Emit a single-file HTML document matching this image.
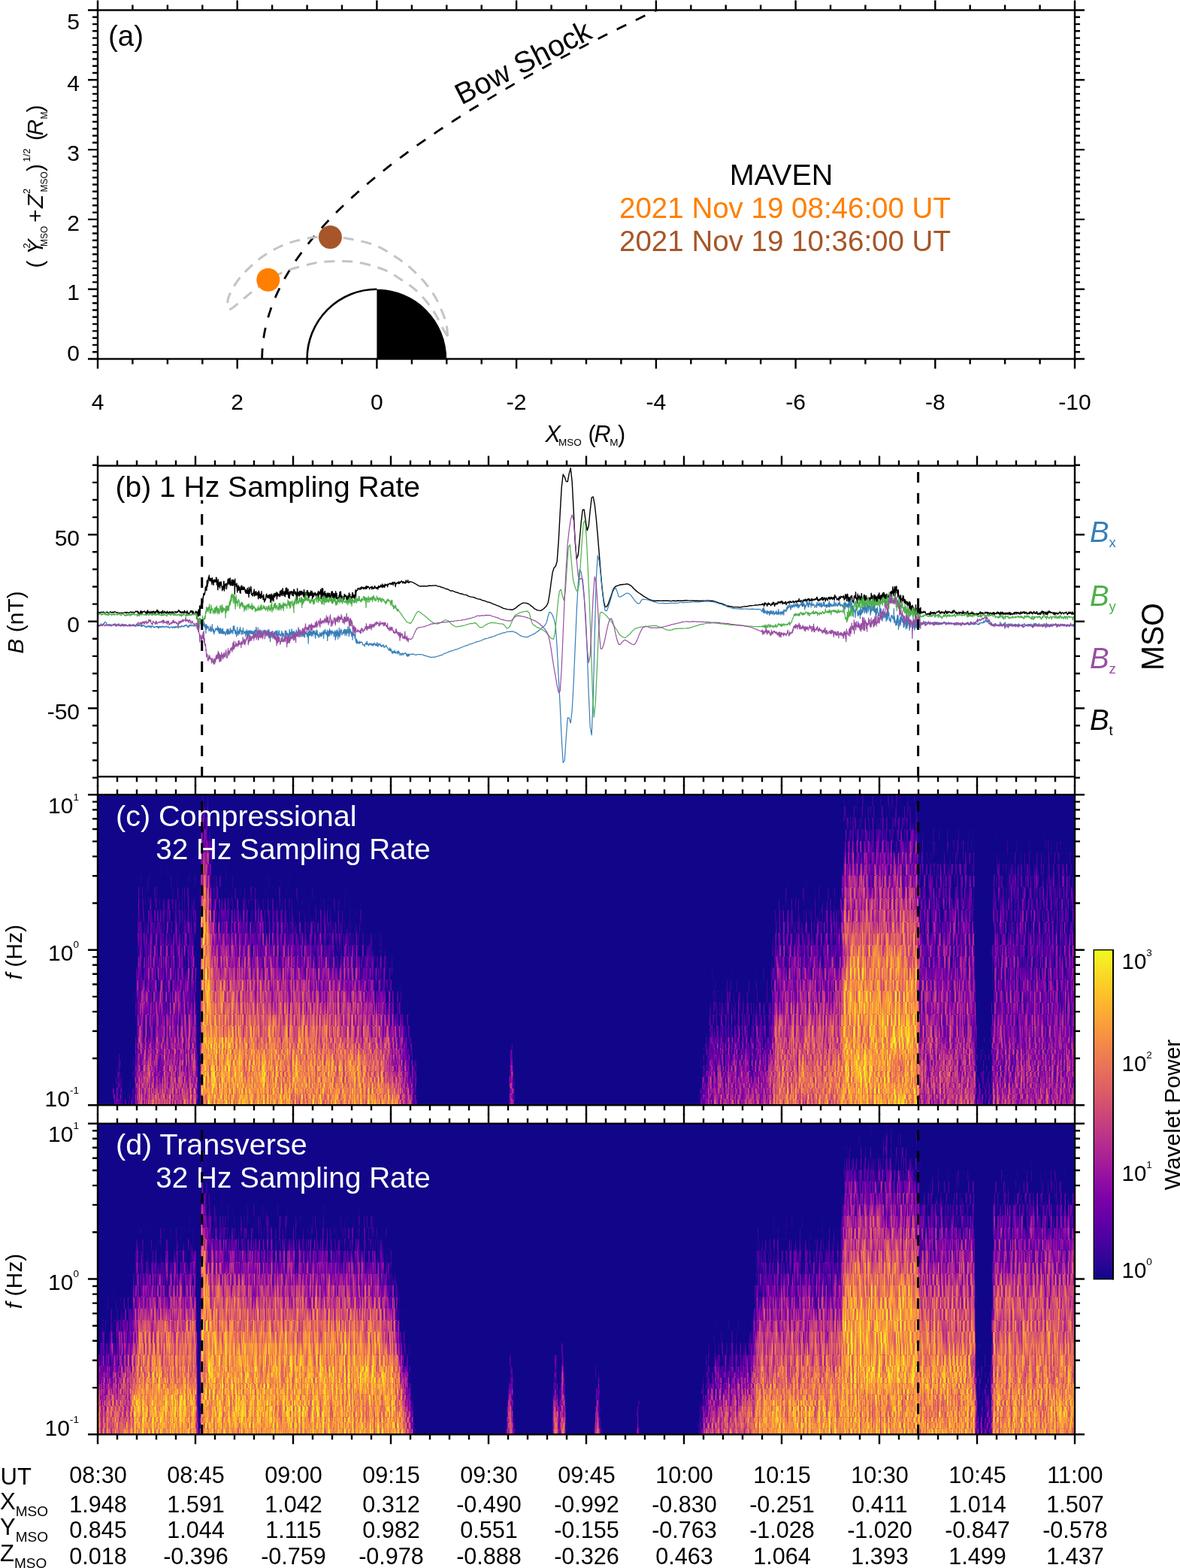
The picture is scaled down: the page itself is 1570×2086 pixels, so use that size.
<!DOCTYPE html><html><head><meta charset="utf-8"><title>MAVEN</title><style>html,body{margin:0;padding:0;background:#fff;}svg{display:block;}text{font-family:"Liberation Sans", Arial, Helvetica, sans-serif;}</style></head><body><svg width="1570" height="2086" viewBox="0 0 1570 2086"><defs><clipPath id="ca"><rect x="130" y="13.5" width="1300" height="464"/></clipPath><clipPath id="kc"><rect x="130" y="1057.2" width="1300" height="413"/></clipPath><filter id="fc" filterUnits="userSpaceOnUse" x="-40" y="1057.2" width="1640" height="413" color-interpolation-filters="sRGB"><feTurbulence type="fractalNoise" baseFrequency="0.38 0" numOctaves="2" seed="7" result="t1"/><feDisplacementMap in="t1" in2="SourceGraphic" scale="300" xChannelSelector="G" yChannelSelector="B" result="d1"/><feTurbulence type="fractalNoise" baseFrequency="0.38 0.02" numOctaves="2" seed="57" result="t2"/><feComposite in="d1" in2="t2" operator="arithmetic" k1="0" k2="0.55" k3="0.45" k4="0"/><feColorMatrix type="matrix" values="3.20 0 0 0 -1.100 3.20 0 0 0 -1.100 3.20 0 0 0 -1.100 0 0 0 0 1" result="n"/><feComposite in="SourceGraphic" in2="n" operator="arithmetic" k1="0" k2="1" k3="0.400" k4="-0.560"/><feColorMatrix type="matrix" values="1 0 0 0 0 1 0 0 0 0 1 0 0 0 0 0 0 0 0 1"/><feComponentTransfer><feFuncR type="table" tableValues="0.067 0.193 0.300 0.399 0.495 0.584 0.665 0.736 0.798 0.853 0.902 0.943 0.973 0.991 0.993 0.974 0.940"/><feFuncG type="table" tableValues="0.024 0.018 0.010 0.001 0.012 0.069 0.139 0.209 0.280 0.352 0.425 0.503 0.586 0.675 0.772 0.875 0.975"/><feFuncB type="table" tableValues="0.541 0.590 0.632 0.656 0.658 0.633 0.586 0.528 0.470 0.414 0.360 0.306 0.252 0.198 0.155 0.144 0.131"/><feFuncA type="linear" slope="0" intercept="1"/></feComponentTransfer></filter><linearGradient id="c0"><stop offset="0.0000" stop-color="#00be80"/><stop offset="0.1046" stop-color="#00be80"/><stop offset="0.1062" stop-color="#66be80"/><stop offset="0.1123" stop-color="#54be80"/><stop offset="0.1169" stop-color="#00be80"/><stop offset="0.7615" stop-color="#00be80"/><stop offset="0.7646" stop-color="#3abe80"/><stop offset="0.8385" stop-color="#42be80"/><stop offset="0.8415" stop-color="#0abe80"/><stop offset="1.0000" stop-color="#01be80"/></linearGradient><linearGradient id="c1"><stop offset="0.0000" stop-color="#00d380"/><stop offset="0.1046" stop-color="#00d380"/><stop offset="0.1062" stop-color="#76d380"/><stop offset="0.1123" stop-color="#63d380"/><stop offset="0.1138" stop-color="#4fd380"/><stop offset="0.1169" stop-color="#07d380"/><stop offset="0.1185" stop-color="#00d380"/><stop offset="0.7600" stop-color="#00d380"/><stop offset="0.7615" stop-color="#05d380"/><stop offset="0.7631" stop-color="#32d380"/><stop offset="0.7646" stop-color="#49d380"/><stop offset="0.8385" stop-color="#51d380"/><stop offset="0.8415" stop-color="#19d380"/><stop offset="0.8969" stop-color="#19d380"/><stop offset="0.8985" stop-color="#00d380"/><stop offset="0.9154" stop-color="#00d380"/><stop offset="0.9169" stop-color="#10d380"/><stop offset="1.0000" stop-color="#10d380"/></linearGradient><linearGradient id="c2"><stop offset="0.0000" stop-color="#002880"/><stop offset="0.1046" stop-color="#002880"/><stop offset="0.1062" stop-color="#852880"/><stop offset="0.1123" stop-color="#722880"/><stop offset="0.1138" stop-color="#5e2880"/><stop offset="0.1169" stop-color="#162880"/><stop offset="0.1185" stop-color="#032880"/><stop offset="0.1246" stop-color="#002880"/><stop offset="0.7600" stop-color="#002880"/><stop offset="0.7615" stop-color="#142880"/><stop offset="0.7631" stop-color="#422880"/><stop offset="0.7646" stop-color="#592880"/><stop offset="0.8385" stop-color="#612880"/><stop offset="0.8415" stop-color="#292880"/><stop offset="0.8969" stop-color="#292880"/><stop offset="0.8985" stop-color="#002880"/><stop offset="0.9154" stop-color="#002880"/><stop offset="0.9169" stop-color="#1f2880"/><stop offset="1.0000" stop-color="#1f2880"/></linearGradient><linearGradient id="c3"><stop offset="0.0000" stop-color="#005280"/><stop offset="0.1046" stop-color="#005280"/><stop offset="0.1062" stop-color="#945280"/><stop offset="0.1123" stop-color="#815280"/><stop offset="0.1138" stop-color="#6d5280"/><stop offset="0.1169" stop-color="#255280"/><stop offset="0.1185" stop-color="#135280"/><stop offset="0.1508" stop-color="#005280"/><stop offset="0.7600" stop-color="#005280"/><stop offset="0.7631" stop-color="#515280"/><stop offset="0.7646" stop-color="#685280"/><stop offset="0.8385" stop-color="#705280"/><stop offset="0.8415" stop-color="#385280"/><stop offset="0.8969" stop-color="#385280"/><stop offset="0.8985" stop-color="#005280"/><stop offset="0.9154" stop-color="#005280"/><stop offset="0.9169" stop-color="#2f5280"/><stop offset="1.0000" stop-color="#2f5280"/></linearGradient><linearGradient id="c4"><stop offset="0.0000" stop-color="#00e280"/><stop offset="0.0400" stop-color="#00e280"/><stop offset="0.0415" stop-color="#0fe280"/><stop offset="0.1000" stop-color="#0fe280"/><stop offset="0.1015" stop-color="#00e280"/><stop offset="0.1046" stop-color="#00e280"/><stop offset="0.1062" stop-color="#a3e280"/><stop offset="0.1123" stop-color="#91e280"/><stop offset="0.1138" stop-color="#7ce280"/><stop offset="0.1169" stop-color="#34e280"/><stop offset="0.1185" stop-color="#22e280"/><stop offset="0.1538" stop-color="#0de280"/><stop offset="0.2185" stop-color="#00e280"/><stop offset="0.7600" stop-color="#05e280"/><stop offset="0.7631" stop-color="#60e280"/><stop offset="0.7646" stop-color="#77e280"/><stop offset="0.8385" stop-color="#7ee280"/><stop offset="0.8415" stop-color="#47e280"/><stop offset="0.8969" stop-color="#47e280"/><stop offset="0.8985" stop-color="#00e280"/><stop offset="0.9154" stop-color="#00e280"/><stop offset="0.9169" stop-color="#3ee280"/><stop offset="1.0000" stop-color="#3ee280"/></linearGradient><linearGradient id="c5"><stop offset="0.0000" stop-color="#00a680"/><stop offset="0.0400" stop-color="#00a680"/><stop offset="0.0415" stop-color="#1ea680"/><stop offset="0.1000" stop-color="#1ea680"/><stop offset="0.1015" stop-color="#00a680"/><stop offset="0.1046" stop-color="#00a680"/><stop offset="0.1062" stop-color="#b2a680"/><stop offset="0.1123" stop-color="#a0a680"/><stop offset="0.1138" stop-color="#8ba680"/><stop offset="0.1169" stop-color="#43a680"/><stop offset="0.1185" stop-color="#31a680"/><stop offset="0.1538" stop-color="#1ca680"/><stop offset="0.2538" stop-color="#00a680"/><stop offset="0.6923" stop-color="#00a680"/><stop offset="0.6938" stop-color="#0ca680"/><stop offset="0.7600" stop-color="#14a680"/><stop offset="0.7631" stop-color="#6fa680"/><stop offset="0.7646" stop-color="#85a680"/><stop offset="0.8385" stop-color="#8ca680"/><stop offset="0.8415" stop-color="#56a680"/><stop offset="0.8969" stop-color="#56a680"/><stop offset="0.8985" stop-color="#00a680"/><stop offset="0.9154" stop-color="#00a680"/><stop offset="0.9169" stop-color="#4da680"/><stop offset="1.0000" stop-color="#4da680"/></linearGradient><linearGradient id="c6"><stop offset="0.0000" stop-color="#007680"/><stop offset="0.0400" stop-color="#007680"/><stop offset="0.0415" stop-color="#2d7680"/><stop offset="0.1000" stop-color="#2d7680"/><stop offset="0.1015" stop-color="#007680"/><stop offset="0.1046" stop-color="#007680"/><stop offset="0.1062" stop-color="#c07680"/><stop offset="0.1123" stop-color="#af7680"/><stop offset="0.1138" stop-color="#9b7680"/><stop offset="0.1169" stop-color="#537680"/><stop offset="0.1185" stop-color="#407680"/><stop offset="0.1538" stop-color="#2b7680"/><stop offset="0.2077" stop-color="#237680"/><stop offset="0.2708" stop-color="#007680"/><stop offset="0.6923" stop-color="#007680"/><stop offset="0.6938" stop-color="#1b7680"/><stop offset="0.7600" stop-color="#237680"/><stop offset="0.7631" stop-color="#7c7680"/><stop offset="0.7646" stop-color="#927680"/><stop offset="0.8385" stop-color="#997680"/><stop offset="0.8400" stop-color="#777680"/><stop offset="0.8415" stop-color="#657680"/><stop offset="0.8969" stop-color="#657680"/><stop offset="0.8985" stop-color="#007680"/><stop offset="0.9154" stop-color="#007680"/><stop offset="0.9169" stop-color="#5c7680"/><stop offset="1.0000" stop-color="#5c7680"/></linearGradient><linearGradient id="c7"><stop offset="0.0000" stop-color="#006b80"/><stop offset="0.0385" stop-color="#006b80"/><stop offset="0.0400" stop-color="#0c6b80"/><stop offset="0.0415" stop-color="#3c6b80"/><stop offset="0.1000" stop-color="#3c6b80"/><stop offset="0.1015" stop-color="#006b80"/><stop offset="0.1046" stop-color="#006b80"/><stop offset="0.1062" stop-color="#ce6b80"/><stop offset="0.1123" stop-color="#be6b80"/><stop offset="0.1138" stop-color="#aa6b80"/><stop offset="0.1169" stop-color="#626b80"/><stop offset="0.1185" stop-color="#4f6b80"/><stop offset="0.1538" stop-color="#3a6b80"/><stop offset="0.2615" stop-color="#1b6b80"/><stop offset="0.2800" stop-color="#006b80"/><stop offset="0.6908" stop-color="#006b80"/><stop offset="0.6923" stop-color="#096b80"/><stop offset="0.6938" stop-color="#2a6b80"/><stop offset="0.7600" stop-color="#326b80"/><stop offset="0.7631" stop-color="#896b80"/><stop offset="0.7646" stop-color="#9e6b80"/><stop offset="0.8385" stop-color="#a56b80"/><stop offset="0.8400" stop-color="#806b80"/><stop offset="0.8415" stop-color="#6c6b80"/><stop offset="0.8969" stop-color="#6c6b80"/><stop offset="0.8985" stop-color="#006b80"/><stop offset="0.9154" stop-color="#006b80"/><stop offset="0.9169" stop-color="#656b80"/><stop offset="1.0000" stop-color="#656b80"/></linearGradient><linearGradient id="c8"><stop offset="0.0000" stop-color="#00c880"/><stop offset="0.0385" stop-color="#00c880"/><stop offset="0.0400" stop-color="#1cc880"/><stop offset="0.0415" stop-color="#4cc880"/><stop offset="0.1000" stop-color="#4cc880"/><stop offset="0.1015" stop-color="#00c880"/><stop offset="0.1046" stop-color="#00c880"/><stop offset="0.1062" stop-color="#dbc880"/><stop offset="0.1123" stop-color="#ccc880"/><stop offset="0.1138" stop-color="#b8c880"/><stop offset="0.1169" stop-color="#71c880"/><stop offset="0.1185" stop-color="#5ec880"/><stop offset="0.1538" stop-color="#49c880"/><stop offset="0.2615" stop-color="#2ac880"/><stop offset="0.2908" stop-color="#00c880"/><stop offset="0.6908" stop-color="#00c880"/><stop offset="0.6938" stop-color="#39c880"/><stop offset="0.7600" stop-color="#41c880"/><stop offset="0.7631" stop-color="#96c880"/><stop offset="0.7646" stop-color="#aac880"/><stop offset="0.8385" stop-color="#b1c880"/><stop offset="0.8400" stop-color="#89c880"/><stop offset="0.8415" stop-color="#71c880"/><stop offset="0.8969" stop-color="#71c880"/><stop offset="0.8985" stop-color="#00c880"/><stop offset="0.9154" stop-color="#00c880"/><stop offset="0.9169" stop-color="#69c880"/><stop offset="1.0000" stop-color="#69c880"/></linearGradient><linearGradient id="c9"><stop offset="0.0000" stop-color="#009d80"/><stop offset="0.0385" stop-color="#009d80"/><stop offset="0.0415" stop-color="#5b9d80"/><stop offset="0.1000" stop-color="#5b9d80"/><stop offset="0.1015" stop-color="#009d80"/><stop offset="0.1046" stop-color="#009d80"/><stop offset="0.1062" stop-color="#e79d80"/><stop offset="0.1123" stop-color="#d99d80"/><stop offset="0.1138" stop-color="#c69d80"/><stop offset="0.1169" stop-color="#809d80"/><stop offset="0.1185" stop-color="#6e9d80"/><stop offset="0.1538" stop-color="#599d80"/><stop offset="0.2615" stop-color="#3a9d80"/><stop offset="0.2969" stop-color="#009d80"/><stop offset="0.6892" stop-color="#009d80"/><stop offset="0.6908" stop-color="#079d80"/><stop offset="0.6938" stop-color="#489d80"/><stop offset="0.7600" stop-color="#519d80"/><stop offset="0.7631" stop-color="#a29d80"/><stop offset="0.7646" stop-color="#b59d80"/><stop offset="0.8385" stop-color="#bc9d80"/><stop offset="0.8400" stop-color="#919d80"/><stop offset="0.8415" stop-color="#769d80"/><stop offset="0.8969" stop-color="#769d80"/><stop offset="0.8985" stop-color="#0f9d80"/><stop offset="0.9000" stop-color="#009d80"/><stop offset="0.9138" stop-color="#009d80"/><stop offset="0.9154" stop-color="#0b9d80"/><stop offset="0.9169" stop-color="#6d9d80"/><stop offset="1.0000" stop-color="#6d9d80"/></linearGradient><linearGradient id="c10"><stop offset="0.0000" stop-color="#002680"/><stop offset="0.0385" stop-color="#002680"/><stop offset="0.0415" stop-color="#6a2680"/><stop offset="0.1000" stop-color="#6a2680"/><stop offset="0.1015" stop-color="#002680"/><stop offset="0.1046" stop-color="#002680"/><stop offset="0.1062" stop-color="#f32680"/><stop offset="0.1123" stop-color="#e52680"/><stop offset="0.1138" stop-color="#d32680"/><stop offset="0.1169" stop-color="#8f2680"/><stop offset="0.1185" stop-color="#7d2680"/><stop offset="0.1538" stop-color="#682680"/><stop offset="0.2615" stop-color="#492680"/><stop offset="0.2923" stop-color="#1b2680"/><stop offset="0.3015" stop-color="#002680"/><stop offset="0.6892" stop-color="#002680"/><stop offset="0.6938" stop-color="#582680"/><stop offset="0.7600" stop-color="#602680"/><stop offset="0.7631" stop-color="#ad2680"/><stop offset="0.7646" stop-color="#c02680"/><stop offset="0.8385" stop-color="#c62680"/><stop offset="0.8415" stop-color="#7b2680"/><stop offset="0.8969" stop-color="#7b2680"/><stop offset="0.8985" stop-color="#1f2680"/><stop offset="0.9000" stop-color="#002680"/><stop offset="0.9138" stop-color="#002680"/><stop offset="0.9154" stop-color="#1a2680"/><stop offset="0.9169" stop-color="#712680"/><stop offset="1.0000" stop-color="#712680"/></linearGradient><linearGradient id="c11"><stop offset="0.0000" stop-color="#005780"/><stop offset="0.0385" stop-color="#005780"/><stop offset="0.0400" stop-color="#495780"/><stop offset="0.0415" stop-color="#715780"/><stop offset="0.1000" stop-color="#715780"/><stop offset="0.1015" stop-color="#035780"/><stop offset="0.1046" stop-color="#005780"/><stop offset="0.1062" stop-color="#fd5780"/><stop offset="0.1123" stop-color="#f15780"/><stop offset="0.1138" stop-color="#df5780"/><stop offset="0.1169" stop-color="#9d5780"/><stop offset="0.1185" stop-color="#8b5780"/><stop offset="0.1538" stop-color="#775780"/><stop offset="0.2615" stop-color="#585780"/><stop offset="0.2923" stop-color="#2a5780"/><stop offset="0.3077" stop-color="#005780"/><stop offset="0.6877" stop-color="#005780"/><stop offset="0.6892" stop-color="#055780"/><stop offset="0.6938" stop-color="#665780"/><stop offset="0.7600" stop-color="#6c5780"/><stop offset="0.7631" stop-color="#b75780"/><stop offset="0.7646" stop-color="#c95780"/><stop offset="0.7723" stop-color="#ca5780"/><stop offset="0.8385" stop-color="#cf5780"/><stop offset="0.8415" stop-color="#805780"/><stop offset="0.8969" stop-color="#805780"/><stop offset="0.8985" stop-color="#2e5780"/><stop offset="0.9000" stop-color="#005780"/><stop offset="0.9138" stop-color="#005780"/><stop offset="0.9154" stop-color="#295780"/><stop offset="0.9169" stop-color="#745780"/><stop offset="1.0000" stop-color="#745780"/></linearGradient><linearGradient id="c12"><stop offset="0.0000" stop-color="#006880"/><stop offset="0.0385" stop-color="#006880"/><stop offset="0.0400" stop-color="#586880"/><stop offset="0.0415" stop-color="#756880"/><stop offset="0.1000" stop-color="#756880"/><stop offset="0.1015" stop-color="#126880"/><stop offset="0.1031" stop-color="#006880"/><stop offset="0.1046" stop-color="#006880"/><stop offset="0.1062" stop-color="#ff6880"/><stop offset="0.1123" stop-color="#fc6880"/><stop offset="0.1138" stop-color="#eb6880"/><stop offset="0.1169" stop-color="#aa6880"/><stop offset="0.1185" stop-color="#996880"/><stop offset="0.1538" stop-color="#856880"/><stop offset="0.2615" stop-color="#676880"/><stop offset="0.2923" stop-color="#396880"/><stop offset="0.3123" stop-color="#006880"/><stop offset="0.6877" stop-color="#046880"/><stop offset="0.6892" stop-color="#146880"/><stop offset="0.6938" stop-color="#716880"/><stop offset="0.7600" stop-color="#776880"/><stop offset="0.7631" stop-color="#c16880"/><stop offset="0.7646" stop-color="#d26880"/><stop offset="0.7754" stop-color="#d66880"/><stop offset="0.8385" stop-color="#d86880"/><stop offset="0.8415" stop-color="#856880"/><stop offset="0.8969" stop-color="#856880"/><stop offset="0.9000" stop-color="#006880"/><stop offset="0.9138" stop-color="#006880"/><stop offset="0.9169" stop-color="#786880"/><stop offset="1.0000" stop-color="#786880"/></linearGradient><linearGradient id="c13"><stop offset="0.0000" stop-color="#007d80"/><stop offset="0.0369" stop-color="#007d80"/><stop offset="0.0385" stop-color="#087d80"/><stop offset="0.0400" stop-color="#647d80"/><stop offset="0.0415" stop-color="#797d80"/><stop offset="0.1000" stop-color="#797d80"/><stop offset="0.1015" stop-color="#217d80"/><stop offset="0.1031" stop-color="#007d80"/><stop offset="0.1046" stop-color="#007d80"/><stop offset="0.1062" stop-color="#ff7d80"/><stop offset="0.1138" stop-color="#f67d80"/><stop offset="0.1169" stop-color="#b77d80"/><stop offset="0.1185" stop-color="#a67d80"/><stop offset="0.1538" stop-color="#927d80"/><stop offset="0.2615" stop-color="#767d80"/><stop offset="0.2923" stop-color="#487d80"/><stop offset="0.3169" stop-color="#007d80"/><stop offset="0.6246" stop-color="#007d80"/><stop offset="0.6277" stop-color="#137d80"/><stop offset="0.6877" stop-color="#137d80"/><stop offset="0.6892" stop-color="#237d80"/><stop offset="0.6938" stop-color="#7c7d80"/><stop offset="0.7600" stop-color="#827d80"/><stop offset="0.7631" stop-color="#cb7d80"/><stop offset="0.7646" stop-color="#db7d80"/><stop offset="0.7769" stop-color="#e37d80"/><stop offset="0.8385" stop-color="#e07d80"/><stop offset="0.8415" stop-color="#897d80"/><stop offset="0.8969" stop-color="#897d80"/><stop offset="0.9000" stop-color="#007d80"/><stop offset="0.9138" stop-color="#007d80"/><stop offset="0.9154" stop-color="#487d80"/><stop offset="0.9169" stop-color="#7c7d80"/><stop offset="1.0000" stop-color="#7c7d80"/></linearGradient><linearGradient id="c14"><stop offset="0.0000" stop-color="#003980"/><stop offset="0.0369" stop-color="#003980"/><stop offset="0.0385" stop-color="#173980"/><stop offset="0.0400" stop-color="#683980"/><stop offset="0.0415" stop-color="#7d3980"/><stop offset="0.1000" stop-color="#7e3980"/><stop offset="0.1015" stop-color="#313980"/><stop offset="0.1031" stop-color="#003980"/><stop offset="0.1046" stop-color="#003980"/><stop offset="0.1062" stop-color="#ff3980"/><stop offset="0.1138" stop-color="#ff3980"/><stop offset="0.1169" stop-color="#c33980"/><stop offset="0.1185" stop-color="#b33980"/><stop offset="0.1538" stop-color="#9f3980"/><stop offset="0.2615" stop-color="#843980"/><stop offset="0.2923" stop-color="#583980"/><stop offset="0.3200" stop-color="#003980"/><stop offset="0.6231" stop-color="#003980"/><stop offset="0.6277" stop-color="#223980"/><stop offset="0.6877" stop-color="#223980"/><stop offset="0.6892" stop-color="#323980"/><stop offset="0.6938" stop-color="#863980"/><stop offset="0.7600" stop-color="#8d3980"/><stop offset="0.7631" stop-color="#d43980"/><stop offset="0.7646" stop-color="#e43980"/><stop offset="0.7769" stop-color="#f13980"/><stop offset="0.7938" stop-color="#e43980"/><stop offset="0.8385" stop-color="#e73980"/><stop offset="0.8415" stop-color="#8e3980"/><stop offset="0.8969" stop-color="#8e3980"/><stop offset="0.8985" stop-color="#583980"/><stop offset="0.9000" stop-color="#003980"/><stop offset="0.9138" stop-color="#003980"/><stop offset="0.9154" stop-color="#543980"/><stop offset="0.9169" stop-color="#7f3980"/><stop offset="1.0000" stop-color="#7f3980"/></linearGradient><linearGradient id="c15"><stop offset="0.0000" stop-color="#00e980"/><stop offset="0.0369" stop-color="#00e980"/><stop offset="0.0385" stop-color="#26e980"/><stop offset="0.0400" stop-color="#6de980"/><stop offset="0.0415" stop-color="#81e980"/><stop offset="0.1000" stop-color="#82e980"/><stop offset="0.1031" stop-color="#00e980"/><stop offset="0.1046" stop-color="#00e980"/><stop offset="0.1062" stop-color="#ffe980"/><stop offset="0.1138" stop-color="#ffe980"/><stop offset="0.1185" stop-color="#bfe980"/><stop offset="0.1538" stop-color="#ace980"/><stop offset="0.2615" stop-color="#92e980"/><stop offset="0.2923" stop-color="#68e980"/><stop offset="0.3185" stop-color="#18e980"/><stop offset="0.3215" stop-color="#00e980"/><stop offset="0.6200" stop-color="#00e980"/><stop offset="0.6215" stop-color="#01e980"/><stop offset="0.6277" stop-color="#31e980"/><stop offset="0.6877" stop-color="#31e980"/><stop offset="0.6938" stop-color="#90e980"/><stop offset="0.7600" stop-color="#97e980"/><stop offset="0.7631" stop-color="#dce980"/><stop offset="0.7646" stop-color="#ebe980"/><stop offset="0.7769" stop-color="#fce980"/><stop offset="0.7938" stop-color="#ebe980"/><stop offset="0.8385" stop-color="#eee980"/><stop offset="0.8415" stop-color="#92e980"/><stop offset="0.8969" stop-color="#92e980"/><stop offset="0.8985" stop-color="#5de980"/><stop offset="0.9000" stop-color="#00e980"/><stop offset="0.9138" stop-color="#00e980"/><stop offset="0.9154" stop-color="#59e980"/><stop offset="0.9169" stop-color="#83e980"/><stop offset="1.0000" stop-color="#83e980"/></linearGradient><linearGradient id="c16"><stop offset="0.0000" stop-color="#009780"/><stop offset="0.0369" stop-color="#009780"/><stop offset="0.0400" stop-color="#729780"/><stop offset="0.0415" stop-color="#859780"/><stop offset="0.1000" stop-color="#879780"/><stop offset="0.1015" stop-color="#4f9780"/><stop offset="0.1031" stop-color="#009780"/><stop offset="0.1046" stop-color="#009780"/><stop offset="0.1062" stop-color="#ff9780"/><stop offset="0.1138" stop-color="#ff9780"/><stop offset="0.1154" stop-color="#f79780"/><stop offset="0.1185" stop-color="#cb9780"/><stop offset="0.2677" stop-color="#989780"/><stop offset="0.2923" stop-color="#789780"/><stop offset="0.3185" stop-color="#279780"/><stop offset="0.3231" stop-color="#009780"/><stop offset="0.4215" stop-color="#009780"/><stop offset="0.4231" stop-color="#109780"/><stop offset="0.4246" stop-color="#109780"/><stop offset="0.4262" stop-color="#009780"/><stop offset="0.6185" stop-color="#009780"/><stop offset="0.6200" stop-color="#029780"/><stop offset="0.6277" stop-color="#409780"/><stop offset="0.6877" stop-color="#409780"/><stop offset="0.6938" stop-color="#9a9780"/><stop offset="0.7600" stop-color="#a19780"/><stop offset="0.7631" stop-color="#e39780"/><stop offset="0.7646" stop-color="#f29780"/><stop offset="0.7738" stop-color="#ff9780"/><stop offset="0.7938" stop-color="#f19780"/><stop offset="0.8385" stop-color="#f49780"/><stop offset="0.8415" stop-color="#979780"/><stop offset="0.8969" stop-color="#979780"/><stop offset="0.8985" stop-color="#639780"/><stop offset="0.9000" stop-color="#009780"/><stop offset="0.9138" stop-color="#009780"/><stop offset="0.9154" stop-color="#5e9780"/><stop offset="0.9169" stop-color="#879780"/><stop offset="1.0000" stop-color="#879780"/></linearGradient><linearGradient id="c17"><stop offset="0.0000" stop-color="#00b680"/><stop offset="0.0369" stop-color="#00b680"/><stop offset="0.0385" stop-color="#44b680"/><stop offset="0.0400" stop-color="#76b680"/><stop offset="0.0415" stop-color="#8ab680"/><stop offset="0.1000" stop-color="#8cb680"/><stop offset="0.1015" stop-color="#58b680"/><stop offset="0.1031" stop-color="#06b680"/><stop offset="0.1046" stop-color="#06b680"/><stop offset="0.1062" stop-color="#ffb680"/><stop offset="0.1154" stop-color="#ffb680"/><stop offset="0.1185" stop-color="#d6b680"/><stop offset="0.1538" stop-color="#c3b680"/><stop offset="0.2615" stop-color="#abb680"/><stop offset="0.2754" stop-color="#9cb680"/><stop offset="0.2923" stop-color="#87b680"/><stop offset="0.3185" stop-color="#36b680"/><stop offset="0.3246" stop-color="#00b680"/><stop offset="0.4215" stop-color="#00b680"/><stop offset="0.4231" stop-color="#1fb680"/><stop offset="0.4246" stop-color="#1fb680"/><stop offset="0.4262" stop-color="#00b680"/><stop offset="0.6185" stop-color="#00b680"/><stop offset="0.6277" stop-color="#50b680"/><stop offset="0.6877" stop-color="#50b680"/><stop offset="0.6938" stop-color="#a3b680"/><stop offset="0.7600" stop-color="#abb680"/><stop offset="0.7631" stop-color="#e9b680"/><stop offset="0.7646" stop-color="#f6b680"/><stop offset="0.7723" stop-color="#ffb680"/><stop offset="0.8385" stop-color="#f9b680"/><stop offset="0.8415" stop-color="#9bb680"/><stop offset="0.8969" stop-color="#9bb680"/><stop offset="0.8985" stop-color="#69b680"/><stop offset="0.9000" stop-color="#06b680"/><stop offset="0.9138" stop-color="#06b680"/><stop offset="0.9154" stop-color="#63b680"/><stop offset="0.9169" stop-color="#8bb680"/><stop offset="1.0000" stop-color="#8bb680"/></linearGradient><linearGradient id="c18"><stop offset="0.0000" stop-color="#005380"/><stop offset="0.0185" stop-color="#005380"/><stop offset="0.0215" stop-color="#0d5380"/><stop offset="0.0231" stop-color="#005380"/><stop offset="0.0369" stop-color="#005380"/><stop offset="0.0385" stop-color="#4f5380"/><stop offset="0.0400" stop-color="#7b5380"/><stop offset="0.0415" stop-color="#8f5380"/><stop offset="0.1000" stop-color="#905380"/><stop offset="0.1015" stop-color="#5d5380"/><stop offset="0.1031" stop-color="#155380"/><stop offset="0.1046" stop-color="#155380"/><stop offset="0.1062" stop-color="#ff5380"/><stop offset="0.1154" stop-color="#ff5380"/><stop offset="0.1185" stop-color="#e15380"/><stop offset="0.1508" stop-color="#cf5380"/><stop offset="0.2615" stop-color="#b75380"/><stop offset="0.2846" stop-color="#9f5380"/><stop offset="0.2923" stop-color="#965380"/><stop offset="0.3185" stop-color="#455380"/><stop offset="0.3262" stop-color="#005380"/><stop offset="0.4215" stop-color="#005380"/><stop offset="0.4231" stop-color="#2e5380"/><stop offset="0.4246" stop-color="#2e5380"/><stop offset="0.4262" stop-color="#005380"/><stop offset="0.6169" stop-color="#005380"/><stop offset="0.6277" stop-color="#5f5380"/><stop offset="0.6877" stop-color="#5f5380"/><stop offset="0.6938" stop-color="#ac5380"/><stop offset="0.7600" stop-color="#b35380"/><stop offset="0.7631" stop-color="#ee5380"/><stop offset="0.7646" stop-color="#fa5380"/><stop offset="0.7708" stop-color="#ff5380"/><stop offset="0.8385" stop-color="#fe5380"/><stop offset="0.8415" stop-color="#9f5380"/><stop offset="0.8969" stop-color="#9f5380"/><stop offset="0.8985" stop-color="#6f5380"/><stop offset="0.9000" stop-color="#155380"/><stop offset="0.9138" stop-color="#155380"/><stop offset="0.9154" stop-color="#685380"/><stop offset="0.9169" stop-color="#8e5380"/><stop offset="1.0000" stop-color="#8e5380"/></linearGradient><linearGradient id="c19"><stop offset="0.0000" stop-color="#00bf80"/><stop offset="0.0154" stop-color="#00bf80"/><stop offset="0.0215" stop-color="#1cbf80"/><stop offset="0.0246" stop-color="#00bf80"/><stop offset="0.0369" stop-color="#03bf80"/><stop offset="0.0385" stop-color="#55bf80"/><stop offset="0.0400" stop-color="#80bf80"/><stop offset="0.0415" stop-color="#93bf80"/><stop offset="0.1000" stop-color="#96bf80"/><stop offset="0.1031" stop-color="#25bf80"/><stop offset="0.1046" stop-color="#25bf80"/><stop offset="0.1062" stop-color="#ffbf80"/><stop offset="0.1154" stop-color="#ffbf80"/><stop offset="0.1185" stop-color="#eebf80"/><stop offset="0.1538" stop-color="#d7bf80"/><stop offset="0.2615" stop-color="#c2bf80"/><stop offset="0.2923" stop-color="#a4bf80"/><stop offset="0.3185" stop-color="#54bf80"/><stop offset="0.3277" stop-color="#00bf80"/><stop offset="0.4200" stop-color="#00bf80"/><stop offset="0.4215" stop-color="#10bf80"/><stop offset="0.4231" stop-color="#3ebf80"/><stop offset="0.4246" stop-color="#3ebf80"/><stop offset="0.4262" stop-color="#00bf80"/><stop offset="0.6154" stop-color="#00bf80"/><stop offset="0.6169" stop-color="#02bf80"/><stop offset="0.6200" stop-color="#30bf80"/><stop offset="0.6277" stop-color="#6abf80"/><stop offset="0.6877" stop-color="#6abf80"/><stop offset="0.6892" stop-color="#75bf80"/><stop offset="0.6938" stop-color="#b5bf80"/><stop offset="0.7600" stop-color="#bcbf80"/><stop offset="0.7631" stop-color="#f2bf80"/><stop offset="0.7646" stop-color="#fdbf80"/><stop offset="0.7692" stop-color="#ffbf80"/><stop offset="0.8385" stop-color="#ffbf80"/><stop offset="0.8415" stop-color="#a4bf80"/><stop offset="0.8969" stop-color="#a4bf80"/><stop offset="0.8985" stop-color="#74bf80"/><stop offset="0.9000" stop-color="#24bf80"/><stop offset="0.9138" stop-color="#24bf80"/><stop offset="0.9154" stop-color="#6dbf80"/><stop offset="0.9169" stop-color="#92bf80"/><stop offset="1.0000" stop-color="#92bf80"/></linearGradient><linearGradient id="c20"><stop offset="0.0000" stop-color="#008e80"/><stop offset="0.0154" stop-color="#028e80"/><stop offset="0.0215" stop-color="#2c8e80"/><stop offset="0.0262" stop-color="#008e80"/><stop offset="0.0323" stop-color="#018e80"/><stop offset="0.0369" stop-color="#128e80"/><stop offset="0.0385" stop-color="#5b8e80"/><stop offset="0.0400" stop-color="#858e80"/><stop offset="0.0415" stop-color="#988e80"/><stop offset="0.1000" stop-color="#9b8e80"/><stop offset="0.1031" stop-color="#358e80"/><stop offset="0.1046" stop-color="#358e80"/><stop offset="0.1062" stop-color="#ff8e80"/><stop offset="0.1538" stop-color="#e08e80"/><stop offset="0.2615" stop-color="#cd8e80"/><stop offset="0.2923" stop-color="#b28e80"/><stop offset="0.3185" stop-color="#638e80"/><stop offset="0.3262" stop-color="#1a8e80"/><stop offset="0.3277" stop-color="#038e80"/><stop offset="0.3292" stop-color="#008e80"/><stop offset="0.4200" stop-color="#008e80"/><stop offset="0.4231" stop-color="#4d8e80"/><stop offset="0.4246" stop-color="#4d8e80"/><stop offset="0.4262" stop-color="#088e80"/><stop offset="0.4277" stop-color="#008e80"/><stop offset="0.6154" stop-color="#008e80"/><stop offset="0.6200" stop-color="#3f8e80"/><stop offset="0.6277" stop-color="#738e80"/><stop offset="0.6877" stop-color="#748e80"/><stop offset="0.6938" stop-color="#bd8e80"/><stop offset="0.7600" stop-color="#c48e80"/><stop offset="0.7631" stop-color="#f68e80"/><stop offset="0.7646" stop-color="#ff8e80"/><stop offset="0.8385" stop-color="#ff8e80"/><stop offset="0.8415" stop-color="#a88e80"/><stop offset="0.8969" stop-color="#a88e80"/><stop offset="0.8985" stop-color="#7a8e80"/><stop offset="0.9000" stop-color="#338e80"/><stop offset="0.9138" stop-color="#338e80"/><stop offset="0.9154" stop-color="#728e80"/><stop offset="0.9169" stop-color="#968e80"/><stop offset="1.0000" stop-color="#968e80"/></linearGradient><linearGradient id="c21"><stop offset="0.0000" stop-color="#009680"/><stop offset="0.0138" stop-color="#009680"/><stop offset="0.0169" stop-color="#1e9680"/><stop offset="0.0215" stop-color="#379680"/><stop offset="0.0277" stop-color="#009680"/><stop offset="0.0369" stop-color="#1d9680"/><stop offset="0.0385" stop-color="#5f9680"/><stop offset="0.0400" stop-color="#899680"/><stop offset="0.0415" stop-color="#9c9680"/><stop offset="0.1000" stop-color="#a09680"/><stop offset="0.1031" stop-color="#419680"/><stop offset="0.1046" stop-color="#429680"/><stop offset="0.1062" stop-color="#ff9680"/><stop offset="0.1308" stop-color="#ff9680"/><stop offset="0.1538" stop-color="#e69680"/><stop offset="0.2615" stop-color="#d49680"/><stop offset="0.2923" stop-color="#bc9680"/><stop offset="0.3185" stop-color="#6d9680"/><stop offset="0.3292" stop-color="#009680"/><stop offset="0.4200" stop-color="#009680"/><stop offset="0.4231" stop-color="#589680"/><stop offset="0.4246" stop-color="#589680"/><stop offset="0.4262" stop-color="#139680"/><stop offset="0.4277" stop-color="#009680"/><stop offset="0.6138" stop-color="#009680"/><stop offset="0.6154" stop-color="#029680"/><stop offset="0.6185" stop-color="#379680"/><stop offset="0.6215" stop-color="#589680"/><stop offset="0.6277" stop-color="#7a9680"/><stop offset="0.6877" stop-color="#7b9680"/><stop offset="0.6938" stop-color="#c29680"/><stop offset="0.7600" stop-color="#ca9680"/><stop offset="0.7631" stop-color="#f99680"/><stop offset="0.7646" stop-color="#ff9680"/><stop offset="0.8385" stop-color="#ff9680"/><stop offset="0.8415" stop-color="#ab9680"/><stop offset="0.8969" stop-color="#ab9680"/><stop offset="0.8985" stop-color="#7e9680"/><stop offset="0.9000" stop-color="#3f9680"/><stop offset="0.9138" stop-color="#3f9680"/><stop offset="0.9154" stop-color="#769680"/><stop offset="0.9169" stop-color="#989680"/><stop offset="1.0000" stop-color="#989680"/></linearGradient><linearGradient id="c22"><stop offset="0.0000" stop-color="#04bb80"/><stop offset="0.0138" stop-color="#04bb80"/><stop offset="0.0169" stop-color="#25bb80"/><stop offset="0.0215" stop-color="#3ebb80"/><stop offset="0.0277" stop-color="#04bb80"/><stop offset="0.0369" stop-color="#25bb80"/><stop offset="0.0385" stop-color="#62bb80"/><stop offset="0.0400" stop-color="#8cbb80"/><stop offset="0.0415" stop-color="#9fbb80"/><stop offset="0.1000" stop-color="#a3bb80"/><stop offset="0.1031" stop-color="#46bb80"/><stop offset="0.1046" stop-color="#47bb80"/><stop offset="0.1062" stop-color="#ffbb80"/><stop offset="0.1338" stop-color="#ffbb80"/><stop offset="0.1538" stop-color="#eabb80"/><stop offset="0.2615" stop-color="#d9bb80"/><stop offset="0.2923" stop-color="#c3bb80"/><stop offset="0.3185" stop-color="#73bb80"/><stop offset="0.3262" stop-color="#2dbb80"/><stop offset="0.3292" stop-color="#00bb80"/><stop offset="0.4200" stop-color="#00bb80"/><stop offset="0.4231" stop-color="#61bb80"/><stop offset="0.4246" stop-color="#61bb80"/><stop offset="0.4262" stop-color="#1bbb80"/><stop offset="0.4277" stop-color="#00bb80"/><stop offset="0.6138" stop-color="#00bb80"/><stop offset="0.6154" stop-color="#0abb80"/><stop offset="0.6200" stop-color="#52bb80"/><stop offset="0.6277" stop-color="#7ebb80"/><stop offset="0.6877" stop-color="#80bb80"/><stop offset="0.6938" stop-color="#c6bb80"/><stop offset="0.7600" stop-color="#cdbb80"/><stop offset="0.7631" stop-color="#fbbb80"/><stop offset="0.7646" stop-color="#ffbb80"/><stop offset="0.8385" stop-color="#ffbb80"/><stop offset="0.8415" stop-color="#acbb80"/><stop offset="0.8969" stop-color="#acbb80"/><stop offset="0.8985" stop-color="#80bb80"/><stop offset="0.9000" stop-color="#45bb80"/><stop offset="0.9138" stop-color="#45bb80"/><stop offset="0.9154" stop-color="#78bb80"/><stop offset="0.9169" stop-color="#9abb80"/><stop offset="1.0000" stop-color="#9abb80"/></linearGradient><linearGradient id="c23"><stop offset="0.0000" stop-color="#0b0f80"/><stop offset="0.0138" stop-color="#0b0f80"/><stop offset="0.0169" stop-color="#2d0f80"/><stop offset="0.0215" stop-color="#460f80"/><stop offset="0.0277" stop-color="#0b0f80"/><stop offset="0.0369" stop-color="#2c0f80"/><stop offset="0.0385" stop-color="#650f80"/><stop offset="0.0400" stop-color="#8f0f80"/><stop offset="0.0415" stop-color="#a20f80"/><stop offset="0.1000" stop-color="#a60f80"/><stop offset="0.1031" stop-color="#490f80"/><stop offset="0.1046" stop-color="#4a0f80"/><stop offset="0.1062" stop-color="#ff0f80"/><stop offset="0.2615" stop-color="#dd0f80"/><stop offset="0.2923" stop-color="#c90f80"/><stop offset="0.3077" stop-color="#a20f80"/><stop offset="0.3185" stop-color="#7a0f80"/><stop offset="0.3262" stop-color="#350f80"/><stop offset="0.3292" stop-color="#000f80"/><stop offset="0.4200" stop-color="#000f80"/><stop offset="0.4231" stop-color="#6b0f80"/><stop offset="0.4246" stop-color="#6b0f80"/><stop offset="0.4262" stop-color="#220f80"/><stop offset="0.4277" stop-color="#000f80"/><stop offset="0.6138" stop-color="#000f80"/><stop offset="0.6200" stop-color="#590f80"/><stop offset="0.6277" stop-color="#830f80"/><stop offset="0.6877" stop-color="#850f80"/><stop offset="0.6938" stop-color="#c90f80"/><stop offset="0.7600" stop-color="#d10f80"/><stop offset="0.7631" stop-color="#fc0f80"/><stop offset="0.7646" stop-color="#ff0f80"/><stop offset="0.8385" stop-color="#ff0f80"/><stop offset="0.8415" stop-color="#ae0f80"/><stop offset="0.8969" stop-color="#ae0f80"/><stop offset="0.9000" stop-color="#490f80"/><stop offset="0.9138" stop-color="#490f80"/><stop offset="0.9154" stop-color="#7a0f80"/><stop offset="0.9169" stop-color="#9c0f80"/><stop offset="1.0000" stop-color="#9c0f80"/></linearGradient><linearGradient id="c24"><stop offset="0.0000" stop-color="#125a80"/><stop offset="0.0138" stop-color="#125a80"/><stop offset="0.0169" stop-color="#345a80"/><stop offset="0.0215" stop-color="#4d5a80"/><stop offset="0.0277" stop-color="#125a80"/><stop offset="0.0369" stop-color="#345a80"/><stop offset="0.0400" stop-color="#925a80"/><stop offset="0.0415" stop-color="#a45a80"/><stop offset="0.1000" stop-color="#a95a80"/><stop offset="0.1031" stop-color="#4b5a80"/><stop offset="0.1046" stop-color="#4c5a80"/><stop offset="0.1062" stop-color="#ff5a80"/><stop offset="0.2615" stop-color="#e15a80"/><stop offset="0.2923" stop-color="#cf5a80"/><stop offset="0.3077" stop-color="#aa5a80"/><stop offset="0.3185" stop-color="#805a80"/><stop offset="0.3262" stop-color="#3c5a80"/><stop offset="0.3292" stop-color="#045a80"/><stop offset="0.3308" stop-color="#005a80"/><stop offset="0.4200" stop-color="#005a80"/><stop offset="0.4231" stop-color="#765a80"/><stop offset="0.4246" stop-color="#765a80"/><stop offset="0.4262" stop-color="#295a80"/><stop offset="0.4277" stop-color="#005a80"/><stop offset="0.6138" stop-color="#005a80"/><stop offset="0.6200" stop-color="#605a80"/><stop offset="0.6277" stop-color="#875a80"/><stop offset="0.6877" stop-color="#8a5a80"/><stop offset="0.6938" stop-color="#cd5a80"/><stop offset="0.7600" stop-color="#d45a80"/><stop offset="0.7631" stop-color="#fd5a80"/><stop offset="0.7646" stop-color="#ff5a80"/><stop offset="0.8385" stop-color="#ff5a80"/><stop offset="0.8415" stop-color="#b05a80"/><stop offset="0.8969" stop-color="#b05a80"/><stop offset="0.9000" stop-color="#4e5a80"/><stop offset="0.9138" stop-color="#4e5a80"/><stop offset="0.9169" stop-color="#9e5a80"/><stop offset="1.0000" stop-color="#9e5a80"/></linearGradient><linearGradient id="c25"><stop offset="0.0000" stop-color="#1a4680"/><stop offset="0.0138" stop-color="#1a4680"/><stop offset="0.0169" stop-color="#3c4680"/><stop offset="0.0215" stop-color="#544680"/><stop offset="0.0277" stop-color="#1a4680"/><stop offset="0.0369" stop-color="#394680"/><stop offset="0.0400" stop-color="#944680"/><stop offset="0.0415" stop-color="#a74680"/><stop offset="0.1000" stop-color="#ac4680"/><stop offset="0.1031" stop-color="#4e4680"/><stop offset="0.1046" stop-color="#4f4680"/><stop offset="0.1062" stop-color="#ff4680"/><stop offset="0.2615" stop-color="#e54680"/><stop offset="0.2923" stop-color="#d44680"/><stop offset="0.3077" stop-color="#b04680"/><stop offset="0.3185" stop-color="#874680"/><stop offset="0.3262" stop-color="#434680"/><stop offset="0.3292" stop-color="#0c4680"/><stop offset="0.3308" stop-color="#004680"/><stop offset="0.4200" stop-color="#004680"/><stop offset="0.4215" stop-color="#4a4680"/><stop offset="0.4231" stop-color="#804680"/><stop offset="0.4246" stop-color="#804680"/><stop offset="0.4262" stop-color="#314680"/><stop offset="0.4277" stop-color="#004680"/><stop offset="0.6123" stop-color="#004680"/><stop offset="0.6138" stop-color="#064680"/><stop offset="0.6200" stop-color="#664680"/><stop offset="0.6277" stop-color="#8c4680"/><stop offset="0.6877" stop-color="#8e4680"/><stop offset="0.6938" stop-color="#d04680"/><stop offset="0.7600" stop-color="#d74680"/><stop offset="0.7631" stop-color="#ff4680"/><stop offset="0.7646" stop-color="#ff4680"/><stop offset="0.8385" stop-color="#ff4680"/><stop offset="0.8415" stop-color="#b24680"/><stop offset="0.8969" stop-color="#b24680"/><stop offset="0.9000" stop-color="#524680"/><stop offset="0.9138" stop-color="#524680"/><stop offset="0.9169" stop-color="#a04680"/><stop offset="1.0000" stop-color="#a04680"/></linearGradient><linearGradient id="c26"><stop offset="0.0000" stop-color="#211580"/><stop offset="0.0138" stop-color="#211580"/><stop offset="0.0169" stop-color="#431580"/><stop offset="0.0215" stop-color="#5b1580"/><stop offset="0.0277" stop-color="#211580"/><stop offset="0.0369" stop-color="#3e1580"/><stop offset="0.0400" stop-color="#971580"/><stop offset="0.0415" stop-color="#aa1580"/><stop offset="0.1000" stop-color="#af1580"/><stop offset="0.1031" stop-color="#501580"/><stop offset="0.1046" stop-color="#511580"/><stop offset="0.1062" stop-color="#ff1580"/><stop offset="0.2615" stop-color="#e81580"/><stop offset="0.2923" stop-color="#da1580"/><stop offset="0.3077" stop-color="#b71580"/><stop offset="0.3185" stop-color="#8e1580"/><stop offset="0.3262" stop-color="#4b1580"/><stop offset="0.3308" stop-color="#001580"/><stop offset="0.4200" stop-color="#001580"/><stop offset="0.4215" stop-color="#541580"/><stop offset="0.4231" stop-color="#8b1580"/><stop offset="0.4246" stop-color="#8b1580"/><stop offset="0.4262" stop-color="#391580"/><stop offset="0.4277" stop-color="#001580"/><stop offset="0.6123" stop-color="#001580"/><stop offset="0.6138" stop-color="#0d1580"/><stop offset="0.6200" stop-color="#6c1580"/><stop offset="0.6277" stop-color="#901580"/><stop offset="0.6877" stop-color="#931580"/><stop offset="0.6938" stop-color="#d31580"/><stop offset="0.7600" stop-color="#da1580"/><stop offset="0.7631" stop-color="#ff1580"/><stop offset="0.8385" stop-color="#ff1580"/><stop offset="0.8415" stop-color="#b41580"/><stop offset="0.8969" stop-color="#b41580"/><stop offset="0.9000" stop-color="#571580"/><stop offset="0.9138" stop-color="#571580"/><stop offset="0.9169" stop-color="#a21580"/><stop offset="1.0000" stop-color="#a21580"/></linearGradient><linearGradient id="c27"><stop offset="0.0000" stop-color="#292280"/><stop offset="0.0138" stop-color="#292280"/><stop offset="0.0169" stop-color="#4b2280"/><stop offset="0.0215" stop-color="#632280"/><stop offset="0.0277" stop-color="#292280"/><stop offset="0.0369" stop-color="#422280"/><stop offset="0.0400" stop-color="#9b2280"/><stop offset="0.0415" stop-color="#ad2280"/><stop offset="0.1000" stop-color="#b22280"/><stop offset="0.1031" stop-color="#522280"/><stop offset="0.1046" stop-color="#522280"/><stop offset="0.1062" stop-color="#ff2280"/><stop offset="0.2923" stop-color="#df2280"/><stop offset="0.3077" stop-color="#be2280"/><stop offset="0.3185" stop-color="#942280"/><stop offset="0.3262" stop-color="#522280"/><stop offset="0.3308" stop-color="#002280"/><stop offset="0.4200" stop-color="#002280"/><stop offset="0.4215" stop-color="#5f2280"/><stop offset="0.4231" stop-color="#952280"/><stop offset="0.4246" stop-color="#952280"/><stop offset="0.4277" stop-color="#002280"/><stop offset="0.6123" stop-color="#002280"/><stop offset="0.6200" stop-color="#722280"/><stop offset="0.6277" stop-color="#952280"/><stop offset="0.6877" stop-color="#982280"/><stop offset="0.6938" stop-color="#d62280"/><stop offset="0.7600" stop-color="#dd2280"/><stop offset="0.7631" stop-color="#ff2280"/><stop offset="0.8385" stop-color="#ff2280"/><stop offset="0.8400" stop-color="#e22280"/><stop offset="0.8415" stop-color="#b52280"/><stop offset="0.8969" stop-color="#b52280"/><stop offset="0.9000" stop-color="#5c2280"/><stop offset="0.9138" stop-color="#5c2280"/><stop offset="0.9169" stop-color="#a32280"/><stop offset="1.0000" stop-color="#a32280"/></linearGradient><linearGradient id="c28"><stop offset="0.0000" stop-color="#2dcb80"/><stop offset="0.0138" stop-color="#2dcb80"/><stop offset="0.0169" stop-color="#52cb80"/><stop offset="0.0215" stop-color="#6acb80"/><stop offset="0.0277" stop-color="#30cb80"/><stop offset="0.0369" stop-color="#47cb80"/><stop offset="0.0400" stop-color="#9ecb80"/><stop offset="0.0415" stop-color="#b1cb80"/><stop offset="0.1000" stop-color="#b6cb80"/><stop offset="0.1031" stop-color="#53cb80"/><stop offset="0.1046" stop-color="#54cb80"/><stop offset="0.1062" stop-color="#ffcb80"/><stop offset="0.2923" stop-color="#e4cb80"/><stop offset="0.3077" stop-color="#c4cb80"/><stop offset="0.3185" stop-color="#9bcb80"/><stop offset="0.3262" stop-color="#5acb80"/><stop offset="0.3308" stop-color="#02cb80"/><stop offset="0.4200" stop-color="#02cb80"/><stop offset="0.4215" stop-color="#69cb80"/><stop offset="0.4231" stop-color="#a0cb80"/><stop offset="0.4246" stop-color="#a0cb80"/><stop offset="0.4277" stop-color="#02cb80"/><stop offset="0.6123" stop-color="#02cb80"/><stop offset="0.6200" stop-color="#77cb80"/><stop offset="0.6277" stop-color="#99cb80"/><stop offset="0.6877" stop-color="#9dcb80"/><stop offset="0.6938" stop-color="#d8cb80"/><stop offset="0.7600" stop-color="#e1cb80"/><stop offset="0.7631" stop-color="#ffcb80"/><stop offset="0.8385" stop-color="#ffcb80"/><stop offset="0.8400" stop-color="#e3cb80"/><stop offset="0.8415" stop-color="#b7cb80"/><stop offset="0.8969" stop-color="#b7cb80"/><stop offset="0.9000" stop-color="#60cb80"/><stop offset="0.9138" stop-color="#60cb80"/><stop offset="0.9169" stop-color="#a5cb80"/><stop offset="1.0000" stop-color="#a5cb80"/></linearGradient><linearGradient id="c29"><stop offset="0.0000" stop-color="#323b80"/><stop offset="0.0138" stop-color="#323b80"/><stop offset="0.0169" stop-color="#5a3b80"/><stop offset="0.0215" stop-color="#713b80"/><stop offset="0.0277" stop-color="#373b80"/><stop offset="0.0369" stop-color="#4c3b80"/><stop offset="0.0400" stop-color="#a13b80"/><stop offset="0.0415" stop-color="#b43b80"/><stop offset="0.1000" stop-color="#b93b80"/><stop offset="0.1031" stop-color="#553b80"/><stop offset="0.1046" stop-color="#563b80"/><stop offset="0.1062" stop-color="#ff3b80"/><stop offset="0.2923" stop-color="#e93b80"/><stop offset="0.3077" stop-color="#ca3b80"/><stop offset="0.3185" stop-color="#a13b80"/><stop offset="0.3262" stop-color="#613b80"/><stop offset="0.3308" stop-color="#0a3b80"/><stop offset="0.4200" stop-color="#0a3b80"/><stop offset="0.4215" stop-color="#733b80"/><stop offset="0.4231" stop-color="#aa3b80"/><stop offset="0.4246" stop-color="#aa3b80"/><stop offset="0.4277" stop-color="#0a3b80"/><stop offset="0.6123" stop-color="#0a3b80"/><stop offset="0.6200" stop-color="#7d3b80"/><stop offset="0.6277" stop-color="#9e3b80"/><stop offset="0.6877" stop-color="#a23b80"/><stop offset="0.6938" stop-color="#db3b80"/><stop offset="0.7585" stop-color="#e43b80"/><stop offset="0.7600" stop-color="#e53b80"/><stop offset="0.7631" stop-color="#ff3b80"/><stop offset="0.8385" stop-color="#ff3b80"/><stop offset="0.8400" stop-color="#e43b80"/><stop offset="0.8415" stop-color="#b83b80"/><stop offset="0.8969" stop-color="#b83b80"/><stop offset="0.9000" stop-color="#653b80"/><stop offset="0.9138" stop-color="#653b80"/><stop offset="0.9169" stop-color="#a73b80"/><stop offset="1.0000" stop-color="#a73b80"/></linearGradient><linearGradient id="c30"><stop offset="0.0000" stop-color="#37ce80"/><stop offset="0.0138" stop-color="#37ce80"/><stop offset="0.0169" stop-color="#62ce80"/><stop offset="0.0215" stop-color="#78ce80"/><stop offset="0.0277" stop-color="#3ece80"/><stop offset="0.0369" stop-color="#50ce80"/><stop offset="0.0400" stop-color="#a5ce80"/><stop offset="0.0415" stop-color="#b8ce80"/><stop offset="0.1000" stop-color="#bdce80"/><stop offset="0.1031" stop-color="#57ce80"/><stop offset="0.1046" stop-color="#57ce80"/><stop offset="0.1062" stop-color="#ffce80"/><stop offset="0.2923" stop-color="#edce80"/><stop offset="0.3077" stop-color="#d0ce80"/><stop offset="0.3185" stop-color="#a8ce80"/><stop offset="0.3262" stop-color="#69ce80"/><stop offset="0.3308" stop-color="#12ce80"/><stop offset="0.4200" stop-color="#12ce80"/><stop offset="0.4215" stop-color="#7ece80"/><stop offset="0.4231" stop-color="#b4ce80"/><stop offset="0.4246" stop-color="#b4ce80"/><stop offset="0.4277" stop-color="#12ce80"/><stop offset="0.6123" stop-color="#12ce80"/><stop offset="0.6200" stop-color="#83ce80"/><stop offset="0.6277" stop-color="#a2ce80"/><stop offset="0.6877" stop-color="#a6ce80"/><stop offset="0.6938" stop-color="#ddce80"/><stop offset="0.7554" stop-color="#e5ce80"/><stop offset="0.7600" stop-color="#e9ce80"/><stop offset="0.7631" stop-color="#ffce80"/><stop offset="0.8385" stop-color="#ffce80"/><stop offset="0.8400" stop-color="#e5ce80"/><stop offset="0.8415" stop-color="#bace80"/><stop offset="0.8969" stop-color="#bace80"/><stop offset="0.9000" stop-color="#6ace80"/><stop offset="0.9138" stop-color="#6ace80"/><stop offset="0.9169" stop-color="#a9ce80"/><stop offset="1.0000" stop-color="#a9ce80"/></linearGradient><linearGradient id="c31"><stop offset="0.0000" stop-color="#3b5480"/><stop offset="0.0138" stop-color="#3b5480"/><stop offset="0.0169" stop-color="#6a5480"/><stop offset="0.0215" stop-color="#7f5480"/><stop offset="0.0277" stop-color="#455480"/><stop offset="0.0369" stop-color="#555480"/><stop offset="0.0400" stop-color="#a95480"/><stop offset="0.0415" stop-color="#bd5480"/><stop offset="0.1000" stop-color="#c25480"/><stop offset="0.1031" stop-color="#595480"/><stop offset="0.1046" stop-color="#595480"/><stop offset="0.1062" stop-color="#ff5480"/><stop offset="0.2923" stop-color="#f15480"/><stop offset="0.3077" stop-color="#d55480"/><stop offset="0.3185" stop-color="#ae5480"/><stop offset="0.3262" stop-color="#705480"/><stop offset="0.3308" stop-color="#1b5480"/><stop offset="0.4200" stop-color="#1b5480"/><stop offset="0.4215" stop-color="#885480"/><stop offset="0.4231" stop-color="#bf5480"/><stop offset="0.4246" stop-color="#bf5480"/><stop offset="0.4277" stop-color="#1b5480"/><stop offset="0.6123" stop-color="#1b5480"/><stop offset="0.6200" stop-color="#895480"/><stop offset="0.6277" stop-color="#a75480"/><stop offset="0.6877" stop-color="#ab5480"/><stop offset="0.6938" stop-color="#df5480"/><stop offset="0.7554" stop-color="#e75480"/><stop offset="0.7600" stop-color="#eb5480"/><stop offset="0.7631" stop-color="#ff5480"/><stop offset="0.8385" stop-color="#ff5480"/><stop offset="0.8400" stop-color="#e55480"/><stop offset="0.8415" stop-color="#bb5480"/><stop offset="0.8969" stop-color="#bb5480"/><stop offset="0.9000" stop-color="#6e5480"/><stop offset="0.9138" stop-color="#6e5480"/><stop offset="0.9169" stop-color="#ab5480"/><stop offset="1.0000" stop-color="#ab5480"/></linearGradient><linearGradient id="c32"><stop offset="0.0000" stop-color="#404780"/><stop offset="0.0138" stop-color="#404780"/><stop offset="0.0169" stop-color="#714780"/><stop offset="0.0215" stop-color="#864780"/><stop offset="0.0277" stop-color="#4c4780"/><stop offset="0.0369" stop-color="#594780"/><stop offset="0.0400" stop-color="#ae4780"/><stop offset="0.0415" stop-color="#c24780"/><stop offset="0.1000" stop-color="#c74780"/><stop offset="0.1031" stop-color="#5b4780"/><stop offset="0.1046" stop-color="#5b4780"/><stop offset="0.1062" stop-color="#ff4780"/><stop offset="0.2923" stop-color="#f44780"/><stop offset="0.3077" stop-color="#da4780"/><stop offset="0.3185" stop-color="#b44780"/><stop offset="0.3262" stop-color="#784780"/><stop offset="0.3308" stop-color="#244780"/><stop offset="0.4200" stop-color="#244780"/><stop offset="0.4215" stop-color="#924780"/><stop offset="0.4231" stop-color="#c94780"/><stop offset="0.4246" stop-color="#c94780"/><stop offset="0.4277" stop-color="#244780"/><stop offset="0.6123" stop-color="#244780"/><stop offset="0.6200" stop-color="#8f4780"/><stop offset="0.6277" stop-color="#ab4780"/><stop offset="0.6877" stop-color="#b04780"/><stop offset="0.6938" stop-color="#e04780"/><stop offset="0.7554" stop-color="#e84780"/><stop offset="0.7600" stop-color="#eb4780"/><stop offset="0.7631" stop-color="#ff4780"/><stop offset="0.8385" stop-color="#ff4780"/><stop offset="0.8400" stop-color="#e54780"/><stop offset="0.8415" stop-color="#bc4780"/><stop offset="0.8969" stop-color="#bc4780"/><stop offset="0.9000" stop-color="#734780"/><stop offset="0.9138" stop-color="#734780"/><stop offset="0.9169" stop-color="#ac4780"/><stop offset="1.0000" stop-color="#ac4780"/></linearGradient><clipPath id="kd"><rect x="130" y="1494.8" width="1300" height="413"/></clipPath><filter id="fd" filterUnits="userSpaceOnUse" x="-40" y="1494.8" width="1640" height="413" color-interpolation-filters="sRGB"><feTurbulence type="fractalNoise" baseFrequency="0.38 0" numOctaves="2" seed="9" result="t1"/><feDisplacementMap in="t1" in2="SourceGraphic" scale="300" xChannelSelector="G" yChannelSelector="B" result="d1"/><feTurbulence type="fractalNoise" baseFrequency="0.38 0.02" numOctaves="2" seed="59" result="t2"/><feComposite in="d1" in2="t2" operator="arithmetic" k1="0" k2="0.55" k3="0.45" k4="0"/><feColorMatrix type="matrix" values="3.20 0 0 0 -1.100 3.20 0 0 0 -1.100 3.20 0 0 0 -1.100 0 0 0 0 1" result="n"/><feComposite in="SourceGraphic" in2="n" operator="arithmetic" k1="0" k2="1" k3="0.400" k4="-0.560"/><feColorMatrix type="matrix" values="1 0 0 0 0 1 0 0 0 0 1 0 0 0 0 0 0 0 0 1"/><feComponentTransfer><feFuncR type="table" tableValues="0.067 0.193 0.300 0.399 0.495 0.584 0.665 0.736 0.798 0.853 0.902 0.943 0.973 0.991 0.993 0.974 0.940"/><feFuncG type="table" tableValues="0.024 0.018 0.010 0.001 0.012 0.069 0.139 0.209 0.280 0.352 0.425 0.503 0.586 0.675 0.772 0.875 0.975"/><feFuncB type="table" tableValues="0.541 0.590 0.632 0.656 0.658 0.633 0.586 0.528 0.470 0.414 0.360 0.306 0.252 0.198 0.155 0.144 0.131"/><feFuncA type="linear" slope="0" intercept="1"/></feComponentTransfer></filter><linearGradient id="d0"><stop offset="0.0000" stop-color="#008d80"/><stop offset="0.1046" stop-color="#008d80"/><stop offset="0.1062" stop-color="#308d80"/><stop offset="0.1123" stop-color="#008d80"/><stop offset="0.7615" stop-color="#008d80"/><stop offset="0.7646" stop-color="#328d80"/><stop offset="0.8385" stop-color="#328d80"/><stop offset="0.8415" stop-color="#008d80"/><stop offset="1.0000" stop-color="#018d80"/></linearGradient><linearGradient id="d1"><stop offset="0.0000" stop-color="#006b80"/><stop offset="0.1046" stop-color="#006b80"/><stop offset="0.1062" stop-color="#3f6b80"/><stop offset="0.1138" stop-color="#016b80"/><stop offset="0.1154" stop-color="#006b80"/><stop offset="0.7615" stop-color="#006b80"/><stop offset="0.7631" stop-color="#2a6b80"/><stop offset="0.7646" stop-color="#426b80"/><stop offset="0.8385" stop-color="#426b80"/><stop offset="0.8415" stop-color="#0e6b80"/><stop offset="0.8969" stop-color="#0e6b80"/><stop offset="0.8985" stop-color="#006b80"/><stop offset="0.9154" stop-color="#006b80"/><stop offset="0.9169" stop-color="#106b80"/><stop offset="1.0000" stop-color="#106b80"/></linearGradient><linearGradient id="d2"><stop offset="0.0000" stop-color="#008d80"/><stop offset="0.1046" stop-color="#008d80"/><stop offset="0.1062" stop-color="#4e8d80"/><stop offset="0.1154" stop-color="#048d80"/><stop offset="0.1231" stop-color="#008d80"/><stop offset="0.7600" stop-color="#008d80"/><stop offset="0.7615" stop-color="#0a8d80"/><stop offset="0.7631" stop-color="#398d80"/><stop offset="0.7646" stop-color="#518d80"/><stop offset="0.8385" stop-color="#518d80"/><stop offset="0.8415" stop-color="#1d8d80"/><stop offset="0.8969" stop-color="#1d8d80"/><stop offset="0.8985" stop-color="#008d80"/><stop offset="0.9154" stop-color="#008d80"/><stop offset="0.9169" stop-color="#1f8d80"/><stop offset="1.0000" stop-color="#1f8d80"/></linearGradient><linearGradient id="d3"><stop offset="0.0000" stop-color="#00c580"/><stop offset="0.1046" stop-color="#00c580"/><stop offset="0.1062" stop-color="#5dc580"/><stop offset="0.1154" stop-color="#13c580"/><stop offset="0.1508" stop-color="#00c580"/><stop offset="0.7600" stop-color="#00c580"/><stop offset="0.7615" stop-color="#1ac580"/><stop offset="0.7631" stop-color="#49c580"/><stop offset="0.7646" stop-color="#60c580"/><stop offset="0.8385" stop-color="#60c580"/><stop offset="0.8415" stop-color="#2cc580"/><stop offset="0.8969" stop-color="#2cc580"/><stop offset="0.8985" stop-color="#00c580"/><stop offset="0.9154" stop-color="#00c580"/><stop offset="0.9169" stop-color="#2fc580"/><stop offset="1.0000" stop-color="#2fc580"/></linearGradient><linearGradient id="d4"><stop offset="0.0000" stop-color="#004780"/><stop offset="0.1046" stop-color="#004780"/><stop offset="0.1062" stop-color="#6d4780"/><stop offset="0.1154" stop-color="#224780"/><stop offset="0.1538" stop-color="#0d4780"/><stop offset="0.2877" stop-color="#004780"/><stop offset="0.7600" stop-color="#004780"/><stop offset="0.7631" stop-color="#584780"/><stop offset="0.7646" stop-color="#704780"/><stop offset="0.8385" stop-color="#714780"/><stop offset="0.8415" stop-color="#3b4780"/><stop offset="0.8969" stop-color="#3b4780"/><stop offset="0.8985" stop-color="#004780"/><stop offset="0.9154" stop-color="#004780"/><stop offset="0.9169" stop-color="#3e4780"/><stop offset="1.0000" stop-color="#3e4780"/></linearGradient><linearGradient id="d5"><stop offset="0.0000" stop-color="#00a580"/><stop offset="0.1046" stop-color="#00a580"/><stop offset="0.1062" stop-color="#7ca580"/><stop offset="0.1154" stop-color="#31a580"/><stop offset="0.1538" stop-color="#1ca580"/><stop offset="0.2846" stop-color="#14a580"/><stop offset="0.2938" stop-color="#00a580"/><stop offset="0.7600" stop-color="#09a580"/><stop offset="0.7631" stop-color="#67a580"/><stop offset="0.7646" stop-color="#7fa580"/><stop offset="0.8385" stop-color="#80a580"/><stop offset="0.8415" stop-color="#4aa580"/><stop offset="0.8969" stop-color="#4aa580"/><stop offset="0.8985" stop-color="#00a580"/><stop offset="0.9154" stop-color="#00a580"/><stop offset="0.9169" stop-color="#4da580"/><stop offset="1.0000" stop-color="#4da580"/></linearGradient><linearGradient id="d6"><stop offset="0.0000" stop-color="#008c80"/><stop offset="0.0385" stop-color="#008c80"/><stop offset="0.0400" stop-color="#0e8c80"/><stop offset="0.1000" stop-color="#168c80"/><stop offset="0.1015" stop-color="#008c80"/><stop offset="0.1046" stop-color="#008c80"/><stop offset="0.1062" stop-color="#8f8c80"/><stop offset="0.1154" stop-color="#418c80"/><stop offset="0.1538" stop-color="#2b8c80"/><stop offset="0.2846" stop-color="#238c80"/><stop offset="0.3000" stop-color="#008c80"/><stop offset="0.6738" stop-color="#008c80"/><stop offset="0.6754" stop-color="#108c80"/><stop offset="0.7600" stop-color="#188c80"/><stop offset="0.7631" stop-color="#778c80"/><stop offset="0.7646" stop-color="#8e8c80"/><stop offset="0.8385" stop-color="#8f8c80"/><stop offset="0.8415" stop-color="#5a8c80"/><stop offset="0.8969" stop-color="#5a8c80"/><stop offset="0.8985" stop-color="#008c80"/><stop offset="0.9154" stop-color="#008c80"/><stop offset="0.9169" stop-color="#5c8c80"/><stop offset="1.0000" stop-color="#5c8c80"/></linearGradient><linearGradient id="d7"><stop offset="0.0000" stop-color="#005080"/><stop offset="0.0369" stop-color="#005080"/><stop offset="0.0400" stop-color="#1d5080"/><stop offset="0.1000" stop-color="#255080"/><stop offset="0.1015" stop-color="#005080"/><stop offset="0.1046" stop-color="#005080"/><stop offset="0.1062" stop-color="#a35080"/><stop offset="0.1154" stop-color="#505080"/><stop offset="0.1538" stop-color="#3a5080"/><stop offset="0.2846" stop-color="#325080"/><stop offset="0.3046" stop-color="#005080"/><stop offset="0.6723" stop-color="#005080"/><stop offset="0.6738" stop-color="#035080"/><stop offset="0.6754" stop-color="#1f5080"/><stop offset="0.7600" stop-color="#275080"/><stop offset="0.7631" stop-color="#865080"/><stop offset="0.7646" stop-color="#9c5080"/><stop offset="0.8385" stop-color="#9e5080"/><stop offset="0.8415" stop-color="#695080"/><stop offset="0.8969" stop-color="#695080"/><stop offset="0.8985" stop-color="#005080"/><stop offset="0.9154" stop-color="#005080"/><stop offset="0.9169" stop-color="#6b5080"/><stop offset="1.0000" stop-color="#6b5080"/></linearGradient><linearGradient id="d8"><stop offset="0.0000" stop-color="#002580"/><stop offset="0.0354" stop-color="#002580"/><stop offset="0.0400" stop-color="#2c2580"/><stop offset="0.1000" stop-color="#342580"/><stop offset="0.1015" stop-color="#002580"/><stop offset="0.1046" stop-color="#002580"/><stop offset="0.1062" stop-color="#b62580"/><stop offset="0.1154" stop-color="#5f2580"/><stop offset="0.1538" stop-color="#492580"/><stop offset="0.2846" stop-color="#412580"/><stop offset="0.3031" stop-color="#152580"/><stop offset="0.3062" stop-color="#002580"/><stop offset="0.6723" stop-color="#002580"/><stop offset="0.6754" stop-color="#2e2580"/><stop offset="0.7600" stop-color="#372580"/><stop offset="0.7631" stop-color="#942580"/><stop offset="0.7646" stop-color="#aa2580"/><stop offset="0.8385" stop-color="#ab2580"/><stop offset="0.8415" stop-color="#772580"/><stop offset="0.8969" stop-color="#772580"/><stop offset="0.8985" stop-color="#052580"/><stop offset="0.9138" stop-color="#002580"/><stop offset="0.9154" stop-color="#062580"/><stop offset="0.9169" stop-color="#792580"/><stop offset="1.0000" stop-color="#792580"/></linearGradient><linearGradient id="d9"><stop offset="0.0000" stop-color="#00c380"/><stop offset="0.0338" stop-color="#00c380"/><stop offset="0.0400" stop-color="#3bc380"/><stop offset="0.1000" stop-color="#43c380"/><stop offset="0.1015" stop-color="#00c380"/><stop offset="0.1046" stop-color="#00c380"/><stop offset="0.1062" stop-color="#c8c380"/><stop offset="0.1154" stop-color="#70c380"/><stop offset="0.1538" stop-color="#59c380"/><stop offset="0.2846" stop-color="#51c380"/><stop offset="0.3031" stop-color="#24c380"/><stop offset="0.3077" stop-color="#00c380"/><stop offset="0.6708" stop-color="#00c380"/><stop offset="0.6723" stop-color="#06c380"/><stop offset="0.6754" stop-color="#3ec380"/><stop offset="0.7600" stop-color="#46c380"/><stop offset="0.7631" stop-color="#a2c380"/><stop offset="0.7646" stop-color="#b6c380"/><stop offset="0.8385" stop-color="#b9c380"/><stop offset="0.8415" stop-color="#85c380"/><stop offset="0.8969" stop-color="#85c380"/><stop offset="0.8985" stop-color="#14c380"/><stop offset="0.9000" stop-color="#00c380"/><stop offset="0.9138" stop-color="#00c380"/><stop offset="0.9154" stop-color="#15c380"/><stop offset="0.9169" stop-color="#86c380"/><stop offset="1.0000" stop-color="#86c380"/></linearGradient><linearGradient id="d10"><stop offset="0.0000" stop-color="#004a80"/><stop offset="0.0246" stop-color="#004a80"/><stop offset="0.0338" stop-color="#0d4a80"/><stop offset="0.0400" stop-color="#4a4a80"/><stop offset="0.1000" stop-color="#524a80"/><stop offset="0.1015" stop-color="#004a80"/><stop offset="0.1046" stop-color="#004a80"/><stop offset="0.1062" stop-color="#d84a80"/><stop offset="0.1154" stop-color="#854a80"/><stop offset="0.1538" stop-color="#6a4a80"/><stop offset="0.2846" stop-color="#604a80"/><stop offset="0.3031" stop-color="#344a80"/><stop offset="0.3092" stop-color="#004a80"/><stop offset="0.6708" stop-color="#004a80"/><stop offset="0.6754" stop-color="#4d4a80"/><stop offset="0.7600" stop-color="#554a80"/><stop offset="0.7631" stop-color="#af4a80"/><stop offset="0.7646" stop-color="#c24a80"/><stop offset="0.8385" stop-color="#c54a80"/><stop offset="0.8415" stop-color="#924a80"/><stop offset="0.8969" stop-color="#924a80"/><stop offset="0.8985" stop-color="#234a80"/><stop offset="0.9000" stop-color="#004a80"/><stop offset="0.9138" stop-color="#004a80"/><stop offset="0.9154" stop-color="#244a80"/><stop offset="0.9169" stop-color="#924a80"/><stop offset="1.0000" stop-color="#924a80"/></linearGradient><linearGradient id="d11"><stop offset="0.0000" stop-color="#003780"/><stop offset="0.0154" stop-color="#013780"/><stop offset="0.0338" stop-color="#1d3780"/><stop offset="0.0400" stop-color="#593780"/><stop offset="0.1000" stop-color="#633780"/><stop offset="0.1015" stop-color="#003780"/><stop offset="0.1046" stop-color="#003780"/><stop offset="0.1062" stop-color="#e63780"/><stop offset="0.1154" stop-color="#983780"/><stop offset="0.1538" stop-color="#803780"/><stop offset="0.2846" stop-color="#753780"/><stop offset="0.3031" stop-color="#433780"/><stop offset="0.3108" stop-color="#003780"/><stop offset="0.6692" stop-color="#003780"/><stop offset="0.6708" stop-color="#093780"/><stop offset="0.6754" stop-color="#5c3780"/><stop offset="0.7600" stop-color="#643780"/><stop offset="0.7631" stop-color="#bb3780"/><stop offset="0.7646" stop-color="#ce3780"/><stop offset="0.8385" stop-color="#d13780"/><stop offset="0.8415" stop-color="#9e3780"/><stop offset="0.8969" stop-color="#9e3780"/><stop offset="0.8985" stop-color="#323780"/><stop offset="0.9000" stop-color="#003780"/><stop offset="0.9138" stop-color="#003780"/><stop offset="0.9154" stop-color="#333780"/><stop offset="0.9169" stop-color="#9e3780"/><stop offset="1.0000" stop-color="#9e3780"/></linearGradient><linearGradient id="d12"><stop offset="0.0000" stop-color="#008480"/><stop offset="0.0338" stop-color="#2c8480"/><stop offset="0.0400" stop-color="#6d8480"/><stop offset="0.1000" stop-color="#788480"/><stop offset="0.1015" stop-color="#088480"/><stop offset="0.1046" stop-color="#008480"/><stop offset="0.1062" stop-color="#f48480"/><stop offset="0.1154" stop-color="#aa8480"/><stop offset="0.1538" stop-color="#948480"/><stop offset="0.2846" stop-color="#8a8480"/><stop offset="0.3031" stop-color="#528480"/><stop offset="0.3123" stop-color="#008480"/><stop offset="0.6692" stop-color="#008480"/><stop offset="0.6754" stop-color="#6b8480"/><stop offset="0.7600" stop-color="#748480"/><stop offset="0.7631" stop-color="#c78480"/><stop offset="0.7646" stop-color="#d98480"/><stop offset="0.8385" stop-color="#dc8480"/><stop offset="0.8415" stop-color="#aa8480"/><stop offset="0.8969" stop-color="#aa8480"/><stop offset="0.8985" stop-color="#418480"/><stop offset="0.9000" stop-color="#008480"/><stop offset="0.9138" stop-color="#008480"/><stop offset="0.9154" stop-color="#438480"/><stop offset="0.9169" stop-color="#a98480"/><stop offset="1.0000" stop-color="#a98480"/></linearGradient><linearGradient id="d13"><stop offset="0.0000" stop-color="#0b6a80"/><stop offset="0.0338" stop-color="#3b6a80"/><stop offset="0.0369" stop-color="#566a80"/><stop offset="0.0400" stop-color="#816a80"/><stop offset="0.1000" stop-color="#8b6a80"/><stop offset="0.1015" stop-color="#176a80"/><stop offset="0.1031" stop-color="#006a80"/><stop offset="0.1046" stop-color="#006a80"/><stop offset="0.1062" stop-color="#ff6a80"/><stop offset="0.1154" stop-color="#ba6a80"/><stop offset="0.1538" stop-color="#a66a80"/><stop offset="0.2846" stop-color="#9d6a80"/><stop offset="0.3031" stop-color="#636a80"/><stop offset="0.3123" stop-color="#0c6a80"/><stop offset="0.3154" stop-color="#006a80"/><stop offset="0.4738" stop-color="#006a80"/><stop offset="0.4754" stop-color="#0b6a80"/><stop offset="0.4769" stop-color="#006a80"/><stop offset="0.6508" stop-color="#016a80"/><stop offset="0.6692" stop-color="#0b6a80"/><stop offset="0.6754" stop-color="#7a6a80"/><stop offset="0.7600" stop-color="#836a80"/><stop offset="0.7631" stop-color="#d26a80"/><stop offset="0.7646" stop-color="#e36a80"/><stop offset="0.8385" stop-color="#e66a80"/><stop offset="0.8415" stop-color="#b56a80"/><stop offset="0.8969" stop-color="#b56a80"/><stop offset="0.8985" stop-color="#516a80"/><stop offset="0.9000" stop-color="#006a80"/><stop offset="0.9138" stop-color="#006a80"/><stop offset="0.9154" stop-color="#526a80"/><stop offset="0.9169" stop-color="#b36a80"/><stop offset="1.0000" stop-color="#b36a80"/></linearGradient><linearGradient id="d14"><stop offset="0.0000" stop-color="#1ab080"/><stop offset="0.0338" stop-color="#4ab080"/><stop offset="0.0354" stop-color="#54b080"/><stop offset="0.0400" stop-color="#93b080"/><stop offset="0.1000" stop-color="#9db080"/><stop offset="0.1015" stop-color="#27b080"/><stop offset="0.1031" stop-color="#00b080"/><stop offset="0.1046" stop-color="#00b080"/><stop offset="0.1062" stop-color="#ffb080"/><stop offset="0.1077" stop-color="#ffb080"/><stop offset="0.1154" stop-color="#c9b080"/><stop offset="0.1538" stop-color="#b7b080"/><stop offset="0.2846" stop-color="#afb080"/><stop offset="0.3031" stop-color="#7bb080"/><stop offset="0.3108" stop-color="#28b080"/><stop offset="0.3169" stop-color="#00b080"/><stop offset="0.4738" stop-color="#00b080"/><stop offset="0.4754" stop-color="#1ab080"/><stop offset="0.4769" stop-color="#05b080"/><stop offset="0.4785" stop-color="#00b080"/><stop offset="0.6262" stop-color="#00b080"/><stop offset="0.6692" stop-color="#1ab080"/><stop offset="0.6754" stop-color="#89b080"/><stop offset="0.7600" stop-color="#91b080"/><stop offset="0.7631" stop-color="#dcb080"/><stop offset="0.7646" stop-color="#edb080"/><stop offset="0.7754" stop-color="#f0b080"/><stop offset="0.8385" stop-color="#f0b080"/><stop offset="0.8415" stop-color="#bfb080"/><stop offset="0.8969" stop-color="#bfb080"/><stop offset="0.9000" stop-color="#00b080"/><stop offset="0.9138" stop-color="#00b080"/><stop offset="0.9169" stop-color="#bdb080"/><stop offset="1.0000" stop-color="#bdb080"/></linearGradient><linearGradient id="d15"><stop offset="0.0000" stop-color="#2aec80"/><stop offset="0.0338" stop-color="#59ec80"/><stop offset="0.0354" stop-color="#64ec80"/><stop offset="0.0400" stop-color="#a4ec80"/><stop offset="0.1000" stop-color="#adec80"/><stop offset="0.1015" stop-color="#36ec80"/><stop offset="0.1031" stop-color="#00ec80"/><stop offset="0.1046" stop-color="#00ec80"/><stop offset="0.1062" stop-color="#ffec80"/><stop offset="0.1092" stop-color="#ffec80"/><stop offset="0.1154" stop-color="#d6ec80"/><stop offset="0.1538" stop-color="#c6ec80"/><stop offset="0.2846" stop-color="#bfec80"/><stop offset="0.3031" stop-color="#91ec80"/><stop offset="0.3108" stop-color="#37ec80"/><stop offset="0.3185" stop-color="#01ec80"/><stop offset="0.3200" stop-color="#00ec80"/><stop offset="0.4200" stop-color="#00ec80"/><stop offset="0.4231" stop-color="#12ec80"/><stop offset="0.4246" stop-color="#00ec80"/><stop offset="0.4662" stop-color="#00ec80"/><stop offset="0.4692" stop-color="#12ec80"/><stop offset="0.4708" stop-color="#00ec80"/><stop offset="0.4738" stop-color="#00ec80"/><stop offset="0.4754" stop-color="#2aec80"/><stop offset="0.4785" stop-color="#00ec80"/><stop offset="0.6231" stop-color="#00ec80"/><stop offset="0.6277" stop-color="#12ec80"/><stop offset="0.6692" stop-color="#2aec80"/><stop offset="0.6754" stop-color="#96ec80"/><stop offset="0.7600" stop-color="#9fec80"/><stop offset="0.7631" stop-color="#e6ec80"/><stop offset="0.7646" stop-color="#f6ec80"/><stop offset="0.7754" stop-color="#fdec80"/><stop offset="0.8385" stop-color="#f9ec80"/><stop offset="0.8415" stop-color="#c8ec80"/><stop offset="0.8969" stop-color="#c8ec80"/><stop offset="0.9000" stop-color="#00ec80"/><stop offset="0.9138" stop-color="#00ec80"/><stop offset="0.9169" stop-color="#c5ec80"/><stop offset="1.0000" stop-color="#c5ec80"/></linearGradient><linearGradient id="d16"><stop offset="0.0000" stop-color="#39eb80"/><stop offset="0.0338" stop-color="#6aeb80"/><stop offset="0.0400" stop-color="#b4eb80"/><stop offset="0.1000" stop-color="#bceb80"/><stop offset="0.1015" stop-color="#45eb80"/><stop offset="0.1031" stop-color="#00eb80"/><stop offset="0.1046" stop-color="#00eb80"/><stop offset="0.1062" stop-color="#ffeb80"/><stop offset="0.1108" stop-color="#ffeb80"/><stop offset="0.1154" stop-color="#e2eb80"/><stop offset="0.1538" stop-color="#d4eb80"/><stop offset="0.2846" stop-color="#ceeb80"/><stop offset="0.3031" stop-color="#a5eb80"/><stop offset="0.3108" stop-color="#46eb80"/><stop offset="0.3215" stop-color="#00eb80"/><stop offset="0.4200" stop-color="#00eb80"/><stop offset="0.4215" stop-color="#1beb80"/><stop offset="0.4231" stop-color="#21eb80"/><stop offset="0.4246" stop-color="#05eb80"/><stop offset="0.4262" stop-color="#00eb80"/><stop offset="0.4662" stop-color="#00eb80"/><stop offset="0.4677" stop-color="#1beb80"/><stop offset="0.4692" stop-color="#21eb80"/><stop offset="0.4708" stop-color="#07eb80"/><stop offset="0.4723" stop-color="#00eb80"/><stop offset="0.4738" stop-color="#03eb80"/><stop offset="0.4754" stop-color="#39eb80"/><stop offset="0.4785" stop-color="#00eb80"/><stop offset="0.5092" stop-color="#00eb80"/><stop offset="0.5108" stop-color="#10eb80"/><stop offset="0.5123" stop-color="#10eb80"/><stop offset="0.5138" stop-color="#00eb80"/><stop offset="0.6200" stop-color="#00eb80"/><stop offset="0.6277" stop-color="#21eb80"/><stop offset="0.6692" stop-color="#39eb80"/><stop offset="0.6754" stop-color="#a3eb80"/><stop offset="0.7600" stop-color="#aceb80"/><stop offset="0.7631" stop-color="#f0eb80"/><stop offset="0.7646" stop-color="#ffeb80"/><stop offset="0.8385" stop-color="#ffeb80"/><stop offset="0.8415" stop-color="#d0eb80"/><stop offset="0.8969" stop-color="#d0eb80"/><stop offset="0.9000" stop-color="#0beb80"/><stop offset="0.9138" stop-color="#0beb80"/><stop offset="0.9169" stop-color="#cdeb80"/><stop offset="1.0000" stop-color="#cdeb80"/></linearGradient><linearGradient id="d17"><stop offset="0.0000" stop-color="#488f80"/><stop offset="0.0338" stop-color="#7b8f80"/><stop offset="0.0400" stop-color="#c28f80"/><stop offset="0.1000" stop-color="#ca8f80"/><stop offset="0.1015" stop-color="#548f80"/><stop offset="0.1031" stop-color="#068f80"/><stop offset="0.1046" stop-color="#068f80"/><stop offset="0.1062" stop-color="#ff8f80"/><stop offset="0.1123" stop-color="#ff8f80"/><stop offset="0.1154" stop-color="#ed8f80"/><stop offset="0.1538" stop-color="#e08f80"/><stop offset="0.2846" stop-color="#db8f80"/><stop offset="0.3031" stop-color="#b88f80"/><stop offset="0.3062" stop-color="#9a8f80"/><stop offset="0.3108" stop-color="#558f80"/><stop offset="0.3231" stop-color="#008f80"/><stop offset="0.4185" stop-color="#008f80"/><stop offset="0.4200" stop-color="#0a8f80"/><stop offset="0.4215" stop-color="#2a8f80"/><stop offset="0.4231" stop-color="#308f80"/><stop offset="0.4262" stop-color="#008f80"/><stop offset="0.4646" stop-color="#008f80"/><stop offset="0.4662" stop-color="#038f80"/><stop offset="0.4677" stop-color="#2a8f80"/><stop offset="0.4692" stop-color="#308f80"/><stop offset="0.4723" stop-color="#008f80"/><stop offset="0.4738" stop-color="#128f80"/><stop offset="0.4754" stop-color="#488f80"/><stop offset="0.4769" stop-color="#328f80"/><stop offset="0.4785" stop-color="#038f80"/><stop offset="0.4800" stop-color="#008f80"/><stop offset="0.5092" stop-color="#008f80"/><stop offset="0.5108" stop-color="#1f8f80"/><stop offset="0.5123" stop-color="#1f8f80"/><stop offset="0.5138" stop-color="#008f80"/><stop offset="0.6185" stop-color="#008f80"/><stop offset="0.6277" stop-color="#308f80"/><stop offset="0.6692" stop-color="#488f80"/><stop offset="0.6723" stop-color="#848f80"/><stop offset="0.6754" stop-color="#b08f80"/><stop offset="0.7600" stop-color="#b88f80"/><stop offset="0.7631" stop-color="#f98f80"/><stop offset="0.7646" stop-color="#ff8f80"/><stop offset="0.8385" stop-color="#ff8f80"/><stop offset="0.8415" stop-color="#d88f80"/><stop offset="0.8969" stop-color="#d88f80"/><stop offset="0.9000" stop-color="#1a8f80"/><stop offset="0.9138" stop-color="#1a8f80"/><stop offset="0.9169" stop-color="#d58f80"/><stop offset="1.0000" stop-color="#d58f80"/></linearGradient><linearGradient id="d18"><stop offset="0.0000" stop-color="#57cb80"/><stop offset="0.0338" stop-color="#8bcb80"/><stop offset="0.0400" stop-color="#cfcb80"/><stop offset="0.1000" stop-color="#d6cb80"/><stop offset="0.1015" stop-color="#61cb80"/><stop offset="0.1031" stop-color="#15cb80"/><stop offset="0.1046" stop-color="#15cb80"/><stop offset="0.1062" stop-color="#ffcb80"/><stop offset="0.1138" stop-color="#ffcb80"/><stop offset="0.1538" stop-color="#ebcb80"/><stop offset="0.2846" stop-color="#e6cb80"/><stop offset="0.3031" stop-color="#c8cb80"/><stop offset="0.3062" stop-color="#aecb80"/><stop offset="0.3123" stop-color="#58cb80"/><stop offset="0.3215" stop-color="#1acb80"/><stop offset="0.3231" stop-color="#00cb80"/><stop offset="0.4185" stop-color="#00cb80"/><stop offset="0.4215" stop-color="#3acb80"/><stop offset="0.4231" stop-color="#40cb80"/><stop offset="0.4262" stop-color="#00cb80"/><stop offset="0.4646" stop-color="#00cb80"/><stop offset="0.4662" stop-color="#12cb80"/><stop offset="0.4677" stop-color="#3acb80"/><stop offset="0.4692" stop-color="#40cb80"/><stop offset="0.4723" stop-color="#00cb80"/><stop offset="0.4738" stop-color="#22cb80"/><stop offset="0.4754" stop-color="#57cb80"/><stop offset="0.4769" stop-color="#41cb80"/><stop offset="0.4785" stop-color="#12cb80"/><stop offset="0.4800" stop-color="#00cb80"/><stop offset="0.5077" stop-color="#00cb80"/><stop offset="0.5092" stop-color="#0ccb80"/><stop offset="0.5108" stop-color="#2ecb80"/><stop offset="0.5123" stop-color="#2ecb80"/><stop offset="0.5138" stop-color="#0ccb80"/><stop offset="0.5154" stop-color="#00cb80"/><stop offset="0.6169" stop-color="#00cb80"/><stop offset="0.6200" stop-color="#1ecb80"/><stop offset="0.6277" stop-color="#3fcb80"/><stop offset="0.6692" stop-color="#57cb80"/><stop offset="0.6723" stop-color="#93cb80"/><stop offset="0.6754" stop-color="#bbcb80"/><stop offset="0.7600" stop-color="#c3cb80"/><stop offset="0.7631" stop-color="#ffcb80"/><stop offset="0.8385" stop-color="#ffcb80"/><stop offset="0.8400" stop-color="#f7cb80"/><stop offset="0.8415" stop-color="#dfcb80"/><stop offset="0.8969" stop-color="#dfcb80"/><stop offset="0.9000" stop-color="#29cb80"/><stop offset="0.9138" stop-color="#29cb80"/><stop offset="0.9169" stop-color="#dbcb80"/><stop offset="1.0000" stop-color="#dbcb80"/></linearGradient><linearGradient id="d19"><stop offset="0.0000" stop-color="#68ca80"/><stop offset="0.0338" stop-color="#9aca80"/><stop offset="0.0400" stop-color="#daca80"/><stop offset="0.1000" stop-color="#e1ca80"/><stop offset="0.1015" stop-color="#6dca80"/><stop offset="0.1031" stop-color="#24ca80"/><stop offset="0.1046" stop-color="#24ca80"/><stop offset="0.1062" stop-color="#ffca80"/><stop offset="0.2846" stop-color="#f0ca80"/><stop offset="0.3046" stop-color="#cfca80"/><stop offset="0.3138" stop-color="#5eca80"/><stop offset="0.3215" stop-color="#29ca80"/><stop offset="0.3231" stop-color="#0cca80"/><stop offset="0.3246" stop-color="#00ca80"/><stop offset="0.4185" stop-color="#00ca80"/><stop offset="0.4215" stop-color="#49ca80"/><stop offset="0.4231" stop-color="#4fca80"/><stop offset="0.4246" stop-color="#32ca80"/><stop offset="0.4262" stop-color="#00ca80"/><stop offset="0.4646" stop-color="#00ca80"/><stop offset="0.4677" stop-color="#49ca80"/><stop offset="0.4692" stop-color="#4fca80"/><stop offset="0.4708" stop-color="#35ca80"/><stop offset="0.4723" stop-color="#00ca80"/><stop offset="0.4754" stop-color="#69ca80"/><stop offset="0.4769" stop-color="#51ca80"/><stop offset="0.4800" stop-color="#00ca80"/><stop offset="0.5077" stop-color="#00ca80"/><stop offset="0.5108" stop-color="#3eca80"/><stop offset="0.5123" stop-color="#3eca80"/><stop offset="0.5154" stop-color="#00ca80"/><stop offset="0.6154" stop-color="#00ca80"/><stop offset="0.6169" stop-color="#06ca80"/><stop offset="0.6200" stop-color="#2dca80"/><stop offset="0.6277" stop-color="#4eca80"/><stop offset="0.6692" stop-color="#6bca80"/><stop offset="0.6723" stop-color="#a2ca80"/><stop offset="0.6754" stop-color="#c6ca80"/><stop offset="0.7600" stop-color="#ceca80"/><stop offset="0.7631" stop-color="#ffca80"/><stop offset="0.8385" stop-color="#ffca80"/><stop offset="0.8400" stop-color="#fdca80"/><stop offset="0.8415" stop-color="#e5ca80"/><stop offset="0.8969" stop-color="#e5ca80"/><stop offset="0.9000" stop-color="#38ca80"/><stop offset="0.9138" stop-color="#38ca80"/><stop offset="0.9169" stop-color="#e1ca80"/><stop offset="1.0000" stop-color="#e1ca80"/></linearGradient><linearGradient id="d20"><stop offset="0.0000" stop-color="#78e780"/><stop offset="0.0338" stop-color="#a8e780"/><stop offset="0.0400" stop-color="#e4e780"/><stop offset="0.1000" stop-color="#ebe780"/><stop offset="0.1015" stop-color="#79e780"/><stop offset="0.1031" stop-color="#33e780"/><stop offset="0.1046" stop-color="#33e780"/><stop offset="0.1062" stop-color="#ffe780"/><stop offset="0.2846" stop-color="#f8e780"/><stop offset="0.3046" stop-color="#dde780"/><stop offset="0.3154" stop-color="#66e780"/><stop offset="0.3215" stop-color="#38e780"/><stop offset="0.3246" stop-color="#00e780"/><stop offset="0.4185" stop-color="#00e780"/><stop offset="0.4200" stop-color="#38e780"/><stop offset="0.4215" stop-color="#58e780"/><stop offset="0.4231" stop-color="#5fe780"/><stop offset="0.4246" stop-color="#41e780"/><stop offset="0.4262" stop-color="#02e780"/><stop offset="0.4646" stop-color="#00e780"/><stop offset="0.4677" stop-color="#58e780"/><stop offset="0.4692" stop-color="#5fe780"/><stop offset="0.4708" stop-color="#44e780"/><stop offset="0.4723" stop-color="#0ae780"/><stop offset="0.4754" stop-color="#7ce780"/><stop offset="0.4769" stop-color="#61e780"/><stop offset="0.4800" stop-color="#00e780"/><stop offset="0.5077" stop-color="#00e780"/><stop offset="0.5108" stop-color="#4de780"/><stop offset="0.5123" stop-color="#4de780"/><stop offset="0.5154" stop-color="#00e780"/><stop offset="0.5523" stop-color="#08e780"/><stop offset="0.6154" stop-color="#00e780"/><stop offset="0.6200" stop-color="#3ce780"/><stop offset="0.6277" stop-color="#5ee780"/><stop offset="0.6692" stop-color="#80e780"/><stop offset="0.6723" stop-color="#b0e780"/><stop offset="0.6754" stop-color="#cfe780"/><stop offset="0.7600" stop-color="#d8e780"/><stop offset="0.7615" stop-color="#f3e780"/><stop offset="0.7631" stop-color="#ffe780"/><stop offset="0.8400" stop-color="#ffe780"/><stop offset="0.8415" stop-color="#eae780"/><stop offset="0.8969" stop-color="#eae780"/><stop offset="0.9000" stop-color="#45e780"/><stop offset="0.9138" stop-color="#45e780"/><stop offset="0.9169" stop-color="#e6e780"/><stop offset="1.0000" stop-color="#e6e780"/></linearGradient><linearGradient id="d21"><stop offset="0.0000" stop-color="#84d980"/><stop offset="0.0338" stop-color="#b2d980"/><stop offset="0.0400" stop-color="#ebd980"/><stop offset="0.1000" stop-color="#f1d980"/><stop offset="0.1015" stop-color="#81d980"/><stop offset="0.1031" stop-color="#3fd980"/><stop offset="0.1046" stop-color="#3fd980"/><stop offset="0.1062" stop-color="#ffd980"/><stop offset="0.2846" stop-color="#fdd980"/><stop offset="0.3046" stop-color="#e6d980"/><stop offset="0.3092" stop-color="#c0d980"/><stop offset="0.3169" stop-color="#66d980"/><stop offset="0.3215" stop-color="#44d980"/><stop offset="0.3246" stop-color="#09d980"/><stop offset="0.3262" stop-color="#00d980"/><stop offset="0.4169" stop-color="#00d980"/><stop offset="0.4185" stop-color="#09d980"/><stop offset="0.4200" stop-color="#43d980"/><stop offset="0.4215" stop-color="#65d980"/><stop offset="0.4231" stop-color="#6ed980"/><stop offset="0.4246" stop-color="#4dd980"/><stop offset="0.4262" stop-color="#0ed980"/><stop offset="0.4277" stop-color="#00d980"/><stop offset="0.4646" stop-color="#00d980"/><stop offset="0.4662" stop-color="#3cd980"/><stop offset="0.4677" stop-color="#65d980"/><stop offset="0.4692" stop-color="#6ed980"/><stop offset="0.4708" stop-color="#50d980"/><stop offset="0.4723" stop-color="#16d980"/><stop offset="0.4754" stop-color="#8ad980"/><stop offset="0.4769" stop-color="#6fd980"/><stop offset="0.4800" stop-color="#00d980"/><stop offset="0.5077" stop-color="#00d980"/><stop offset="0.5092" stop-color="#36d980"/><stop offset="0.5108" stop-color="#58d980"/><stop offset="0.5123" stop-color="#58d980"/><stop offset="0.5138" stop-color="#36d980"/><stop offset="0.5154" stop-color="#00d980"/><stop offset="0.5508" stop-color="#00d980"/><stop offset="0.5523" stop-color="#13d980"/><stop offset="0.5538" stop-color="#13d980"/><stop offset="0.5554" stop-color="#00d980"/><stop offset="0.6138" stop-color="#00d980"/><stop offset="0.6154" stop-color="#09d980"/><stop offset="0.6200" stop-color="#47d980"/><stop offset="0.6277" stop-color="#6dd980"/><stop offset="0.6692" stop-color="#8ed980"/><stop offset="0.6754" stop-color="#d6d980"/><stop offset="0.7600" stop-color="#ded980"/><stop offset="0.7615" stop-color="#f9d980"/><stop offset="0.7631" stop-color="#ffd980"/><stop offset="0.8400" stop-color="#ffd980"/><stop offset="0.8415" stop-color="#eed980"/><stop offset="0.8969" stop-color="#eed980"/><stop offset="0.9000" stop-color="#4bd980"/><stop offset="0.9138" stop-color="#4bd980"/><stop offset="0.9169" stop-color="#e9d980"/><stop offset="1.0000" stop-color="#e9d980"/></linearGradient><linearGradient id="d22"><stop offset="0.0000" stop-color="#8cc780"/><stop offset="0.0338" stop-color="#b8c780"/><stop offset="0.0400" stop-color="#efc780"/><stop offset="0.1000" stop-color="#f4c780"/><stop offset="0.1015" stop-color="#87c780"/><stop offset="0.1031" stop-color="#44c780"/><stop offset="0.1046" stop-color="#44c780"/><stop offset="0.1062" stop-color="#ffc780"/><stop offset="0.2862" stop-color="#ffc780"/><stop offset="0.3046" stop-color="#ecc780"/><stop offset="0.3092" stop-color="#c8c780"/><stop offset="0.3185" stop-color="#62c780"/><stop offset="0.3215" stop-color="#4bc780"/><stop offset="0.3246" stop-color="#10c780"/><stop offset="0.3262" stop-color="#00c780"/><stop offset="0.4169" stop-color="#00c780"/><stop offset="0.4185" stop-color="#10c780"/><stop offset="0.4200" stop-color="#4ac780"/><stop offset="0.4215" stop-color="#6fc780"/><stop offset="0.4231" stop-color="#78c780"/><stop offset="0.4246" stop-color="#57c780"/><stop offset="0.4262" stop-color="#15c780"/><stop offset="0.4277" stop-color="#00c780"/><stop offset="0.4646" stop-color="#00c780"/><stop offset="0.4662" stop-color="#43c780"/><stop offset="0.4677" stop-color="#6fc780"/><stop offset="0.4692" stop-color="#78c780"/><stop offset="0.4708" stop-color="#59c780"/><stop offset="0.4723" stop-color="#1dc780"/><stop offset="0.4754" stop-color="#93c780"/><stop offset="0.4769" stop-color="#79c780"/><stop offset="0.4800" stop-color="#00c780"/><stop offset="0.5077" stop-color="#00c780"/><stop offset="0.5092" stop-color="#3dc780"/><stop offset="0.5108" stop-color="#61c780"/><stop offset="0.5123" stop-color="#61c780"/><stop offset="0.5138" stop-color="#3dc780"/><stop offset="0.5154" stop-color="#00c780"/><stop offset="0.5508" stop-color="#00c780"/><stop offset="0.5523" stop-color="#1bc780"/><stop offset="0.5538" stop-color="#1bc780"/><stop offset="0.5554" stop-color="#00c780"/><stop offset="0.6138" stop-color="#00c780"/><stop offset="0.6200" stop-color="#4fc780"/><stop offset="0.6262" stop-color="#71c780"/><stop offset="0.6692" stop-color="#97c780"/><stop offset="0.6754" stop-color="#dac780"/><stop offset="0.7600" stop-color="#e2c780"/><stop offset="0.7615" stop-color="#fcc780"/><stop offset="0.7631" stop-color="#ffc780"/><stop offset="0.8400" stop-color="#ffc780"/><stop offset="0.8415" stop-color="#f0c780"/><stop offset="0.8969" stop-color="#f0c780"/><stop offset="0.9000" stop-color="#50c780"/><stop offset="0.9138" stop-color="#50c780"/><stop offset="0.9169" stop-color="#ebc780"/><stop offset="1.0000" stop-color="#ebc780"/></linearGradient><linearGradient id="d23"><stop offset="0.0000" stop-color="#93ec80"/><stop offset="0.0338" stop-color="#bfec80"/><stop offset="0.0400" stop-color="#f2ec80"/><stop offset="0.1000" stop-color="#f8ec80"/><stop offset="0.1015" stop-color="#8cec80"/><stop offset="0.1031" stop-color="#47ec80"/><stop offset="0.1046" stop-color="#47ec80"/><stop offset="0.1062" stop-color="#ffec80"/><stop offset="0.2908" stop-color="#ffec80"/><stop offset="0.3031" stop-color="#f5ec80"/><stop offset="0.3077" stop-color="#ddec80"/><stop offset="0.3215" stop-color="#52ec80"/><stop offset="0.3262" stop-color="#00ec80"/><stop offset="0.4169" stop-color="#00ec80"/><stop offset="0.4185" stop-color="#18ec80"/><stop offset="0.4200" stop-color="#53ec80"/><stop offset="0.4215" stop-color="#79ec80"/><stop offset="0.4231" stop-color="#82ec80"/><stop offset="0.4246" stop-color="#61ec80"/><stop offset="0.4262" stop-color="#1cec80"/><stop offset="0.4277" stop-color="#00ec80"/><stop offset="0.4631" stop-color="#00ec80"/><stop offset="0.4646" stop-color="#02ec80"/><stop offset="0.4662" stop-color="#4bec80"/><stop offset="0.4677" stop-color="#79ec80"/><stop offset="0.4692" stop-color="#82ec80"/><stop offset="0.4708" stop-color="#63ec80"/><stop offset="0.4723" stop-color="#25ec80"/><stop offset="0.4754" stop-color="#9dec80"/><stop offset="0.4769" stop-color="#82ec80"/><stop offset="0.4785" stop-color="#4bec80"/><stop offset="0.4800" stop-color="#02ec80"/><stop offset="0.5077" stop-color="#00ec80"/><stop offset="0.5092" stop-color="#44ec80"/><stop offset="0.5108" stop-color="#6cec80"/><stop offset="0.5123" stop-color="#6dec80"/><stop offset="0.5138" stop-color="#44ec80"/><stop offset="0.5154" stop-color="#00ec80"/><stop offset="0.5508" stop-color="#00ec80"/><stop offset="0.5523" stop-color="#22ec80"/><stop offset="0.5538" stop-color="#22ec80"/><stop offset="0.5554" stop-color="#00ec80"/><stop offset="0.6123" stop-color="#00ec80"/><stop offset="0.6138" stop-color="#00ec80"/><stop offset="0.6200" stop-color="#56ec80"/><stop offset="0.6262" stop-color="#7aec80"/><stop offset="0.6692" stop-color="#a0ec80"/><stop offset="0.6754" stop-color="#deec80"/><stop offset="0.7600" stop-color="#e6ec80"/><stop offset="0.7615" stop-color="#feec80"/><stop offset="0.7631" stop-color="#ffec80"/><stop offset="0.8400" stop-color="#ffec80"/><stop offset="0.8415" stop-color="#f2ec80"/><stop offset="0.8969" stop-color="#f2ec80"/><stop offset="0.9000" stop-color="#54ec80"/><stop offset="0.9138" stop-color="#54ec80"/><stop offset="0.9169" stop-color="#edec80"/><stop offset="1.0000" stop-color="#edec80"/></linearGradient><linearGradient id="d24"><stop offset="0.0000" stop-color="#9b4d80"/><stop offset="0.0338" stop-color="#c44d80"/><stop offset="0.0400" stop-color="#f54d80"/><stop offset="0.1000" stop-color="#fb4d80"/><stop offset="0.1015" stop-color="#914d80"/><stop offset="0.1031" stop-color="#4b4d80"/><stop offset="0.1046" stop-color="#4b4d80"/><stop offset="0.1062" stop-color="#ff4d80"/><stop offset="0.2954" stop-color="#ff4d80"/><stop offset="0.3031" stop-color="#f94d80"/><stop offset="0.3092" stop-color="#d84d80"/><stop offset="0.3215" stop-color="#5a4d80"/><stop offset="0.3262" stop-color="#024d80"/><stop offset="0.3277" stop-color="#004d80"/><stop offset="0.4169" stop-color="#004d80"/><stop offset="0.4185" stop-color="#1f4d80"/><stop offset="0.4200" stop-color="#5d4d80"/><stop offset="0.4215" stop-color="#834d80"/><stop offset="0.4231" stop-color="#8c4d80"/><stop offset="0.4246" stop-color="#6b4d80"/><stop offset="0.4262" stop-color="#244d80"/><stop offset="0.4277" stop-color="#004d80"/><stop offset="0.4631" stop-color="#004d80"/><stop offset="0.4646" stop-color="#094d80"/><stop offset="0.4662" stop-color="#554d80"/><stop offset="0.4677" stop-color="#834d80"/><stop offset="0.4692" stop-color="#8c4d80"/><stop offset="0.4708" stop-color="#6e4d80"/><stop offset="0.4723" stop-color="#2c4d80"/><stop offset="0.4754" stop-color="#a64d80"/><stop offset="0.4769" stop-color="#8b4d80"/><stop offset="0.4785" stop-color="#554d80"/><stop offset="0.4800" stop-color="#094d80"/><stop offset="0.4815" stop-color="#004d80"/><stop offset="0.5062" stop-color="#004d80"/><stop offset="0.5077" stop-color="#074d80"/><stop offset="0.5092" stop-color="#4d4d80"/><stop offset="0.5108" stop-color="#774d80"/><stop offset="0.5123" stop-color="#784d80"/><stop offset="0.5138" stop-color="#4e4d80"/><stop offset="0.5154" stop-color="#074d80"/><stop offset="0.5169" stop-color="#004d80"/><stop offset="0.5508" stop-color="#004d80"/><stop offset="0.5523" stop-color="#294d80"/><stop offset="0.5538" stop-color="#294d80"/><stop offset="0.5554" stop-color="#004d80"/><stop offset="0.6123" stop-color="#004d80"/><stop offset="0.6138" stop-color="#084d80"/><stop offset="0.6200" stop-color="#5e4d80"/><stop offset="0.6262" stop-color="#834d80"/><stop offset="0.6692" stop-color="#a94d80"/><stop offset="0.6754" stop-color="#e24d80"/><stop offset="0.7600" stop-color="#ea4d80"/><stop offset="0.7615" stop-color="#ff4d80"/><stop offset="0.8969" stop-color="#f34d80"/><stop offset="0.9000" stop-color="#584d80"/><stop offset="0.9138" stop-color="#584d80"/><stop offset="0.9169" stop-color="#ee4d80"/><stop offset="1.0000" stop-color="#ee4d80"/></linearGradient><linearGradient id="d25"><stop offset="0.0000" stop-color="#a28b80"/><stop offset="0.0338" stop-color="#ca8b80"/><stop offset="0.0400" stop-color="#f88b80"/><stop offset="0.1000" stop-color="#fd8b80"/><stop offset="0.1015" stop-color="#958b80"/><stop offset="0.1031" stop-color="#4e8b80"/><stop offset="0.1046" stop-color="#4e8b80"/><stop offset="0.1062" stop-color="#ff8b80"/><stop offset="0.3000" stop-color="#ff8b80"/><stop offset="0.3046" stop-color="#f98b80"/><stop offset="0.3108" stop-color="#d48b80"/><stop offset="0.3215" stop-color="#638b80"/><stop offset="0.3262" stop-color="#098b80"/><stop offset="0.3277" stop-color="#008b80"/><stop offset="0.4169" stop-color="#008b80"/><stop offset="0.4185" stop-color="#268b80"/><stop offset="0.4200" stop-color="#668b80"/><stop offset="0.4215" stop-color="#8c8b80"/><stop offset="0.4231" stop-color="#968b80"/><stop offset="0.4246" stop-color="#768b80"/><stop offset="0.4262" stop-color="#2b8b80"/><stop offset="0.4277" stop-color="#008b80"/><stop offset="0.4631" stop-color="#008b80"/><stop offset="0.4646" stop-color="#108b80"/><stop offset="0.4662" stop-color="#5e8b80"/><stop offset="0.4677" stop-color="#8c8b80"/><stop offset="0.4692" stop-color="#968b80"/><stop offset="0.4708" stop-color="#798b80"/><stop offset="0.4723" stop-color="#338b80"/><stop offset="0.4754" stop-color="#af8b80"/><stop offset="0.4769" stop-color="#958b80"/><stop offset="0.4785" stop-color="#5e8b80"/><stop offset="0.4800" stop-color="#108b80"/><stop offset="0.4815" stop-color="#008b80"/><stop offset="0.5062" stop-color="#008b80"/><stop offset="0.5077" stop-color="#0e8b80"/><stop offset="0.5092" stop-color="#578b80"/><stop offset="0.5108" stop-color="#818b80"/><stop offset="0.5123" stop-color="#838b80"/><stop offset="0.5138" stop-color="#598b80"/><stop offset="0.5154" stop-color="#0e8b80"/><stop offset="0.5169" stop-color="#008b80"/><stop offset="0.5492" stop-color="#008b80"/><stop offset="0.5508" stop-color="#038b80"/><stop offset="0.5523" stop-color="#318b80"/><stop offset="0.5538" stop-color="#318b80"/><stop offset="0.5554" stop-color="#038b80"/><stop offset="0.5569" stop-color="#008b80"/><stop offset="0.6123" stop-color="#008b80"/><stop offset="0.6200" stop-color="#678b80"/><stop offset="0.6262" stop-color="#8c8b80"/><stop offset="0.6692" stop-color="#b18b80"/><stop offset="0.6754" stop-color="#e58b80"/><stop offset="0.7600" stop-color="#ed8b80"/><stop offset="0.7615" stop-color="#ff8b80"/><stop offset="0.8969" stop-color="#f58b80"/><stop offset="0.9000" stop-color="#5c8b80"/><stop offset="0.9138" stop-color="#5c8b80"/><stop offset="0.9169" stop-color="#f08b80"/><stop offset="1.0000" stop-color="#f08b80"/></linearGradient><linearGradient id="d26"><stop offset="0.0000" stop-color="#a98780"/><stop offset="0.0338" stop-color="#cf8780"/><stop offset="0.0400" stop-color="#fa8780"/><stop offset="0.1000" stop-color="#ff8780"/><stop offset="0.1015" stop-color="#998780"/><stop offset="0.1031" stop-color="#528780"/><stop offset="0.1046" stop-color="#528780"/><stop offset="0.1062" stop-color="#ff8780"/><stop offset="0.3031" stop-color="#ff8780"/><stop offset="0.3077" stop-color="#ef8780"/><stop offset="0.3123" stop-color="#cd8780"/><stop offset="0.3215" stop-color="#6c8780"/><stop offset="0.3262" stop-color="#118780"/><stop offset="0.3277" stop-color="#008780"/><stop offset="0.4169" stop-color="#008780"/><stop offset="0.4185" stop-color="#2e8780"/><stop offset="0.4200" stop-color="#708780"/><stop offset="0.4215" stop-color="#968780"/><stop offset="0.4231" stop-color="#a08780"/><stop offset="0.4246" stop-color="#808780"/><stop offset="0.4262" stop-color="#348780"/><stop offset="0.4277" stop-color="#008780"/><stop offset="0.4631" stop-color="#008780"/><stop offset="0.4646" stop-color="#188780"/><stop offset="0.4662" stop-color="#688780"/><stop offset="0.4677" stop-color="#968780"/><stop offset="0.4692" stop-color="#a08780"/><stop offset="0.4708" stop-color="#848780"/><stop offset="0.4723" stop-color="#3b8780"/><stop offset="0.4754" stop-color="#b88780"/><stop offset="0.4769" stop-color="#9e8780"/><stop offset="0.4785" stop-color="#688780"/><stop offset="0.4800" stop-color="#188780"/><stop offset="0.4815" stop-color="#008780"/><stop offset="0.5062" stop-color="#008780"/><stop offset="0.5077" stop-color="#168780"/><stop offset="0.5092" stop-color="#628780"/><stop offset="0.5108" stop-color="#8c8780"/><stop offset="0.5123" stop-color="#8f8780"/><stop offset="0.5138" stop-color="#648780"/><stop offset="0.5154" stop-color="#168780"/><stop offset="0.5169" stop-color="#008780"/><stop offset="0.5492" stop-color="#008780"/><stop offset="0.5508" stop-color="#0a8780"/><stop offset="0.5523" stop-color="#3b8780"/><stop offset="0.5538" stop-color="#3b8780"/><stop offset="0.5554" stop-color="#0a8780"/><stop offset="0.5569" stop-color="#008780"/><stop offset="0.6123" stop-color="#008780"/><stop offset="0.6200" stop-color="#718780"/><stop offset="0.6262" stop-color="#958780"/><stop offset="0.6692" stop-color="#b98780"/><stop offset="0.6754" stop-color="#e98780"/><stop offset="0.7600" stop-color="#f08780"/><stop offset="0.7615" stop-color="#ff8780"/><stop offset="0.8969" stop-color="#f68780"/><stop offset="0.9000" stop-color="#608780"/><stop offset="0.9138" stop-color="#608780"/><stop offset="0.9169" stop-color="#f18780"/><stop offset="1.0000" stop-color="#f18780"/></linearGradient><linearGradient id="d27"><stop offset="0.0000" stop-color="#b01b80"/><stop offset="0.0338" stop-color="#d41b80"/><stop offset="0.0400" stop-color="#fc1b80"/><stop offset="0.1000" stop-color="#ff1b80"/><stop offset="0.1015" stop-color="#9d1b80"/><stop offset="0.1031" stop-color="#551b80"/><stop offset="0.1046" stop-color="#551b80"/><stop offset="0.1062" stop-color="#ff1b80"/><stop offset="0.3046" stop-color="#ff1b80"/><stop offset="0.3108" stop-color="#e31b80"/><stop offset="0.3215" stop-color="#751b80"/><stop offset="0.3277" stop-color="#001b80"/><stop offset="0.4169" stop-color="#001b80"/><stop offset="0.4200" stop-color="#791b80"/><stop offset="0.4215" stop-color="#a01b80"/><stop offset="0.4231" stop-color="#aa1b80"/><stop offset="0.4246" stop-color="#8a1b80"/><stop offset="0.4277" stop-color="#001b80"/><stop offset="0.4631" stop-color="#001b80"/><stop offset="0.4646" stop-color="#1f1b80"/><stop offset="0.4662" stop-color="#711b80"/><stop offset="0.4677" stop-color="#a01b80"/><stop offset="0.4692" stop-color="#aa1b80"/><stop offset="0.4708" stop-color="#8f1b80"/><stop offset="0.4723" stop-color="#421b80"/><stop offset="0.4754" stop-color="#c21b80"/><stop offset="0.4769" stop-color="#a81b80"/><stop offset="0.4785" stop-color="#711b80"/><stop offset="0.4800" stop-color="#1f1b80"/><stop offset="0.4815" stop-color="#001b80"/><stop offset="0.5062" stop-color="#001b80"/><stop offset="0.5077" stop-color="#1d1b80"/><stop offset="0.5092" stop-color="#6c1b80"/><stop offset="0.5108" stop-color="#971b80"/><stop offset="0.5123" stop-color="#9a1b80"/><stop offset="0.5138" stop-color="#701b80"/><stop offset="0.5154" stop-color="#1d1b80"/><stop offset="0.5169" stop-color="#001b80"/><stop offset="0.5492" stop-color="#001b80"/><stop offset="0.5508" stop-color="#121b80"/><stop offset="0.5523" stop-color="#481b80"/><stop offset="0.5538" stop-color="#481b80"/><stop offset="0.5554" stop-color="#121b80"/><stop offset="0.5569" stop-color="#001b80"/><stop offset="0.6108" stop-color="#001b80"/><stop offset="0.6123" stop-color="#071b80"/><stop offset="0.6200" stop-color="#7a1b80"/><stop offset="0.6262" stop-color="#9d1b80"/><stop offset="0.6692" stop-color="#c01b80"/><stop offset="0.6754" stop-color="#eb1b80"/><stop offset="0.7000" stop-color="#f71b80"/><stop offset="0.7600" stop-color="#f31b80"/><stop offset="0.7615" stop-color="#ff1b80"/><stop offset="0.8969" stop-color="#f71b80"/><stop offset="0.9000" stop-color="#641b80"/><stop offset="0.9138" stop-color="#641b80"/><stop offset="0.9169" stop-color="#f21b80"/><stop offset="1.0000" stop-color="#f21b80"/></linearGradient><linearGradient id="d28"><stop offset="0.0000" stop-color="#b62180"/><stop offset="0.0338" stop-color="#d92180"/><stop offset="0.0400" stop-color="#fe2180"/><stop offset="0.1000" stop-color="#ff2180"/><stop offset="0.1015" stop-color="#a12180"/><stop offset="0.1031" stop-color="#592180"/><stop offset="0.1046" stop-color="#592180"/><stop offset="0.1062" stop-color="#ff2180"/><stop offset="0.3046" stop-color="#ff2180"/><stop offset="0.3108" stop-color="#e92180"/><stop offset="0.3215" stop-color="#7f2180"/><stop offset="0.3277" stop-color="#022180"/><stop offset="0.4169" stop-color="#022180"/><stop offset="0.4200" stop-color="#832180"/><stop offset="0.4215" stop-color="#a92180"/><stop offset="0.4231" stop-color="#b42180"/><stop offset="0.4246" stop-color="#942180"/><stop offset="0.4277" stop-color="#022180"/><stop offset="0.4631" stop-color="#022180"/><stop offset="0.4646" stop-color="#282180"/><stop offset="0.4662" stop-color="#7a2180"/><stop offset="0.4677" stop-color="#a92180"/><stop offset="0.4692" stop-color="#b42180"/><stop offset="0.4708" stop-color="#9a2180"/><stop offset="0.4723" stop-color="#502180"/><stop offset="0.4754" stop-color="#cb2180"/><stop offset="0.4769" stop-color="#b12180"/><stop offset="0.4785" stop-color="#7a2180"/><stop offset="0.4800" stop-color="#282180"/><stop offset="0.4815" stop-color="#022180"/><stop offset="0.5062" stop-color="#022180"/><stop offset="0.5077" stop-color="#252180"/><stop offset="0.5092" stop-color="#772180"/><stop offset="0.5108" stop-color="#a12180"/><stop offset="0.5123" stop-color="#a52180"/><stop offset="0.5138" stop-color="#7b2180"/><stop offset="0.5154" stop-color="#262180"/><stop offset="0.5169" stop-color="#022180"/><stop offset="0.5492" stop-color="#022180"/><stop offset="0.5508" stop-color="#192180"/><stop offset="0.5523" stop-color="#552180"/><stop offset="0.5538" stop-color="#552180"/><stop offset="0.5554" stop-color="#192180"/><stop offset="0.5569" stop-color="#022180"/><stop offset="0.6108" stop-color="#022180"/><stop offset="0.6123" stop-color="#0e2180"/><stop offset="0.6200" stop-color="#832180"/><stop offset="0.6277" stop-color="#aa2180"/><stop offset="0.6692" stop-color="#c72180"/><stop offset="0.6754" stop-color="#ee2180"/><stop offset="0.6908" stop-color="#f12180"/><stop offset="0.6985" stop-color="#ff2180"/><stop offset="0.7138" stop-color="#f22180"/><stop offset="0.7600" stop-color="#f62180"/><stop offset="0.7615" stop-color="#ff2180"/><stop offset="0.8969" stop-color="#f82180"/><stop offset="0.9000" stop-color="#682180"/><stop offset="0.9138" stop-color="#682180"/><stop offset="0.9169" stop-color="#f32180"/><stop offset="1.0000" stop-color="#f32180"/></linearGradient><linearGradient id="d29"><stop offset="0.0000" stop-color="#bde580"/><stop offset="0.0338" stop-color="#dde580"/><stop offset="0.0400" stop-color="#ffe580"/><stop offset="0.1000" stop-color="#ffe580"/><stop offset="0.1015" stop-color="#a4e580"/><stop offset="0.1031" stop-color="#5ce580"/><stop offset="0.1046" stop-color="#5ce580"/><stop offset="0.1062" stop-color="#ffe580"/><stop offset="0.3062" stop-color="#ffe580"/><stop offset="0.3123" stop-color="#e4e580"/><stop offset="0.3215" stop-color="#88e580"/><stop offset="0.3277" stop-color="#0ae580"/><stop offset="0.4169" stop-color="#0ae580"/><stop offset="0.4200" stop-color="#8ce580"/><stop offset="0.4215" stop-color="#b3e580"/><stop offset="0.4231" stop-color="#bfe580"/><stop offset="0.4246" stop-color="#9ee580"/><stop offset="0.4277" stop-color="#0ae580"/><stop offset="0.4631" stop-color="#0ae580"/><stop offset="0.4646" stop-color="#31e580"/><stop offset="0.4662" stop-color="#84e580"/><stop offset="0.4677" stop-color="#b3e580"/><stop offset="0.4692" stop-color="#bfe580"/><stop offset="0.4708" stop-color="#a4e580"/><stop offset="0.4723" stop-color="#5ee580"/><stop offset="0.4754" stop-color="#d4e580"/><stop offset="0.4769" stop-color="#bae580"/><stop offset="0.4785" stop-color="#84e580"/><stop offset="0.4800" stop-color="#31e580"/><stop offset="0.4815" stop-color="#0ae580"/><stop offset="0.5062" stop-color="#0ae580"/><stop offset="0.5077" stop-color="#2fe580"/><stop offset="0.5092" stop-color="#81e580"/><stop offset="0.5108" stop-color="#ace580"/><stop offset="0.5123" stop-color="#b1e580"/><stop offset="0.5138" stop-color="#87e580"/><stop offset="0.5154" stop-color="#30e580"/><stop offset="0.5169" stop-color="#0ae580"/><stop offset="0.5492" stop-color="#0ae580"/><stop offset="0.5508" stop-color="#23e580"/><stop offset="0.5523" stop-color="#63e580"/><stop offset="0.5538" stop-color="#63e580"/><stop offset="0.5554" stop-color="#23e580"/><stop offset="0.5569" stop-color="#0ae580"/><stop offset="0.6108" stop-color="#0ae580"/><stop offset="0.6123" stop-color="#15e580"/><stop offset="0.6200" stop-color="#8ce580"/><stop offset="0.6277" stop-color="#b2e580"/><stop offset="0.6692" stop-color="#cde580"/><stop offset="0.6754" stop-color="#f0e580"/><stop offset="0.6892" stop-color="#f3e580"/><stop offset="0.6954" stop-color="#ffe580"/><stop offset="0.7138" stop-color="#f4e580"/><stop offset="0.7615" stop-color="#ffe580"/><stop offset="0.8969" stop-color="#f9e580"/><stop offset="0.9000" stop-color="#6ce580"/><stop offset="0.9138" stop-color="#6ce580"/><stop offset="0.9169" stop-color="#f4e580"/><stop offset="1.0000" stop-color="#f4e580"/></linearGradient><linearGradient id="d30"><stop offset="0.0000" stop-color="#c3c780"/><stop offset="0.0338" stop-color="#e1c780"/><stop offset="0.0400" stop-color="#ffc780"/><stop offset="0.1000" stop-color="#ffc780"/><stop offset="0.1015" stop-color="#a7c780"/><stop offset="0.1031" stop-color="#60c780"/><stop offset="0.1046" stop-color="#60c780"/><stop offset="0.1062" stop-color="#ffc780"/><stop offset="0.3062" stop-color="#ffc780"/><stop offset="0.3123" stop-color="#eac780"/><stop offset="0.3215" stop-color="#91c780"/><stop offset="0.3277" stop-color="#12c780"/><stop offset="0.4169" stop-color="#12c780"/><stop offset="0.4200" stop-color="#96c780"/><stop offset="0.4215" stop-color="#bdc780"/><stop offset="0.4231" stop-color="#c9c780"/><stop offset="0.4246" stop-color="#a8c780"/><stop offset="0.4277" stop-color="#12c780"/><stop offset="0.4631" stop-color="#12c780"/><stop offset="0.4646" stop-color="#3bc780"/><stop offset="0.4662" stop-color="#8dc780"/><stop offset="0.4677" stop-color="#bdc780"/><stop offset="0.4692" stop-color="#c9c780"/><stop offset="0.4708" stop-color="#afc780"/><stop offset="0.4723" stop-color="#6cc780"/><stop offset="0.4754" stop-color="#dec780"/><stop offset="0.4769" stop-color="#c4c780"/><stop offset="0.4785" stop-color="#8dc780"/><stop offset="0.4800" stop-color="#3bc780"/><stop offset="0.4815" stop-color="#12c780"/><stop offset="0.5062" stop-color="#12c780"/><stop offset="0.5077" stop-color="#39c780"/><stop offset="0.5092" stop-color="#8bc780"/><stop offset="0.5108" stop-color="#b7c780"/><stop offset="0.5123" stop-color="#bcc780"/><stop offset="0.5138" stop-color="#92c780"/><stop offset="0.5154" stop-color="#3bc780"/><stop offset="0.5169" stop-color="#12c780"/><stop offset="0.5492" stop-color="#12c780"/><stop offset="0.5508" stop-color="#2fc780"/><stop offset="0.5523" stop-color="#70c780"/><stop offset="0.5538" stop-color="#70c780"/><stop offset="0.5554" stop-color="#2fc780"/><stop offset="0.5569" stop-color="#12c780"/><stop offset="0.6108" stop-color="#12c780"/><stop offset="0.6123" stop-color="#1ec780"/><stop offset="0.6200" stop-color="#95c780"/><stop offset="0.6262" stop-color="#b5c780"/><stop offset="0.6692" stop-color="#d2c780"/><stop offset="0.6754" stop-color="#f2c780"/><stop offset="0.6954" stop-color="#ffc780"/><stop offset="0.7138" stop-color="#f6c780"/><stop offset="0.7615" stop-color="#ffc780"/><stop offset="0.8969" stop-color="#f9c780"/><stop offset="0.9000" stop-color="#70c780"/><stop offset="0.9138" stop-color="#70c780"/><stop offset="0.9169" stop-color="#f4c780"/><stop offset="1.0000" stop-color="#f4c780"/></linearGradient><linearGradient id="d31"><stop offset="0.0000" stop-color="#c89080"/><stop offset="0.0338" stop-color="#e49080"/><stop offset="0.0400" stop-color="#ff9080"/><stop offset="0.1000" stop-color="#ff9080"/><stop offset="0.1031" stop-color="#639080"/><stop offset="0.1046" stop-color="#639080"/><stop offset="0.1062" stop-color="#ff9080"/><stop offset="0.3077" stop-color="#ff9080"/><stop offset="0.3123" stop-color="#ef9080"/><stop offset="0.3215" stop-color="#9a9080"/><stop offset="0.3277" stop-color="#1b9080"/><stop offset="0.4169" stop-color="#1b9080"/><stop offset="0.4200" stop-color="#9f9080"/><stop offset="0.4215" stop-color="#c69080"/><stop offset="0.4231" stop-color="#d39080"/><stop offset="0.4246" stop-color="#b39080"/><stop offset="0.4277" stop-color="#1b9080"/><stop offset="0.4631" stop-color="#1b9080"/><stop offset="0.4646" stop-color="#449080"/><stop offset="0.4662" stop-color="#979080"/><stop offset="0.4677" stop-color="#c69080"/><stop offset="0.4692" stop-color="#d39080"/><stop offset="0.4708" stop-color="#ba9080"/><stop offset="0.4723" stop-color="#7a9080"/><stop offset="0.4754" stop-color="#e79080"/><stop offset="0.4769" stop-color="#cd9080"/><stop offset="0.4785" stop-color="#979080"/><stop offset="0.4800" stop-color="#449080"/><stop offset="0.4815" stop-color="#1b9080"/><stop offset="0.5062" stop-color="#1b9080"/><stop offset="0.5077" stop-color="#439080"/><stop offset="0.5092" stop-color="#969080"/><stop offset="0.5108" stop-color="#c29080"/><stop offset="0.5123" stop-color="#c79080"/><stop offset="0.5138" stop-color="#9e9080"/><stop offset="0.5154" stop-color="#469080"/><stop offset="0.5169" stop-color="#1b9080"/><stop offset="0.5492" stop-color="#1b9080"/><stop offset="0.5508" stop-color="#3a9080"/><stop offset="0.5523" stop-color="#7e9080"/><stop offset="0.5538" stop-color="#7e9080"/><stop offset="0.5554" stop-color="#3a9080"/><stop offset="0.5569" stop-color="#1b9080"/><stop offset="0.6108" stop-color="#1b9080"/><stop offset="0.6123" stop-color="#289080"/><stop offset="0.6200" stop-color="#9e9080"/><stop offset="0.6262" stop-color="#bb9080"/><stop offset="0.6692" stop-color="#d79080"/><stop offset="0.6754" stop-color="#f49080"/><stop offset="0.6954" stop-color="#ff9080"/><stop offset="0.8969" stop-color="#fa9080"/><stop offset="0.9000" stop-color="#749080"/><stop offset="0.9138" stop-color="#749080"/><stop offset="0.9169" stop-color="#f59080"/><stop offset="1.0000" stop-color="#f59080"/></linearGradient><linearGradient id="d32"><stop offset="0.0000" stop-color="#cdc780"/><stop offset="0.0338" stop-color="#e7c780"/><stop offset="0.0400" stop-color="#ffc780"/><stop offset="0.1000" stop-color="#ffc780"/><stop offset="0.1031" stop-color="#67c780"/><stop offset="0.1046" stop-color="#67c780"/><stop offset="0.1062" stop-color="#ffc780"/><stop offset="0.3077" stop-color="#ffc780"/><stop offset="0.3123" stop-color="#f3c780"/><stop offset="0.3215" stop-color="#a4c780"/><stop offset="0.3277" stop-color="#24c780"/><stop offset="0.4169" stop-color="#24c780"/><stop offset="0.4200" stop-color="#a9c780"/><stop offset="0.4215" stop-color="#d0c780"/><stop offset="0.4231" stop-color="#ddc780"/><stop offset="0.4246" stop-color="#bdc780"/><stop offset="0.4277" stop-color="#24c780"/><stop offset="0.4631" stop-color="#24c780"/><stop offset="0.4646" stop-color="#4ec780"/><stop offset="0.4662" stop-color="#a0c780"/><stop offset="0.4677" stop-color="#d0c780"/><stop offset="0.4692" stop-color="#ddc780"/><stop offset="0.4708" stop-color="#c5c780"/><stop offset="0.4723" stop-color="#88c780"/><stop offset="0.4754" stop-color="#f0c780"/><stop offset="0.4769" stop-color="#d7c780"/><stop offset="0.4785" stop-color="#a0c780"/><stop offset="0.4800" stop-color="#4ec780"/><stop offset="0.4815" stop-color="#24c780"/><stop offset="0.5062" stop-color="#24c780"/><stop offset="0.5077" stop-color="#4dc780"/><stop offset="0.5092" stop-color="#a0c780"/><stop offset="0.5108" stop-color="#ccc780"/><stop offset="0.5123" stop-color="#d2c780"/><stop offset="0.5138" stop-color="#a9c780"/><stop offset="0.5154" stop-color="#50c780"/><stop offset="0.5169" stop-color="#24c780"/><stop offset="0.5492" stop-color="#24c780"/><stop offset="0.5508" stop-color="#46c780"/><stop offset="0.5523" stop-color="#8bc780"/><stop offset="0.5538" stop-color="#8bc780"/><stop offset="0.5554" stop-color="#46c780"/><stop offset="0.5569" stop-color="#24c780"/><stop offset="0.6108" stop-color="#24c780"/><stop offset="0.6123" stop-color="#31c780"/><stop offset="0.6200" stop-color="#a7c780"/><stop offset="0.6262" stop-color="#c2c780"/><stop offset="0.6692" stop-color="#dac780"/><stop offset="0.6754" stop-color="#f5c780"/><stop offset="0.6969" stop-color="#ffc780"/><stop offset="0.8969" stop-color="#fac780"/><stop offset="0.9000" stop-color="#78c780"/><stop offset="0.9138" stop-color="#78c780"/><stop offset="0.9169" stop-color="#f5c780"/><stop offset="1.0000" stop-color="#f5c780"/></linearGradient><linearGradient id="cbg" x1="0" y1="0" x2="0" y2="1"><stop offset="0.000" stop-color="#f0f921"/><stop offset="0.062" stop-color="#f8df25"/><stop offset="0.125" stop-color="#fdc527"/><stop offset="0.188" stop-color="#fdac33"/><stop offset="0.250" stop-color="#f89540"/><stop offset="0.312" stop-color="#f0804e"/><stop offset="0.375" stop-color="#e66c5c"/><stop offset="0.438" stop-color="#da5a6a"/><stop offset="0.500" stop-color="#cc4778"/><stop offset="0.562" stop-color="#bc3587"/><stop offset="0.625" stop-color="#aa2395"/><stop offset="0.688" stop-color="#9511a1"/><stop offset="0.750" stop-color="#7e03a8"/><stop offset="0.812" stop-color="#6600a7"/><stop offset="0.875" stop-color="#4c02a1"/><stop offset="0.938" stop-color="#310597"/><stop offset="1.000" stop-color="#11068a"/></linearGradient></defs><rect width="1570" height="2086" fill="#fff"/><path d="M408.6 477.5A92.8 92.8 0 0 1 501.4 384.7" fill="#fff" stroke="#000" stroke-width="2.6"/><path d="M501.4 477.5V384.7A92.8 92.8 0 0 1 594.2 477.5Z" fill="#000"/><path d="M348.7 477.5 348.7 476.9 348.7 476.4 348.7 475.8 348.7 475.2 348.7 474.7 348.7 474.1 348.7 473.5 348.7 472.9 348.8 472.4 348.8 471.8 348.8 471.2 348.8 470.7 348.8 470.1 348.9 469.5 348.9 468.9 348.9 468.4 348.9 467.8 349 467.2 349 466.7 349 466.1 349.1 465.5 349.1 464.9 349.1 464.4 349.2 463.8 349.2 463.2 349.3 462.7 349.3 462.1 349.4 461.5 349.4 460.9 349.5 460.4 349.5 459.8 349.6 459.2 349.6 458.6 349.7 458.1 349.7 457.5 349.8 456.9 349.9 456.3 349.9 455.8 350 455.2 350.1 454.6 350.1 454 350.2 453.4 350.3 452.9 350.4 452.3 350.4 451.7 350.5 451.1 350.6 450.5 350.7 449.9 350.8 449.4 350.9 448.8 351 448.2 351 447.6 351.1 447 351.2 446.4 351.3 445.9 351.4 445.3 351.5 444.7 351.6 444.1 351.7 443.5 351.8 442.9 352 442.3 352.1 441.7 352.2 441.1 352.3 440.5 352.4 440 352.5 439.4 352.6 438.8 352.8 438.2 352.9 437.6 353 437 353.2 436.4 353.3 435.8 353.4 435.2 353.6 434.6 353.7 434 353.8 433.4 354 432.8 354.1 432.2 354.3 431.6 354.4 431 354.6 430.3 354.7 429.7 354.9 429.1 355 428.5 355.2 427.9 355.3 427.3 355.5 426.7 355.7 426.1 355.8 425.5 356 424.8 356.2 424.2 356.4 423.6 356.5 423 356.7 422.4 356.9 421.7 357.1 421.1 357.3 420.5 357.5 419.9 357.6 419.2 357.8 418.6 358 418 358.2 417.3 358.4 416.7 358.6 416.1 358.8 415.4 359.1 414.8 359.3 414.2 359.5 413.5 359.7 412.9 359.9 412.2 360.1 411.6 360.4 411 360.6 410.3 360.8 409.7 361.1 409 361.3 408.4 361.5 407.7 361.8 407.1 362 406.4 362.3 405.7 362.5 405.1 362.8 404.4 363 403.8 363.3 403.1 363.5 402.4 363.8 401.8 364.1 401.1 364.3 400.4 364.6 399.8 364.9 399.1 365.2 398.4 365.5 397.7 365.7 397.1 366 396.4 366.3 395.7 366.6 395 366.9 394.3 367.2 393.6 367.5 392.9 367.8 392.2 368.2 391.5 368.5 390.8 368.8 390.1 369.1 389.4 369.4 388.7 369.8 388 370.1 387.3 370.4 386.6 370.8 385.9 371.1 385.2 371.5 384.5 371.8 383.8 372.2 383 372.5 382.3 372.9 381.6 373.3 380.9 373.6 380.1 374 379.4 374.4 378.7 374.8 377.9 375.2 377.2 375.6 376.4 376 375.7 376.4 374.9 376.8 374.2 377.2 373.4 377.6 372.7 378 371.9 378.4 371.1 378.9 370.4 379.3 369.6 379.7 368.8 380.2 368.1 380.6 367.3 381.1 366.5 381.5 365.7 382 364.9 382.5 364.2 382.9 363.4 383.4 362.6 383.9 361.8 384.4 361 384.9 360.2 385.4 359.4 385.9 358.5 386.4 357.7 386.9 356.9 387.4 356.1 387.9 355.3 388.5 354.4 389 353.6 389.5 352.8 390.1 351.9 390.6 351.1 391.2 350.2 391.8 349.4 392.3 348.5 392.9 347.7 393.5 346.8 394.1 345.9 394.7 345.1 395.3 344.2 395.9 343.3 396.5 342.4 397.1 341.6 397.8 340.7 398.4 339.8 399.1 338.9 399.7 338 400.4 337.1 401 336.2 401.7 335.2 402.4 334.3 403.1 333.4 403.8 332.5 404.5 331.5 405.2 330.6 405.9 329.6 406.7 328.7 407.4 327.7 408.2 326.8 408.9 325.8 409.7 324.8 410.4 323.9 411.2 322.9 412 321.9 412.8 320.9 413.6 319.9 414.5 318.9 415.3 317.9 416.1 316.9 417 315.9 417.8 314.9 418.7 313.8 419.6 312.8 420.5 311.8 421.4 310.7 422.3 309.7 423.2 308.6 424.1 307.5 425.1 306.5 426 305.4 427 304.3 428 303.2 429 302.1 430 301 431 299.9 432 298.8 433 297.6 434.1 296.5 435.2 295.4 436.2 294.2 437.3 293.1 438.4 291.9 439.6 290.7 440.7 289.5 441.8 288.4 443 287.2 444.2 286 445.4 284.8 446.6 283.5 447.8 282.3 449 281.1 450.3 279.8 451.6 278.6 452.8 277.3 454.2 276 455.5 274.8 456.8 273.5 458.2 272.2 459.5 270.9 460.9 269.6 462.3 268.2 463.8 266.9 465.2 265.5 466.7 264.2 468.2 262.8 469.7 261.4 471.2 260.1 472.8 258.7 474.3 257.3 475.9 255.8 477.6 254.4 479.2 253 480.9 251.5 482.5 250 484.3 248.6 486 247.1 487.7 245.6 489.5 244 491.3 242.5 493.2 241 495 239.4 496.9 237.9 498.8 236.3 500.8 234.7 502.8 233.1 504.8 231.5 506.8 229.8 508.8 228.2 510.9 226.5 513.1 224.8 515.2 223.1 517.4 221.4 519.6 219.7 521.9 217.9 524.2 216.2 526.5 214.4 528.9 212.6 531.3 210.8 533.7 209 536.2 207.1 538.7 205.3 541.3 203.4 543.9 201.5 546.5 199.6 549.2 197.6 551.9 195.7 554.7 193.7 557.5 191.7 560.4 189.7 563.3 187.6 566.3 185.6 569.3 183.5 572.4 181.4 575.5 179.3 578.7 177.1 581.9 174.9 585.2 172.7 588.5 170.5 591.9 168.2 595.4 166 598.9 163.7 602.5 161.3 606.1 159 609.9 156.6 613.7 154.2 617.5 151.7 621.4 149.3 625.4 146.8 629.5 144.2 633.7 141.7 637.9 139.1 642.2 136.5 646.6 133.8 651.1 131.1 655.7 128.4 660.3 125.6 665.1 122.8 669.9 120 674.9 117.1 679.9 114.2 685 111.2 690.3 108.2 695.6 105.2 701.1 102.1 706.7 99 712.4 95.8 718.2 92.6 724.2 89.4 730.3 86 736.5 82.7 742.8 79.3 749.3 75.8 755.9 72.3 762.7 68.7 769.6 65.1 776.7 61.4 784 57.7 791.4 53.9 799 50 806.8 46.1 814.7 42.1 822.9 38.1 831.2 33.9 839.8 29.7 848.6 25.5 857.5 21.1 866.8 16.7 876.2 12.2 885.9 7.6 895.8 2.9 906 -1.8 916.5 -6.7 927.2 -11.6 938.2 -16.7" fill="none" stroke="#000" stroke-width="2.8" stroke-dasharray="14 14" clip-path="url(#ca)"/><path d="M305.3 412.1C306.4 411.4 308.9 410 312 407.6C315.1 405.2 318.9 401.7 323.6 397.9C328.3 394.1 334.4 388.8 340 384.6C345.6 380.4 350.1 376.7 357 372.6C363.9 368.5 371.6 363.8 381.7 360.1C391.8 356.4 406.8 352.4 417.4 350.3C428 348.2 435.5 347.9 445.1 347.6C454.7 347.4 464.2 347 474.9 348.8C485.6 350.6 499.2 354.2 509.3 358.2C519.4 362.2 527.5 367.9 535.4 373C543.3 378.1 549.7 382.2 556.6 389C563.5 395.8 571.3 405.9 576.7 413.9C582.1 421.8 586 431.1 589.1 436.7C592.2 442.3 594.4 445.7 595.5 447.5" fill="none" stroke="#c4c4c4" stroke-width="3" stroke-dasharray="14 10"/><path d="M595.5 447.5C595.3 445.4 595.4 439.4 594.5 434.7C593.6 430 592.7 425.9 590.1 419.3C587.5 412.7 583.5 402.7 579 395.1C574.5 387.5 569.2 380.4 563.3 373.6C557.4 366.8 550.3 359.9 543.5 354.2C536.7 348.5 530.3 344.1 522.7 339.4C515.1 334.7 508.4 329.7 497.8 325.9C487.2 322.1 471.3 318.5 458.9 316.7C446.5 314.9 434.3 314.7 423.5 315.3C412.7 315.9 402.7 318.2 394 320.4C385.3 322.6 378.8 325.1 371.5 328.5C364.2 331.9 356.9 336 350.1 340.8C343.3 345.6 336.6 351.5 330.8 357.1C325 362.7 319.9 368.1 315.5 374.4C311.1 380.7 306.4 389.4 304.3 394.8C302.2 400.2 303 404.1 303.2 407C303.4 409.9 304.9 411.2 305.3 412.1" fill="none" stroke="#c4c4c4" stroke-width="3" stroke-dasharray="14 10"/><circle cx="356.8" cy="372.2" r="15.5" fill="#ff7f00"/><circle cx="439.4" cy="315.5" r="15.5" fill="#a65628"/><text x="144" y="60.5" font-size="38.5" fill="#000">(a)</text><text x="1039.5" y="246" font-size="39.5" text-anchor="middle" fill="#000">MAVEN</text><text x="1044.5" y="290" font-size="38.5" text-anchor="middle" fill="#ff7f00">2021 Nov 19 08:46:00 UT</text><text x="1044.5" y="334" font-size="38.5" text-anchor="middle" fill="#a65628">2021 Nov 19 10:36:00 UT</text><text font-size="39.5" transform="translate(614,140) rotate(-27.1)">Bow Shock</text><rect x="130" y="13.5" width="1300" height="464" fill="none" stroke="#000" stroke-width="2.4"/><path d="M130 0.5V13.5M130 477.5V490.5M176.4 6.5V13.5M176.4 477.5V484.5M222.9 6.5V13.5M222.9 477.5V484.5M269.3 6.5V13.5M269.3 477.5V484.5M315.7 0.5V13.5M315.7 477.5V490.5M362.1 6.5V13.5M362.1 477.5V484.5M408.6 6.5V13.5M408.6 477.5V484.5M455 6.5V13.5M455 477.5V484.5M501.4 0.5V13.5M501.4 477.5V490.5M547.9 6.5V13.5M547.9 477.5V484.5M594.3 6.5V13.5M594.3 477.5V484.5M640.7 6.5V13.5M640.7 477.5V484.5M687.1 0.5V13.5M687.1 477.5V490.5M733.6 6.5V13.5M733.6 477.5V484.5M780 6.5V13.5M780 477.5V484.5M826.4 6.5V13.5M826.4 477.5V484.5M872.9 0.5V13.5M872.9 477.5V490.5M919.3 6.5V13.5M919.3 477.5V484.5M965.7 6.5V13.5M965.7 477.5V484.5M1012.1 6.5V13.5M1012.1 477.5V484.5M1058.6 0.5V13.5M1058.6 477.5V490.5M1105 6.5V13.5M1105 477.5V484.5M1151.4 6.5V13.5M1151.4 477.5V484.5M1197.9 6.5V13.5M1197.9 477.5V484.5M1244.3 0.5V13.5M1244.3 477.5V490.5M1290.7 6.5V13.5M1290.7 477.5V484.5M1337.1 6.5V13.5M1337.1 477.5V484.5M1383.6 6.5V13.5M1383.6 477.5V484.5M1430 0.5V13.5M1430 477.5V490.5M117 477.5H130M1430 477.5H1443M123 468.2H130M1430 468.2H1437M123 458.9H130M1430 458.9H1437M123 449.7H130M1430 449.7H1437M123 440.4H130M1430 440.4H1437M123 431.1H130M1430 431.1H1437M123 421.8H130M1430 421.8H1437M123 412.5H130M1430 412.5H1437M123 403.3H130M1430 403.3H1437M123 394H130M1430 394H1437M117 384.7H130M1430 384.7H1443M123 375.4H130M1430 375.4H1437M123 366.1H130M1430 366.1H1437M123 356.9H130M1430 356.9H1437M123 347.6H130M1430 347.6H1437M123 338.3H130M1430 338.3H1437M123 329H130M1430 329H1437M123 319.7H130M1430 319.7H1437M123 310.5H130M1430 310.5H1437M123 301.2H130M1430 301.2H1437M117 291.9H130M1430 291.9H1443M123 282.6H130M1430 282.6H1437M123 273.3H130M1430 273.3H1437M123 264.1H130M1430 264.1H1437M123 254.8H130M1430 254.8H1437M123 245.5H130M1430 245.5H1437M123 236.2H130M1430 236.2H1437M123 226.9H130M1430 226.9H1437M123 217.7H130M1430 217.7H1437M123 208.4H130M1430 208.4H1437M117 199.1H130M1430 199.1H1443M123 189.8H130M1430 189.8H1437M123 180.5H130M1430 180.5H1437M123 171.3H130M1430 171.3H1437M123 162H130M1430 162H1437M123 152.7H130M1430 152.7H1437M123 143.4H130M1430 143.4H1437M123 134.1H130M1430 134.1H1437M123 124.9H130M1430 124.9H1437M123 115.6H130M1430 115.6H1437M117 106.3H130M1430 106.3H1443M123 97H130M1430 97H1437M123 87.7H130M1430 87.7H1437M123 78.5H130M1430 78.5H1437M123 69.2H130M1430 69.2H1437M123 59.9H130M1430 59.9H1437M123 50.6H130M1430 50.6H1437M123 41.3H130M1430 41.3H1437M123 32.1H130M1430 32.1H1437M123 22.8H130M1430 22.8H1437M117 13.5H130M1430 13.5H1443" stroke="#000" stroke-width="2.4" fill="none"/><text x="130" y="544.8" font-size="30" text-anchor="middle" fill="#000">4</text><text x="315.7" y="544.8" font-size="30" text-anchor="middle" fill="#000">2</text><text x="501.4" y="544.8" font-size="30" text-anchor="middle" fill="#000">0</text><text x="687.1" y="544.8" font-size="30" text-anchor="middle" fill="#000">-2</text><text x="872.9" y="544.8" font-size="30" text-anchor="middle" fill="#000">-4</text><text x="1058.6" y="544.8" font-size="30" text-anchor="middle" fill="#000">-6</text><text x="1244.3" y="544.8" font-size="30" text-anchor="middle" fill="#000">-8</text><text x="1430" y="544.8" font-size="30" text-anchor="middle" fill="#000">-10</text><text x="106" y="479.6" font-size="30" text-anchor="end" fill="#000">0</text><text x="106" y="399.1" font-size="30" text-anchor="end" fill="#000">1</text><text x="106" y="306.6" font-size="30" text-anchor="end" fill="#000">2</text><text x="106" y="214.1" font-size="30" text-anchor="end" fill="#000">3</text><text x="106" y="121.1" font-size="30" text-anchor="end" fill="#000">4</text><text x="106" y="38.6" font-size="30" text-anchor="end" fill="#000">5</text><text x="725.5" y="588.2" font-size="30.5" font-style="italic">X</text><text x="743" y="593.3" font-size="13.5">MSO</text><text x="782.6" y="588.2" font-size="30.5">(</text><text x="790.5" y="588.2" font-size="30.5" font-style="italic">R</text><text x="811.2" y="592.8" font-size="13.5">M</text><text x="822" y="588.2" font-size="30.5">)</text><g transform="rotate(-90)"><text x="-356.5" y="57.4" font-size="30">(</text><text x="-338.5" y="57.4" font-size="30" font-style="italic">Y</text><text x="-330.5" y="40" font-size="13">2</text><text x="-328" y="63" font-size="12">MSO</text><text x="-296" y="57.4" font-size="30">+</text><text x="-277" y="57.4" font-size="30" font-style="italic">Z</text><text x="-258" y="40" font-size="13">2</text><text x="-255.5" y="63" font-size="12">MSO</text><text x="-228" y="57.4" font-size="30">)</text><text x="-215.5" y="40" font-size="13">1/2</text><text x="-187" y="57.4" font-size="30">(</text><text x="-180.5" y="57.4" font-size="30" font-style="italic">R</text><text x="-158.5" y="63" font-size="12">M</text><text x="-149.5" y="57.4" font-size="30">)</text></g><path d="M130 813.5l1 1.1 1 0.2 1 1.2 1-1.7 1 0.2 1 0.3 1-0.6 1 0 1 0.9 1 0 1-0.1 1-0.8 1 0.1 1 1.2 1 0.1 1-1.2 1-0.6 1 0.9 1 0.5 1-1.1 1 0.8 1-0.8 1-0.4 1 0.7 1 0.5 1-0.3 1 1 1-0.4 1 0.4 1-0.2 1 0.1 1-0.1 1 0 1-0.3 1 0 1-0.1 1-0.6 1 1.6 1-1.7 1 0.9 1 0.3 1-0.6 1-0.4 1-0.6 1 1.1 1-0.8 1 0.1 1 1.2 1-0.4 1-1.6 0.5 0 0.5-0.5 0.5 0.6 0.5 0.1 0.5 0 0.5-0.8 0.5 2.6 0.5-1.3 0.5-0.1 0.5 2.5 0.5 1.1 0.5-1.7 0.5-0.7 0.5-2.5 0.5 3.6 0.5-0.6 0.5-2.7 0.5 2.9 0.5-0.8 0.5-1.4 0.5 0 0.5-0.2 0.5 0.4 0.5-1 0.5 0.2 0.5 0.7 0.5 1.5 0.5 0.1 0.5 1.3 0.5-3.1 0.5 2.6 0.5-3.3 0.5-1.1 0.5 3.7 0.5-0.5 0.5-0.3 0.5-1.4 0.5 2 0.5-0.5 0.5 0.4 0.5-0.1 0.5-2.1 0.5 2.6 0.5-1.1 0.5-0.2 0.5-0.8 0.5 2.6 0.5-3.2 0.5 1 0.5-0.4 0.5 0.8 0.5 2 0.5-1.3 0.5-1.7 0.5 0.8 0.5 0.3 0.5-2.4 0.5-0.6 0.5 2.8 0.5-2.3 0.5 4.8 0.5 0.3 0.5-3.3 0.5 1.7 0.5-0.8 0.5-0.2 0.5 0.6 0.5-1.1 0.5 0.7 0.5 1.7 0.5-2.7 0.5-0.1 0.5-1.5 0.5 3.6 0.5-1.2 0.5 0.3 0.5-0.3 0.5-1.4 0.5 1.8 0.5 0.8 0.5-0.7 0.5-0.8 0.5 1.9 0.5-0.7 0.5-2.3 0.5 1 0.5 1 0.5 0.1 0.5-0.5 0.5 1.9 0.5-3 0.5 0.5 0.5 0 0.5 1.7 0.5-0.7 0.5-1.2 0.5 0.2 0.5 1.3 0.5-1.3 0.5-0.5 0.5 2 0.5-0.1 0.5 0.4 0.5-0.1 0.5-2.3 0.5 0.1 0.5 0 0.5 1.7 0.5-0.2 0.5-1.2 0.5 0.6 0.5-0.8 0.5 0.9 0.5-1.4 0.5-1.4 0.5 0.6 0.5-0.3 0.5 2.1 0.5-0.7 0.5 1.5 0.5-1.4 0.5 1.6 0.5-0.2 0.5 0.7 0.5-2 0.5 0.5 0.5 0.2 0.5 1.1 0.5-1.7 0.5 2 0.5-3.5 0.5 1.9 0.5-0.3 0.5 0 0.5 2 0.5 0 0.5-1.4 0.5-1.9 0.5 3.2 0.5-0.3 0.5-0.2 0.5 2.3 0.5-0.5 0.5-1.5 0.5-0.7 0.5 0.2 0.5-2.4 0.5 1.8 0.5-0.9 0.5-1.1 0.5 0 0.5 4 0.5-1.6 0.5-1.8 0.5 2.8 0.5-0.3 0.5 0 0.5-0.2 0.5 0.1 0.5-1.2 0.5-1 0.5-0.1 0.5 1.4 0.5 8.6 0.3-6.4 0.4 0.3 0.3-3.2 0.4 1.4 0.3 4.6 0.3-8.4 0.4 8 0.3-4.5 0.4-4.3 0.3 0.2 0.3-4.9 0.4 13.1 0.3-10.3 0.4-2 0.3 2.1 0.3-4.6 0.4 5.1 0.3-7.1 0.4-0.4 0.3 4.2 0.3-1.9 0.4-2.3 0.3 0.3 0.4-8.5 0.3 1.7 0.3-5.4 0.4-0.8 0.3 1.8 0.4-0.6 0.3 1.1 0.3-2.3 0.4-1.4 0.3-6.2 0.4 3.6 0.3-3.5 0.3-2 0.4 2.6 0.3 3.1 0.4-12 0.3-1.4 0.3 8.5 0.4-3.5 0.3-0.5 0.4-2.1 0.3-6.4 0.3 2.6 0.4-1.8 0.3-3.5 0.4 6.6 0.3 0.4 0.3 0.1 0.4-3 0.3 3.8 0.4-2.6 0.3-1.2 0.3 1 0.4 1.2 0.3 3.2 0.4 2.8 0.3-9 0.3 2.5 0.4 3.5 0.3-1.2 0.4 0.1 0.3 4.9 0.3-6.8 0.4 3.1 0.3-1.6 0.4-2 0.3 2.6 0.3-2.1 0.4 0.9 0.3 1.6 0.4-0.1 0.3-5.9 0.3 6.4 0.4-6 0.3 9.5 0.4-5.4 0.3 2.6 0.3 3.4 0.4 6.2 0.3-14 0.4 10.1 0.3-0.6 0.3-4.3 0.4-1 0.3 0 0.4 3.2 0.3 4.2 0.3-8.4 0.4 4.7 0.3-0.9 0.4-0.7 0.3-3 0.3 4.7 0.4 1.4 0.3 0 0.4 5.5 0.3-4.9 0.3 1.2 0.4 2.2 0.3-5.1 0.4 0.8 0.3-6.5 0.3 0.1 0.4 12.6 0.3-6.8 0.4 3.7 0.3-5.3 0.3 1 0.4-1.9 0.3 1.7 0.4-2.3 0.3 2.6 0.3 4.8 0.4-3.9 0.3-1.6 0.4-2.1 0.3 1.8 0.3-7.2 0.4 5.1 0.3-4.1 0.4 3.7 0.3-5.6 0.3 7.5 0.4-5.6 0.3 5.3 0.4-4.9 0.3-3.1 0.3 9.9 0.4-1.5 0.3-3 0.4 0.9 0.3 3.6 0.3-7 0.4 3.7 0.3-4.2 0.4 3.1 0.3 4.7 0.3-1.8 0.4-5.8 0.3 6.7 0.4-2.6 0.3-2.6 0.3-0.5 0.4 0.3 0.3 17.5 0.4-20.2 0.3 7.6 0.3-0.5 0.4 0.2 0.3 0.4 0.4 2.7 0.3-0.9 0.3-3.6 0.4 7.6 0.3 4.4 0.4-6.7 0.3 0.9 0.3-0.6 0.4-3.1 0.3 6.9 0.4-1.9 0.3-0.6 0.3-2.2 0.4 1 0.3 5.8 0.4 1.2 0.3-2.2 0.3 2.8 0.4-9.4 0.3 4.1 0.4-0.2 0.3 0.6 0.3-5.5 0.4 2.7 0.3 2.4 0.4-1 0.3 1.4 0.3-2 0.4-1.8 0.3 3.6 0.4-1.4 0.3 1 0.3-2.3 0.4 2 0.3 1.8 0.4 2.1 0.3-1.9 0.3 3.6 0.4-4.6 0.3 2.2 0.4-1.2 0.3 2.8 0.3 1.3 0.4-0.4 0.3-6.8 0.4 3.2 0.3 0.1 0.3 4.5 0.4-4.8 0.3 9 0.4-13.3 0.3 5.6 0.3-0.9 0.4 3.6 0.3-1.8 0.4-4.5 0.3 2.1 0.3-4.9 0.4 2.1 0.3 2.7 0.4 6.1 0.3-1.6 0.3 0.8 0.4-0.3 0.3 2.8 0.4-0.3 0.3-3.3 0.3 0.5 0.4-3 0.3 2.5 0.4-5.4 0.3 9.2 0.3-0.6 0.4-4.7 0.3 1.8 0.4 2.1 0.3-4.8 0.3 0.6 0.4-0.4 0.3 4.8 0.4-0.9 0.3-0.7 0.3 0.6 0.4-2.4 0.3 3.5 0.4-2.9 0.3 7.7 0.3-8.8 0.4-1.8 0.3 4.9 0.4-3.4 0.3 7.7 0.3-2.6 0.4 2.4 0.3-4.5 0.4-0.3 0.3 5.9 0.3-0.8 0.4-0.4 0.3-8.3 0.4 7.6 0.3-1 0.3-0.5 0.4 0.1 0.3 0.9 0.4 3.7 0.3-0.9 0.3-5.7 0.4 4.5 0.3 2.3 0.4 3 0.3-2.6 0.3-0.4 0.4 1.1 0.3-2.9 0.4 1.8 0.3-2.9 0.3-3.7 0.4 1.3 0.3-2.3 0.4 3.7 0.3 0.9 0.3-2 0.4 2.4 0.3-2.7 0.4 1.6 0.3 0.5 0.3-2.4 0.4-0.6 0.3 4.5 0.4-3.2 0.3 0.8 0.3-3.1 0.4 5 0.3 5.7 0.4-2.8 0.3-3.6 0.3-3.6 0.4 3.2 0.3-4.3 0.4 8.9 0.3-5.4 0.3-1.1 0.4 0.7 0.3 4 0.4-5.4 0.3 7.9 0.3-9.7 0.4 1 0.3-1.7 0.4 3.3 0.3 1.7 0.3-1.8 0.4-0.4 0.3-2.9 0.4 3.1 0.3-2 0.3 0 0.4-2.7 0.3 9.2 0.4-4.2 0.3-3.1 0.3-0.5 0.4 3.7 0.3-1.1 0.4-0.1 0.3-1.2 0.3 1.4 0.4 0.3 0.3 1.4 0.4-2.4 0.3-4.4 0.3 6.6 0.4-5 0.3-1.9 0.4 4.8 0.3-6.2 0.3 6.5 0.4-5.4 0.3 4 0.4 2.4 0.3-5.2 0.3-4.5 0.4 6.6 0.3-3 0.4 4.4 0.3 0.3 0.3 1.5 0.4-2.5 0.3-1.7 0.4-1.8 0.3 7.2 0.3-2.5 0.4-2.1 0.3-7 0.4 8 0.3-0.2 0.3-2.6 0.4-5.2 0.3 8.6 0.4-0.3 0.3-0.9 0.3-2.4 0.4-3.3 0.3 9.5 0.4 1.9 0.3-5.5 0.3-1.5 0.4 7.8 0.3-4.1 0.4-5.4 0.3 4.3 0.3-3.3 0.4 1.2 0.3-1.3 0.4 1.2 0.3 0.1 0.3-2.4 0.4 5.3 0.3-2.1 0.4-2.5 0.3 4.9 0.3-0.8 0.4 0.7 0.3 0.9 0.4-8.6 0.3 4.6 0.3-4.3 0.4 2.5 0.3 1.7 0.4 1.7 0.3-1.4 0.3 1 0.4-2.8 0.3 4.9 0.4-2.3 0.3-0.9 0.3 2.5 0.4 7 0.3-15.5 0.4 6.3 0.3 2.3 0.3-0.3 0.4 0.9 0.3-4.1 0.4 1.8 0.3 3.5 0.3-4.6 0.4-2.3 0.3 1.4 0.4 3.9 0.3-4.7 0.3 0.7 0.4 1.2 0.3-2.6 0.4 5.2 0.3-3 0.3 1.9 0.4-3.2 0.3 0 0.4 1.6 0.3-0.4 0.3 3.9 0.4-1.4 0.3 3 0.4-9.4 0.3 2.3 0.3 7.6 0.4 2.9 0.3-2.1 0.4-2.4 0.3-4.6 0.3 5.8 0.4-3.4 0.3 0.9 0.4-3.7 0.3 2.6 0.3-4.7 0.4 6.1 0.3-6.3 0.4 3.5 0.3-0.2 0.3 6.4 0.4 0.8 0.3-8 0.4 6.1 0.3-2.9 0.3-0.5 0.4 1 0.3-3.2 0.4 4 0.3-1.5 0.3-4.9 0.4 5.9 0.3-3.5 0.4-0.1 0.3-2 0.3 2.7 0.4 7.7 0.3-3.2 0.4 0.8 0.3-5.7 0.3 3 0.4 1.9 0.3-3.2 0.4 1.4 0.3-2.3 0.3 1 0.4-2.4 0.3 2.1 0.4-1.2 0.3 3.7 0.3-1.3 0.4 1.3 0.3-2.4 0.4 0.2 0.3 1.1 0.3-0.4 0.4 0 0.3-2.7 0.4 7.8 0.3-9.9 0.3 9.9 0.4-6.2 0.3 0.8 0.4-3.5 0.3 0.9 0.3 2 0.4-0.7 0.3-1.8 0.4-3.7 0.3 5.6 0.3 7.1 0.4-3.6 0.3-3.2 0.4-7.2 0.3 11.2 0.3-1.6 0.4-2 0.3-7.4 0.4 12.1 0.3-6.1 0.3 5.8 0.4-2.4 0.3-4.3 0.4 7.6 0.3-0.2 0.3-9.1 0.4 5.7 0.3 2.3 0.4-1.8 0.3-3 0.3 6.5 0.4-2 0.3 3 0.4-1.6 0.3-6.5 0.3 4 0.4 0.1 0.3-3 0.4 3.3 0.3 1.3 0.3-5.8 0.4 0.6 0.3 5.5 0.4-3.3 0.3-2.1 0.3 2.9 0.4 0.5 0.3 4.4 0.4-3.9 0.3 3.6 0.3-9.2 0.4 4 0.3-5.1 0.4 4.7 0.3-4.5 0.3 7.8 0.4-2.9 0.3-2.7 0.4 0.6 0.3 2.1 0.3 5.4 0.4-7.6 0.3 1.9 0.4-1.4 0.3 0.8 0.3 4.6 0.4-2.7 0.3-6.2 0.4 9.1 0.3-3.1 0.3 3.6 0.4-7 0.3 3.8 0.4 3.8 0.3-1.5 0.3 1.9 0.4 2.2 0.3 0.8 0.4-5.5 0.3 1 0.3-3.6 0.4 2.4 0.3-3 0.4-4.1 0.3 8 0.3 0.4 0.4-5.9 0.3-3.1 0.4 9.1 0.3 4.1 0.3-4.9 0.4 0.5 0.3-3 0.4 5 0.3-2.3 0.3 0.3 0.4 3.2 0.3 0.7 0.4-6.1 0.3 0.1 0.3 3.8 0.4-6.9 0.3 2.2 0.4 0.7 0.3-1.1 0.3 1.3 0.4-1.8 0.3 0.1 0.4 1.5 0.3 6.1 0.3-5 0.4 2.3 0.3 0.7 0.4-4.3 0.3 6.6 0.3-7 0.4 4.5 0.3 2 0.4-1.4 0.3-8.5 0.3-0.5 0.4 7.5 0.3-3.9 0.4-1.8 0.3 7.8 0.3-0.5 0.4-3.5 0.3 1.1 0.4 2.9 0.3-4.8 0.3 2.4 0.4-0.9 0.3-6.4 0.4 4.8 0.3-5.1 0.3 6 0.4 0.6 0.3-1.1 0.4-2.7 0.3 1.5 0.3 0.6 0.4 3.9 0.3-2.4 0.4-3.3 0.3-4.1 0.3-2.7 0.4 9.3 0.3-7.3 0.4 0.1 0.3-1 0.3-0.8 0.4 0.3 0.5-0.1 0.5-2.9 0.5 0.1 0.5 1.2 0.5-0.3 0.5 0.2 0.5 0.6 0.5-2.5 0.5 1.3 0.5 1 0.5-0.7 0.5-2.9 0.5 1.5 0.5 0.6 0.5 0 0.5-0.9 0.5-0.4 0.5 2.6 0.5-1.3 0.5 0.2 0.5-1.6 0.5 0.1 0.5 2.4 0.5-3.9 0.5 0.8 0.5 2.4 0.5-3 0.5 1.4 0.5-0.4 0.5-0.7 0.5 1.4 0.5 0.6 0.5 1.5 0.5-1.5 0.5-0.8 0.5 0 0.5-0.7 0.5 0.4 0.5 2.8 0.5-3.6 0.5 1.8 0.5 0.7 0.5-0.9 0.5 1.3 0.5-1.9 0.5 1.2 0.5-3.1 0.5 2.4 0.5-0.1 0.5 0.1 0.5 1.5 0.5-1.5 0.5 0 0.5-0.6 0.5 2.8 0.5-2.7 0.5-1.8 0.5 2.1 0.5-0.7 0.5-1 0.5 1.4 0.5-1 0.5-2 0.5 1 0.5 1.4 0.5 0.7 0.5-4.4 0.5 2.1 0.5 2.3 0.5-1.9 0.5-0.9 0.5 0.9 0.5 2 0.5-4.5 0.5 1.2 0.5 0.9 0.5-1.2 0.5 0.6 0.5 0.1 0.5-1.5 0.5 3.5 0.5-3.6 0.5 0.8 0.5-0.7 0.5 0 0.5-0.9 0.5 0.1 0.5 0.1 0.5 1 0.5-1.7 0.5 1.4 0.5 0.5 0.5-1.9 0.5-0.2 0.5-1.1 0.5 3.9 0.5-3 0.5-0.2 0.5 0.6 0.5-1.6 0.5 2.8 0.5 3.6 0.5-4.3 0.5-0.6 0.5 1.1 0.5-0.9 0.5-0.8 0.5 0.4 0.5-0.3 0.5 1.5 0.5-2.9 0.5 2.6 0.5-0.8 0.5-1.1 0.5 0.8 0.5-1.5 0.5 0.3 0.5-1.3 0.5 1 0.5 0.3 0.5 1.7 0.5-1.4 0.5-0.6 0.5 0.7 0.5 1.3 0.5 0.1 0.5-0.9 0.5-0.6 0.5 1.7 0.5-4 0.5 2.1 0.5 0.2 0.5 0.2 0.5-0.4 0.5-2.4 0.5 3.4 0.5-0.5 0.5 0.7 0.5-1.1 0.5-0.5 2 0.4 2 0.6 2 1.3 2 1 2 1.2 2 1.2 2 0.6 2-0.2 2 0 2 0 2-0.1 2 0 2-0.7 2 0.4 2-0.4 2 0.1 2-0.4 2 0.7 2 0.7 2 0.1 2 1.1 2 0.4 2 0.6 2 1.2 2 0.2 2 1 2 1.3 2-0.1 2 0.5 2 1 2 0.6 2 0.5 2 1 2 0.2 2 0.5 2 0.9 2 0.3 2 0.4 2 1.3 2 0.6 2 0.4 2 0.3 2 0.6 2 0.9 2 0.7 2 0.5 2 0.2 2 1.1 2 0.6 2 0.4 2 0.9 2 0.8 2 0.2 2 0.8 2 1 2 0.8 2 0.6 2 1.1 2 0.6 2 0.9 2 0.8 2 1.3 2 0.4 2 0.6 2 0.4 2 0.3 2 0.1 2 0.2 2-0.5 2-1.3 2-1.3 2-2 2-1.3 2-1.3 2-1.2 2-0.2 2 0 2 0.6 2 0.8 2 1.2 2 1.7 2 1.5 2 2 2 0.9 2 1.1 2 0.2 2 0.3 2-0.9 2-1.5 2-2 2-2.1 2-3.9 2-11.4 2-15.2 2-14 2-6.1 2-1.8 2-6.7 2-26.9 2-37.3 2-34.2 2-17.4 2 3.3 2 6.1 2 0.5 2-10.8 2-7.5 2 18.3 2 39 2 41 2 22.9 2-5.2 2-20.2 2-23.4 2-16.8 2-0.2 2 15.1 2 12.6 2-5.7 2-20.5 2-17.7 2-0.9 2 10.1 2 18 2 22.6 2 24.7 2 24.7 2 22.2 2 16.1 2 8.1 2-0.3 2-3.5 2-5.6 2-5.7 2-6.2 2-4.2 2-1.9 2-0.7 2-0.7 2-0.6 2-0.3 2-0.2 2-0.1 2-0.5 2 0.1 2 1 2 0.9 2 1.8 2 2.3 2 1.9 2 1.7 2 1.7 2 1.2 2 1.3 2 1.6 2 1.2 2 1.4 2 1 2 1.2 2 0.6 2 0.8 2 0.4 2 0.5 2-0.3 2 0 2-0.1 2 0.3 2-0.1 2-0.1 2 0 2 0.1 2-0.2 2 0.4 2 0.1 2-0.3 2-0.1 2 0.5 2-0.7 2 0.2 2-0.1 2 0.2 2-0.1 2-0.4 2-0.1 2 0.2 2 0.2 2 0 2-0.2 2 0.4 2 0 2-0.1 2-0.1 2 0.3 2-0.2 2-0.1 2 0 2 0 2-0.2 2 0 2 0.5 2-0.3 2 0.5 2 0.5 2 0.7 2 0.6 2 1.1 2 0.3 2 0.5 2 0.8 2 1 2 0.9 2 0.3 2 0.4 2 0.1 2 0.9 2-0.1 2 0 2 0 2 0.1 2 0.4 2-0.8 2-0.2 2-0.3 2 0 2-0.3 2-0.7 2 0 2-0.2 2-0.2 2-0.6 2 0.3 2-0.4 2-0.4 2 0.3 0.5-0.8 0.5 0.5 0.5-1.4 0.5 1.7 0.5-0.4 0.5-0.4 0.5 2.4 0.5-4.2 0.5 2.5 0.5-2.3 0.5 0 0.5 0.6 0.5 0.9 0.5 0.8 0.5 1.8 0.5-3 0.5 0.9 0.5-2.3 0.5 2.2 0.5-1.4 0.5 1.4 0.5-0.8 0.5 1.1 0.5-0.2 0.5 1.6 0.5-1.1 0.5-0.6 0.5-1.7 0.5 0.6 0.5 1.5 0.5-3.4 0.5 1.7 0.5-1.4 0.5 2.4 0.5 2.6 0.5-2.8 0.5 0.2 0.5-1.5 0.5 1.6 0.5-0.6 0.5 0.4 0.5-1.8 0.5 1.7 0.5-3.1 0.5 0.5 0.5 0 0.5 1 0.5-0.5 0.5-1 0.5 1.9 0.5-2.2 0.5 1.5 0.5-1.1 0.5-1.1 0.5 1 0.5 3.1 0.5-2.6 0.5 1.5 0.5 0 0.5-0.5 0.5 1 0.5-1.6 0.5 1.3 0.5-2.4 0.5 0.8 0.5 3.5 0.5-2.2 0.5 0.1 0.5-1 0.5-0.2 0.5-0.7 0.5 0.7 0.5 1.1 0.5-1.8 0.5-0.5 0.5 1.1 0.5-1.2 0.5 0.5 0.5 1.2 0.5-0.2 0.5-0.3 0.5-0.9 0.5 0.3 0.5-0.9 0.5-0.2 0.5 2.3 0.5 0.2 0.5-1.3 0.5-0.5 0.5 0.4 0.5-0.9 0.5-0.2 0.5 1.9 0.5-1.7 0.5 1.2 0.5-1.3 0.5-0.5 0.5 1.2 0.5-0.6 0.5-3.2 0.5 3.6 0.5-0.3 0.5 0.4 0.5 0.6 0.5-2.4 0.5 2 0.5 0 0.5 0.3 0.5 5.7 0.5-7.8 0.5 1.4 0.5-0.6 0.5-1.6 0.5 1.5 0.5-1 0.5 0.2 0.5-1.6 0.5 2.9 0.5-1.4 0.5 1.9 0.5-2.6 0.5-0.1 0.5 1.3 0.5-2.6 0.5 1.2 0.5-0.7 0.5 2.2 0.5-2.1 0.5 2.4 0.5-0.9 0.5-0.1 0.5 0.8 0.5-2.7 0.5 0.3 0.5 2.5 0.5-1.8 0.5 0.5 0.5 0.2 0.5-0.8 0.5 1.1 0.5-1.1 0.5-0.5 0.5 1.1 0.5-0.2 0.5-1.5 0.5 0.9 0.5-2.7 0.5 0.3 0.5 3.5 0.5-1.3 0.5 2.8 0.5-1.7 0.5-0.1 0.5-0.3 0.5 1.4 0.5-2.5 0.5 0.1 0.5 1.1 0.5-1.3 0.5-1 0.5-0.7 0.5 3.6 0.5-3.5 0.5 3.8 0.5-1.1 0.5-0.2 0.5-2.4 0.5 1 0.5 0 0.5 3.9 0.5-3.7 0.5 0.9 0.5-1.9 0.5 2.2 0.5 1.2 0.5 0.2 0.5-2 0.5-2 0.5 1.3 0.5 0.3 0.5-1.9 0.5 3.3 0.5-2.1 0.5 0.7 0.5-2.2 0.5 2.5 0.5-1.8 0.5 0.9 0.5 1.9 0.5-2.1 0.5 0.6 0.5-1.8 0.5 1.6 0.5 2.3 0.5-6.7 0.5 2.3 0.5 0.9 0.5-0.8 0.5 0.8 0.5 2.2 0.5 1.2 0.5-0.8 0.5-0.7 0.5-0.8 0.5 2 0.5 1.2 0.5-5.2 0.5 2.7 0.5-0.6 0.5 0.3 0.5-3 0.5 1.3 0.5-0.4 0.5-0.6 0.5 0.6 0.5 0 0.5 1.3 0.5-2.6 0.3-0.2 0.4 0.5 0.3 5 0.3-1.6 0.4-0.1 0.3 0.5 0.4-1.4 0.3-5 0.3 2.4 0.4 3 0.3-1.3 0.4-2.8 0.3 7.7 0.3-5.1 0.4-4.1 0.3-0.1 0.4 2.7 0.3 1 0.3 6.3 0.4-2.7 0.3-1.7 0.4-0.7 0.3-0.6 0.3 8.3 0.4-5.4 0.3-1.4 0.4 2.2 0.3-2 0.3-3 0.4 0.5 0.3 0 0.4-0.4 0.3-1 0.3 4.5 0.4 3 0.3-0.2 0.4 0.6 0.3-0.8 0.3 2.4 0.4-2.3 0.3-1.9 0.4-4.7 0.3 1.5 0.3 1 0.4-3 0.3 3.1 0.4-0.2 0.3-7.6 0.3 7.8 0.4 1 0.3-1.3 0.4 2.7 0.3-1.5 0.3 6 0.4-4.9 0.3-7.2 0.4 5.3 0.3-0.7 0.3 1.2 0.4 1.5 0.3-4.6 0.4 2.6 0.3-3.4 0.3 6.4 0.4-3.5 0.3 2 0.4 0.1 0.3-3.6 0.3 4.5 0.4 1 0.3-9.7 0.4 7.3 0.3 0.7 0.3-1.4 0.4 3.7 0.3-4.5 0.4 4.3 0.3-2.7 0.3 0.2 0.4-5.3 0.3 2.9 0.4-0.5 0.3-2.6 0.3 7.4 0.4-3.4 0.3 3.7 0.4 0.2 0.3-6.3 0.3-0.6 0.4 4.6 0.3-0.9 0.4 0.5 0.3-0.4 0.3 0 0.4 4.8 0.3-5.6 0.4 3.5 0.3 1.5 0.3-3.1 0.4-0.3 0.3-1.8 0.4 0.5 0.3 0.5 0.3 2.9 0.4-3.6 0.3-0.2 0.4-0.8 0.3 2.3 0.3-7.7 0.4 3 0.3 0.2 0.4 2.6 0.3 1.3 0.3-3.9 0.4 7 0.3-1.8 0.4-1 0.3-2 0.3 1.9 0.4-5.2 0.3 9.8 0.4-9.5 0.3 3.9 0.3-1.7 0.4 3.7 0.3-4.6 0.4 4.9 0.3-1.3 0.3 3.6 0.4-6.1 0.3 1.3 0.4 5.5 0.3-5 0.3 0.2 0.4-4.2 0.3 5 0.4-3.1 0.3-3.2 0.3 6.2 0.4-7.9 0.3 5.5 0.4 1.5 0.3 4.2 0.3 0.8 0.4-8.4 0.3 5 0.4-0.3 0.3-5.5 0.3 0 0.4 1.1 0.3 5.2 0.4 0.6 0.3-8.9 0.3 2.9 0.4 0.8 0.3-5.1 0.4 6.7 0.3-2.3 0.3-4 0.4 5 0.3 3.4 0.4 0.7 0.3-6.4 0.3 9.1 0.4-6.1 0.3-3 0.4 5 0.3-2.3 0.3 1.1 0.4-4.8 0.3 2.4 0.4 2.3 0.3-2.9 0.3 0.1 0.4 1.2 0.3-0.3 0.4 2.5 0.3-1.3 0.3-3.8 0.4 7 0.3-6.3 0.4 0.8 0.3 1.2 0.3-5.6 0.4 1.7 0.3 2.8 0.4-3.2 0.3-2.4 0.3 7.7 0.4-5.9 0.3 1 0.4-3 0.3-5.7 0.3 8.6 0.4-1.4 0.3 1.5 0.4 3.4 0.3-9.1 0.3 9.4 0.4-12.3 0.3-0.1 0.4 12.5 0.3-3.6 0.3-6.9 0.4 0.4 0.3-3 0.4 5.6 0.3-5.5 0.3 8.6 0.4-4.2 0.3 3.5 0.4 1.2 0.3 4.9 0.3-4.7 0.4-4.6 0.3 7.4 0.4-0.2 0.3 0.6 0.3 3.8 0.4-2.7 0.3 0.7 0.4 3.2 0.3 4.4 0.3-10.4 0.4 4.1 0.3 0.5 0.4 0.6 0.3 0.9 0.3 3.4 0.4-4.3 0.3 0.2 0.4-2.4 0.3-2.3 0.3 6.8 0.4-5.9 0.3 4.9 0.4-1.2 0.3 4.7 0.3-4.2 0.4 4.5 0.3-4.4 0.4 5.8 0.3-3.6 0.3 1.3 0.4-1.4 0.3 1.2 0.4 1.6 0.3 1.9 0.3-3.5 0.4 0.7 0.3 5.2 0.4-5.8 0.3 4.1 0.3-2.7 0.4 1.4 0.3 0 0.4-1.8 0.3 7.1 0.3-8.5 0.4 9.5 0.3-8.5 0.4 2.4 0.3 7.1 0.3-4.5 0.4 2.7 0.3 3.5 0.4-6.5 0.3 0.5 0.3 2.6 0.4-4.2 0.3 5.1 0.4 1.8 0.3-4.8 0.3 6.6 0.4-4.5 0.3 7.8 0.4-5 0.3-0.5 0.3-1.2 0.4 1 0.3 2.8 0.4 8.7 0.3-18.2 0.3 11.8 0.4-7.2 0.3 5.3 0.4-2.1 0.3-0.8 0.3-0.1 0.4 6.2 0.3-9.3 0.4 4.7 0.3-0.1 0.3 5.3 0.4-8.7 0.3 3.4 0.4-1.6 0.3 5.2 0.3-7.1 0.4 1.5 0.3 4 0.4-7 0.3 8.3 0.5-2.4 0.5 0.1 0.5 0.2 0.5 1.3 0.5-0.4 0.5-1.4 0.5-0.5 0.5 1.4 0.5 0.2 0.5 0 0.5-1.6 0.5 1.7 0.5 0.6 0.5 1.9 0.5 0.3 0.5-0.7 0.5 0.9 0.5-1.8 0.5 0.2 0.5 0.8 0.5-0.7 0.5-0.6 0.5 1.9 0.5-2.4 0.5 3.4 0.5-5.3 0.5 3.4 0.5-1.6 0.5 0.5 0.5-1.1 0.5 1.1 0.5-1.1 0.5 2.3 0.5-2.3 0.5 1.1 0.5-0.7 0.5-0.5 0.5 2.9 0.5-1.7 0.5 0.3 0.5-1.1 0.5-0.5 0.5-0.7 0.5 0.5 0.5 0.2 0.5-0.4 0.5-1 0.5 0.5 0.5-1 0.5 2.7 0.5-0.8 0.5 2 0.5-0.9 0.5-1.1 0.5-0.9 0.5 2 0.5-1.1 0.5 0.2 0.5-0.6 0.5 0.3 0.5 0.6 0.5 1.6 0.5-0.9 0.5-1.9 0.5 0.6 0.5-2.1 0.5 2.3 0.5-0.9 0.5 2.6 0.5 0.1 0.5-1.5 0.5-1.7 0.5 1.3 0.5 0.6 0.5-0.9 0.5-0.6 0.5 0.5 0.5 0.1 0.5 1.3 0.5-0.2 0.5-0.5 0.5-0.1 0.5 1.4 0.5-3.4 0.5 1.2 0.5 1 0.5-1.2 0.5-2.1 0.5 2.3 0.5 0 0.5-0.6 0.5 2.5 0.5-0.6 0.5 0.4 0.5-1.2 0.5 2.8 0.5-2 0.5 1 0.5 0 0.5-0.1 0.5-1.9 0.5 2.1 0.5 0 0.5-1.5 0.5 0.8 0.5-1.3 0.5 1.1 0.5-0.3 0.5-0.1 0.5 1.5 0.5 0.1 0.5-3.9 0.5 3.2 0.5-1.7 0.5 1.9 0.5-0.5 0.5 0.5 0.5-1.6 0.5 1.4 0.5 1.4 0.5-0.2 0.5-1.9 0.5-1.1 0.5-0.9 0.5 0 0.5 4 0.5-0.9 0.5 1.4 0.5-1.4 0.5-0.4 0.5 2.8 0.5-3.2 0.5 0.1 0.5 0.6 0.5 0 0.5-2.3 0.5 1.9 0.5 1.2 0.5-0.9 0.5-0.9 0.5 0.5 0.5 2.9 0.5-0.5 0.5-1 0.5-0.6 0.5 0.2 0.5 1.4 0.5-2.1 0.5 0.4 0.5 2 0.5-0.7 0.5-1.4 0.5 1.3 0.5-1.5 0.5-0.3 0.5 0.5 0.5-1 0.5-1.5 0.5 3.2 0.5-1.3 0.5 0.9 0.5-2 0.5 0.3 0.5 1.3 0.5 0.7 0.5-1.6 0.5 1 0.5 1 0.5-0.1 0.5-0.8 0.5-2.3 0.5 1.2 0.5-0.2 0.5 0.2 0.5-0.8 0.5-0.2 0.5 2.8 0.5-2.1 0.5 0.2 0.5-0.2 0.5 0.4 0.5 3.3 0.5-2.7 0.5 1.5 0.5-2.5 0.5 1.4 0.5-0.4 0.5-0.2 0.5 2.2 0.5-2.3 0.5 1.2 0.5-2.1 0.5 1.6 0.5 0.9 0.5-2.7 0.5 1.5 0.5 1.1 0.5-0.9 0.5 0.1 0.5-0.7 0.5 1.1 0.5-2.1 0.5 1 0.5-1.8 0.5 1.1 0.5 1.6 0.5-1.9 0.5 1.2 0.5-0.3 0.5 2.4 0.5-1 0.5-2.7 0.5 0.2 0.5 2.9 0.5-2.1 0.5-0.1 0.5-1 0.5 2.7 0.5 0.6 0.5-2.2 0.5 0.9 0.5 0.2 0.5 0.6 0.5-1.9 0.5 2 0.5-1.7 0.5 0.5 0.5 1.3 0.5-1.6 0.5-0.4 0.5 0.8 0.5 1.5 0.5-2.3 0.5 1.7 0.5-1.3 0.5-1.2 0.5 3.1 0.5 0.5 0.5-2.8 0.5 2.1 0.5-0.5 0.5-0.6 0.5 0.7 0.5-0.5 0.5 0.9 0.5-0.6 0.5-0.7 0.5-1.2 0.5 1.4 0.5 1.1 0.5-2.8 0.5 0.5 0.5 0.6 0.5-1.3 0.5 2.7 0.5-2.4 0.5 0 0.5 0.4 0.5 1.1 0.5-1.2 0.5 0.1 0.5 1.7 0.5-0.7 0.5 1.2 0.5-2.1 0.5-1.1 0.5 0.2 0.5 2.2 0.5-0.1 0.5-1 0.5-0.4 0.5-1 0.5 1.5 0.5-1.5 0.5 1.7 0.5-1.7 0.5 2.5 0.5-0.6 0.5-0.5 0.5-1 0.5 0.5 0.5 1.8 0.5 0.4 0.5-1.2 0.5-0.1 0.5 0.4 0.5-0.6 0.5 1.3 0.5-2.4 0.5-0.5 0.5 2 0.5 0 0.5-2 0.5 0.2 0.5 1.8 0.5 0.1 0.5 1 0.5-2.4 0.5 0.8 0.5 0 0.5-2.1 0.5 2.5 0.5 0.3 0.5-0.4 0.5 0.5 0.5-1.8 0.5 1.6 0.5-0.3 0.5-2.2 0.5 2.8 0.5 1 0.5-1.2 0.5 1.2 0.5-0.4 0.5-1.1 0.5-0.6 0.5 2.2 0.5-1.9 0.5 1.7 0.5-3.2 0.5 2 0.5-1.7 0.5-1.5 0.5 0.9 0.5 1.2 0.5 2.6 0.5-4.1 0.5 2.6 0.5-0.9 0.5 1.6 0.5-0.7 0.5-1.8 0.5 3.3 0.5-0.5 0.5-1.8 0.5-1 0.5 3.7 0.5-3.9 0.5 1.6 0.5-1.1 0.5-1.9 0.5 2.2 0.5-0.8 0.5-0.5 0.5 1.9 0.5-0.4 0.5 0.1 0.5-0.7 0.5 0.5 0.5 0.5 0.5 0.7 0.5-1.2 0.5 2.2 0.5-1.3 0.5-1.1 0.5 3.1 0.5 0.1 0.5-2.8 0.5 1.4 0.5 0.1 0.5-1.5 0.5 0.4 0.5 0.9 0.5-0.3 0.5 1.2 0.5-1.1 0.5-0.7 0.5-0.4 0.5-0.2 0.5-1.1 0.5 2 0.5-1.1 0.5 0.9 0.5 1.3 0.5-1.4 0.5-0.3 0.5-0.2 0.5 0.1 0.5 0.5 0.5 1.2 0.5-0.6 0.5-0.9 0.5 0 0.5-0.6 0.5 0.7 0.5-0.4 0.5-0.9 0.5 1.6 0.5 1.1 0.5 0.9 0.5-1.3 0.5-1.1 0.5 1 0.5-2.3 0.5 2.2 0.5-0.5 0.5-1 0.5 1.4 0.5-2 0.5 1.9 0.5 0.6 0.5 0.6 0.5-2.7 0.5-0.3 0.5 2.9 0.5-0.1 0.5-1 0.5-0.4 0.5 0.6" fill="none" stroke="#000" stroke-width="1.4" stroke-linejoin="round"/><path d="M130 831.6l0.5 0.7 0.5-0.8 0.5 1.2 0.5-1.6 0.5 1.5 0.5-1.3 0.5 0 0.5 0.6 0.5-2.4 0.5 2.6 0.5-0.8 0.5-0.3 0.5 1.4 0.5-2.2 0.5 0.3 0.5-1.4 0.5 0.6 0.5-0.5 0.5-1.9 0.5 0.4 0.5 0.4 0.5 0.1 0.5 0.3 0.5 1.4 0.5 1.2 0.5-0.1 0.5 0.2 0.5 0.7 0.5-1 0.5 0.1 0.5-0.2 0.5-0.2 0.5 0.7 0.5 0.1 0.5-0.4 0.5 0.7 0.5 0 0.5-0.6 0.5 0.4 0.5-0.2 0.5-0.2 0.5-1 0.5 0.8 0.5 0.5 0.5 0.1 0.5-0.2 0.5-1.6 0.5 3.8 0.5-2.4 0.5 0.4 0.5-0.7 0.5 1.5 0.5-1.9 0.5 0.9 0.5 0.7 0.5-0.1 0.5 0.6 0.5-0.5 0.5 0.2 0.5-1 0.5 0.3 0.5 0.2 0.5-0.4 0.5-1.3 0.5 1.8 0.5 1.1 0.5-2 0.5 1.6 0.5 0.2 0.5-0.8 0.5-0.5 0.5-0.8 0.5 2.5 0.5-2 0.5-0.1 0.5 1.3 0.5 0 0.5 0 0.5 0.2 0.5 0.4 0.5 0.2 0.5-1.3 0.5-0.5 0.5-1 0.5 1.9 0.5 0.6 0.5-1.4 0.5 0.3 0.5-0.2 0.5 0.8 0.5 0.4 0.5-0.4 0.5-0.7 0.5 0.2 0.5 1 0.5-1.3 0.5 1.4 0.5-0.4 0.5-0.7 0.5 1 0.5 0.1 0.5-0.9 0.5 0.1 0.5 0.1 0.5 0.3 0.5 0.4 0.5-0.2 0.5-2.7 0.5 2.5 0.5-1.5 0.5 1.6 0.5-1.2 0.5 0.2 0.5 0.5 0.5 0.7 0.5 0.5 0.5-1.5 0.5 1.5 0.5-0.1 0.5-1.9 0.5 0.2 0.5 1 0.5 0.4 0.5 0.2 0.5-0.6 0.5 0.6 0.5 1.2 0.5-0.3 0.5-0.6 0.5 1.4 0.5-0.4 0.5-0.6 0.5-1.2 0.5 1 0.5-0.1 0.5-1.1 0.5 2 0.5-0.2 0.5-1.4 0.5-0.2 0.5 0.5 0.5 2.2 0.5-2.5 0.5 0.1 0.5 0.6 0.5-0.2 0.5-0.4 0.5 0.8 0.5 0.6 0.5 0.8 0.5-1.2 0.5 0.4 0.5-0.2 0.5 0.3 0.5-0.9 0.5-0.3 0.5 0.3 0.5 1 0.5-1.3 0.5 0.4 0.5 2.1 0.5-2.4 0.5 2.1 0.5-0.8 0.5-1.5 0.5 0.2 0.5 1 0.5 0.1 0.5-0.8 0.5 1.2 0.5-1.5 0.5 0.6 0.5-0.8 0.5 0.6 0.5 0.6 0.5-0.9 0.5 0.5 0.5 0.8 0.5-0.4 0.5-0.2 0.5-0.7 0.5-0.4 0.5 0.5 0.5 1 0.5-0.3 0.5-0.4 0.5-0.3 0.5 1.3 0.5-0.8 0.5 0.6 0.5 1.2 0.5-0.8 0.5-0.6 0.5 0 0.5-0.1 0.5 0 0.5-0.5 0.5 1 0.5 0.6 0.5-1.4 0.5 0.8 0.5-0.8 0.5 1.1 0.5-1.6 0.5 1.7 0.5-0.1 0.5-1.2 0.5-0.7 0.5 1.7 0.5-1.6 0.5 0.1 0.5 0.4 0.5 0.7 0.5 1.1 0.5-0.6 0.5-0.7 0.5-0.9 0.5 0.4 0.5 0.3 0.5-0.8 0.5 1.1 0.5-1.4 0.5 0.8 0.5-1.6 0.5 0.7 0.5 0.4 0.5 0 0.5 0.7 0.5-1.4 0.5 1 0.5-0.8 0.5-1 0.5 0.7 0.5 0.1 0.5-1.6 0.5 1.3 0.5-0.2 0.5 1.1 0.5 1 0.5-1.5 0.5 0.7 0.5 1.3 0.5-2.6 0.5-0.2 0.5 1.1 0.5-1.8 0.5 0.9 0.5 0.2 0.5 0.4 0.5-1.6 0.5 1.3 0.5-0.2 0.5 0 0.5 0.3 0.5 0.6 0.5-0.7 0.5 0.3 0.5-1 0.5 1.3 0.5-1.3 0.5 0.8 0.5 0.3 0.5-0.4 0.5 0.4 0.3-0.1 0.4-2.2 0.3 0.9 0.4 5.4 0.3-2.3 0.3-7.3 0.4 5.4 0.3 5.9 0.4-7.6 0.3-5.5 0.3 0.8 0.4 2.8 0.3-0.4 0.4-1.4 0.3 2.1 0.3 2 0.4-6.2 0.3 7.5 0.4-4.3 0.3 8.2 0.3-2.7 0.4 1.6 0.3-6.1 0.4 3.1 0.3-0.7 0.3 0.4 0.4-2.9 0.3-1.6 0.4 5.7 0.3-3.5 0.3 3 0.4 2.7 0.3-1.2 0.4-3.3 0.3 11.5 0.3-10.7 0.4-1.2 0.3 6.5 0.4-3.5 0.3-0.7 0.3 1.2 0.4 1.3 0.3-2 0.4 0.2 0.3 2.6 0.3-1.1 0.4 4.2 0.3-0.6 0.4-1 0.3 0.2 0.3 1.1 0.4-6.2 0.3 3.1 0.4-0.8 0.3 5.3 0.3-2.2 0.4 1.3 0.3-1.1 0.4-5.4 0.3-2.4 0.3 6.9 0.4-0.1 0.3 2.3 0.4 1 0.3-4 0.3 4.4 0.4 2.5 0.3-4.5 0.4 1.9 0.3-1.2 0.3-0.4 0.4-2.2 0.3 0.1 0.4-1.8 0.3 2.3 0.3 0.3 0.4-1.8 0.3 1.1 0.4-0.7 0.3 1.2 0.3-5.2 0.4 7 0.3-2.1 0.4 0.9 0.3-3.5 0.3 6.9 0.4 1.1 0.3-6.9 0.4 1.4 0.3 1.2 0.3 3.7 0.4-6.8 0.3 2.6 0.4 3.6 0.3-0.1 0.3 1 0.4-5.9 0.3 3.6 0.4 2.4 0.3-1.4 0.3-5.3 0.4 1.8 0.3 4.4 0.4 1.2 0.3-1.6 0.3-1.8 0.4 1.6 0.3 0.9 0.4-2 0.3 1.5 0.3 2 0.4 1.2 0.3-2.4 0.4-0.1 0.3-3.4 0.3 0.6 0.4 2.5 0.3-5.9 0.4 7.2 0.3-6 0.3 6 0.4-3.1 0.3-3.7 0.4 0.4 0.3 5.7 0.3-2.8 0.4 3.3 0.3-2 0.4-2.2 0.3 3.1 0.3-6.9 0.4 3.5 0.3-1.2 0.4 4.3 0.3-1.4 0.3-0.2 0.4-2.3 0.3 0.9 0.4 1.8 0.3 1.5 0.3 0.6 0.4-10.3 0.3 2.3 0.4-0.9 0.3 4.4 0.3-6 0.4 4.5 0.3 0.8 0.4 2.5 0.3 2.8 0.3-5 0.4 2.1 0.3 0 0.4 4.2 0.3 2.4 0.3-2.7 0.4-5.4 0.3-4.4 0.4 7.4 0.3-0.2 0.3 3.5 0.4-2 0.3-3.4 0.4 3 0.3-2 0.3-3.4 0.4 3 0.3 3.1 0.4-9 0.3 2.8 0.3 1.7 0.4-0.4 0.3 1.8 0.4-1.5 0.3 5.5 0.3-4 0.4 3.4 0.3-3.3 0.4-2.1 0.3 2.1 0.3-5.1 0.4 5.2 0.3 3 0.4-3 0.3 0.3 0.3-0.4 0.4 1.3 0.3 0.3 0.4-2 0.3 6.8 0.3-7.3 0.4 3.1 0.3-0.5 0.4 1.8 0.3-6.4 0.3 8.6 0.4-2.3 0.3-2.1 0.4-2 0.3 5.6 0.3-4.6 0.4-1.8 0.3 5.6 0.4 4.9 0.3-9.8 0.3 3.2 0.4-0.5 0.3-3.6 0.4 0.4 0.3 3.5 0.3-2.7 0.4 3.3 0.3-3.7 0.4 1.7 0.3-2 0.3 4.4 0.4-1.9 0.3-0.1 0.4-1.5 0.3 1 0.3 5.8 0.4-6.6 0.3 4.8 0.4-6.3 0.3 3.3 0.3 0.8 0.4 3.1 0.3-7.7 0.4 6.6 0.3-6.3 0.3-0.8 0.4-3.8 0.3 4.3 0.4 3.5 0.3 2.8 0.3 0.1 0.4 1.7 0.3-7.5 0.4 2.1 0.3 4.8 0.3-4.6 0.4 1.9 0.3-3.9 0.4 1.7 0.3 4 0.3-3.4 0.4-1.7 0.3 1.7 0.4 0.1 0.3 5.4 0.3-1.1 0.4-1.5 0.3-1.8 0.4 3.6 0.3-0.4 0.3-7.3 0.4 7.2 0.3-2.2 0.4 0.7 0.3-2.6 0.3-2.4 0.4 0 0.3 0.6 0.4-1.7 0.3 4.1 0.3-2.2 0.4 4.9 0.3-6 0.4 5.1 0.3-5.1 0.3 6.9 0.4-3.9 0.3 0.6 0.4-0.5 0.3 1.3 0.3-5.1 0.4 2.7 0.3 4.2 0.4-1 0.3-5.2 0.3 6 0.4-7.8 0.3 6.4 0.4 4.9 0.3-7.5 0.3 5 0.4 7.7 0.3-10.1 0.4 4.7 0.3-5 0.3-1.8 0.4-0.1 0.3 2.8 0.4 3.6 0.3-7.4 0.3 2.2 0.4 0.5 0.3 4.5 0.4-2.7 0.3-2.7 0.3 0.7 0.4-2.2 0.3 3.7 0.4 2.8 0.3-5.3 0.3 1.3 0.4-3.5 0.3 0.4 0.4 4.4 0.3 0.6 0.3-5.3 0.4 1.1 0.3 5.3 0.4-7.5 0.3 4.3 0.3 1.7 0.4 3.3 0.3-3.1 0.4-3.1 0.3 0.6 0.3-3.3 0.4 0.3 0.3 6 0.4-2 0.3 0.3 0.3 1.9 0.4-0.8 0.3 0.9 0.4 1.1 0.3-3.5 0.3-1.9 0.4-2 0.3 5.3 0.4-0.9 0.3 7.6 0.3-9 0.4-0.1 0.3 3.2 0.4-2.2 0.3 2.6 0.3 0.8 0.4 1.3 0.3-0.7 0.4 1.3 0.3-9.4 0.3 1.5 0.4 2.8 0.3 0 0.4-4.2 0.3 2.9 0.3 3.5 0.4-1.8 0.3-0.9 0.4-0.8 0.3 1.1 0.3 5.6 0.4-2 0.3 2.6 0.4-6.2 0.3 2.2 0.3 2.5 0.4-10.7 0.3 2.7 0.4 5.1 0.3-3.4 0.3 4 0.4-4.5 0.3-0.1 0.4 3.2 0.3-3.7 0.3-3.7 0.4 2.6 0.3 9.6 0.4-8.1 0.3-0.6 0.3 2 0.4-1.8 0.3 4.8 0.4 4.6 0.3-10.6 0.3 7.4 0.4-2.4 0.3 4.2 0.4-7 0.3 5.8 0.3-3.5 0.4 0.3 0.3-4.3 0.4-1.7 0.3 2.6 0.3-0.1 0.4 1.1 0.3 0.1 0.4 2.6 0.3-4.5 0.3 6.9 0.4-7.9 0.3 2.1 0.4 0.2 0.3-3.3 0.3 9.8 0.4-2.8 0.3-4.3 0.4 2.7 0.3-2.6 0.3 3.4 0.4 3 0.3-5 0.4 1.5 0.3-0.4 0.3 0.1 0.4-4.6 0.3 8.2 0.4-1.2 0.3-9.5 0.3 9.4 0.4-2.6 0.3-2.7 0.4 2.5 0.3-1.2 0.3 1.1 0.4 5.3 0.3-6.6 0.4-0.8 0.3 0.8 0.3 1.9 0.4-1.6 0.3-1.2 0.4 3.1 0.3 0.5 0.3 2.1 0.4-3.5 0.3 4.6 0.4-1.5 0.3-5.5 0.3 15.8 0.4-9.6 0.3-6 0.4 2.7 0.3-3.8 0.3 6.1 0.4-1.1 0.3-5.8 0.4 6.3 0.3-1.6 0.3 0.9 0.4-4.3 0.3 6.7 0.4-2.1 0.3-2.6 0.3-1.5 0.4 3.1 0.3-1.8 0.4 4.4 0.3-6.7 0.3 3.2 0.4-1 0.3-2.7 0.4 4.4 0.3 0.8 0.3-2.3 0.4-2 0.3 8.4 0.4 1 0.3-7.2 0.3 2.1 0.4-1.1 0.3-5.1 0.4 6.6 0.3-1.1 0.3-4.3 0.4 7.1 0.3-2.4 0.4 1 0.3-0.8 0.3 0 0.4 4.5 0.3-1.9 0.4-0.5 0.3 0.2 0.3-4.8 0.4 2.3 0.3 1.5 0.4 1.1 0.3-3.9 0.3 2.1 0.4-3.1 0.3 5.4 0.4-3.2 0.3 0.1 0.3-0.8 0.4-2.6 0.3 3.8 0.4-3.7 0.3 3.7 0.3 5.4 0.4-11.2 0.3 2.1 0.4 3.2 0.3-1.1 0.3-0.5 0.4-4.7 0.3 4.5 0.4-1.1 0.3 2 0.3 1.1 0.4-2.4 0.3 1.2 0.4 2.8 0.3-7.4 0.3 14.4 0.4-12.6 0.3 7.2 0.4-1.3 0.3-4.8 0.3-1.4 0.4-0.8 0.3 7.4 0.4-9.8 0.3 8.6 0.3-3.4 0.4-2.8 0.3 3.7 0.4-0.4 0.3-2.5 0.3 2.4 0.4 3 0.3-6.2 0.4 0.2 0.3 0.9 0.3 2.4 0.4-1.2 0.3 0.7 0.4-1 0.3 1.9 0.3 4 0.4-3.7 0.3-1.4 0.4-1.7 0.3-1 0.3 8.1 0.4 4.3 0.3-11 0.4 1.5 0.3 1.8 0.3 3.7 0.4-9.3 0.3 7.1 0.4-7 0.3 4.2 0.3-2.7 0.4 10.6 0.3-8.9 0.4 3.8 0.3 1 0.3-2.4 0.4-8.4 0.3 9.9 0.4 2.8 0.3-8.6 0.3 5.7 0.4-2 0.3-5.9 0.4 1.3 0.3 0.2 0.3-0.4 0.4 3.8 0.3 2.7 0.4-3 0.3 1.6 0.3-1.5 0.4 0.2 0.3-2 0.4-2 0.3 4.9 0.3-2.2 0.4-2 0.3-1.7 0.4 4.4 0.3 4.1 0.3-8 0.4 5.4 0.3-1.8 0.4 0.4 0.3-3.6 0.3 7.6 0.4-8.3 0.3 4.4 0.4-3.5 0.3 4 0.3-8.7 0.4 7.3 0.3 0.9 0.4 0.2 0.3 4.9 0.3-12.2 0.4 9.6 0.3-5.2 0.4-1.8 0.3-0.3 0.3 2.3 0.4 3 0.3-2.6 0.4 1.7 0.3 5 0.3-1.5 0.4-2.9 0.3-0.7 0.4 10 0.3-8.1 0.3 1.4 0.4-3.3 0.3 3.2 0.4 1.1 0.3-2.3 0.3 0.4 0.4 0.6 0.3 5 0.4-0.6 0.3-2.9 0.3 5.8 0.4 2.4 0.3-2.9 0.4 4.2 0.3-5.2 0.3 6.1 0.4-1.4 0.5-2.2 0.5 3.4 0.5-0.8 0.5-0.6 0.5-0.3 0.5 2.3 0.5-3.4 0.5 2.2 0.5-0.3 0.5-0.8 0.5-0.2 0.5 1 0.5-0.7 0.5 1.2 0.5 2.4 0.5 0.2 0.5-0.3 0.5 0.2 0.5-0.6 0.5 2.7 0.5-3.2 0.5-1 0.5-0.4 0.5 0.6 0.5 1.7 0.5-4.7 0.5 4 0.5 0.1 0.5-0.7 0.5 2.4 0.5-0.1 0.5-1.8 0.5-1.1 0.5 1.8 0.5-1.5 0.5 0 0.5 0.5 0.5 1.8 0.5-2.5 0.5 1.3 0.5 1.6 0.5 0.3 0.5-3.2 0.5 1.2 0.5 0.9 0.5-2.8 0.5 0.5 0.5 1.1 0.5 1.9 0.5-1.5 0.5-0.3 0.5 2.1 0.5-4.5 0.5 3.6 0.5 1.5 0.5 0.3 0.5-3.8 0.5 1.4 0.5-0.4 0.5 0.8 0.5-1.6 0.5 0.9 0.5 2.2 0.5-0.3 0.5 1.4 0.5-2.1 0.5 1.3 0.5-1.6 0.5 0.3 0.5-0.7 0.5 3.4 0.5-1.1 0.5 0.8 0.5 0.2 0.5-0.4 0.5-2.4 0.5 1 0.5-0.2 0.5 1.7 0.5 0.4 0.5 0.9 0.5 1.1 0.5 0.4 0.5 1 0.5 0.7 0.5-2.1 0.5-1.4 0.5 4 0.5 0.3 0.5-2.8 0.5 2.1 0.5 2.5 0.5-1.2 0.5 2.9 0.5-3.6 0.5 1.3 0.5 1.2 0.5-1.7 0.5 1.3 0.5-3 0.5 3.5 0.5-1.3 0.5 2 0.5-1.5 0.5 0.1 0.5-0.8 0.5 0 0.5 3.2 0.5-4.4 0.5 0.3 0.5 2.6 0.5-0.7 0.5-0.3 0.5 4.2 0.5-2 0.5-0.3 0.5 0 0.5 0.4 0.5 2 0.5-3.2 0.5 0.1 0.5 0.5 0.5 0.9 0.5 0.6 0.5-1.6 0.5-0.4 0.5-0.3 0.5 0.8 0.5-0.8 0.5 0.6 0.5 1.8 0.5 1.5 0.5-2.2 0.5 2.6 0.5 0.3 0.5-3.5 0.5 0.5 0.5 2.4 0.5-1.1 0.5-1.2 2 0 2-0.2 2 0.2 2 1.2 2-1.1 2 0.2 2 0 2 0.1 2 0.6 2 0.7 2 0.5 2 0.8 2 0.5 2 0.4 2 0.1 2-0.2 2-0.1 2-0.9 2-0.3 2-0.8 2-0.4 2-1 2-1.5 2-0.2 2-1 2-0.9 2-0.7 2-0.5 2-0.7 2-0.8 2-0.5 2-0.6 2-0.7 2-1.2 2-0.6 2-0.8 2-0.8 2-0.6 2-0.5 2-1.3 2-0.2 2-0.9 2-0.7 2-0.9 2-0.5 2-0.5 2-0.6 2-0.8 2-1 2-0.8 2-0.3 2-0.6 2-0.9 2-0.5 2-0.4 2-0.7 2-0.9 2-0.9 2-0.7 2-0.7 2-0.5 2-0.9 2 0 2-0.9 2-0.5 2-0.1 2-0.1 2-0.5 2 0.6 2 0.7 2 0.8 2 1.4 2 1.6 2 1 2 0.9 2 0.4 2 0.1 2 0.4 2-0.8 2-1.3 2-0.6 2-1.1 2-0.7 2-1.7 2-1.3 2-1.7 2-1.6 2-1.7 2-1.6 2-1.8 2-3.6 2-8.4 2-5.6 2 1.1 2 3.2 2 5.3 2 8.8 2 29.1 2 39.8 2 37.1 2 43.3 2 32.8 2-3.2 2-29.7 2-26.9 2 0.2 2 6.9 2-17.1 2-36.6 2-47 2-47.2 2-37.9 2-18.7 2 3.4 2 14 2 20.2 2 24.3 2 45.8 2 57.2 2 44.6 2 10.8 2-48.1 2-82 2-76.8 2-31.9 2 7.4 2 16.8 2 20.5 2 18.6 2 10.1 2 0.3 2-4.6 2-6.3 2-6.8 2-6.9 2-4.2 2-1.6 2 5.1 2 6.2 2 0.7 2-1.2 2-1.1 2-1.4 2-1.2 2-0.4 2 1 2 1.6 2 2.7 2 2.7 2 2.8 2 2.1 2 1.2 2-0.6 2-3.6 2-1.9 2 0.3 2 0.2 2 0.3 2 0.7 2 0.6 2 0.6 2 0.7 2 0.4 2 0.8 2 0.4 2 0.5 2 0 2-0.1 2 0 2 0.4 2-0.2 2 0.1 2-0.3 2-0.1 2 0.1 2 0 2-0.1 2-0.2 2-0.3 2-0.3 2-0.1 2 0.4 2-0.4 2 0 2-0.1 2 0.2 2-0.4 2-0.1 2 0 2-0.2 2 0.1 2 0.2 2-0.4 2-0.3 2 0.1 2-0.3 2-0.4 2 0.4 2 0 2 0.3 2 0 2 0.3 2 0.3 2 0.8 2 0.6 2 0.7 2 0.3 2 0.9 2 1 2 0.1 2 1.5 2 0.7 2 0.3 2 0.8 2 0.5 2 0.4 2 0 2 0.1 2 0.1 2 0.2 2-0.3 2 0.4 2-0.2 2-0.1 2 0.6 2-0.1 2-0.1 2-0.1 2 0.2 2 0.2 2-0.2 2 0.2 2-0.2 2 2 0.3 1 0.4-0.2 0.3-1 0.3-1.3 0.4-1.3 0.3 4.5 0.4-2.4 0.3 3.7 0.3-7.5 0.4 5.9 0.3-0.1 0.4 2 0.3-3 0.3-1.2 0.4 3.5 0.3-0.9 0.4 0.2 0.3-0.5 0.3 2.4 0.4-1.7 0.3 1 0.4-3.4 0.3 5.4 0.3-2 0.4-0.7 0.3-1.5 0.4 0.8 0.3 1.6 0.3-0.7 0.4-1.3 0.3 4.7 0.4-4.6 0.3 3.2 0.3-3.3 0.4-1.6 0.3 4.5 0.4-0.1 0.3-1.3 0.3 0.7 0.4-3.2 0.3 0.1 0.4 4.2 0.3-0.2 0.3-2 0.4 0.8 0.3-2.2 0.4-0.6 0.3 3.1 0.3 2.1 0.4-0.6 0.3-2.2 0.4 0.5 0.3 0.3 0.3 0.6 0.4-2.7 0.3 1.4 0.4-1.3 0.3-1.3 0.3 4.9 0.4-3.2 0.3 0.8 0.4 0.6 0.3-0.9 0.3 2.5 0.4 0 0.3-6.8 0.4 1.8 0.3 1.2 0.3 3.4 0.4-1.3 0.3 0.6 0.4-1 0.3-0.5 0.3-0.6 0.4 3.7 0.3-4.1 0.4 1.4 0.3-1.1 0.3 1.9 0.4-1.9 0.3 3.6 0.4-3.8 0.3 2.2 0.3-0.6 0.4-2.7 0.3 1.1 0.4 4.3 0.3-7.5 0.3 3 0.4-0.9 0.3-0.2 0.4 0.2 0.3-0.8 0.3-0.7 0.4 0.8 0.3 1.7 0.4-1.3 0.3-3.9 0.3 1.9 0.4 0.7 0.3-3.8 0.4 2.6 0.3-4.6 0.3 1.4 0.4 1.5 0.3 0.5 0.4-0.8 0.3-0.1 0.3-3.7 0.4-1.7 0.3 2.7 0.4 2.2 0.3-0.7 0.3 4.5 0.4-1 0.3-1.6 0.4-3.8 0.3 2.4 0.3-1.8 0.4 2.6 0.3-0.4 0.4-2.4 0.3 1.9 0.3 0.7 0.4-3.2 0.3-0.2 0.4-0.2 0.3-0.2 0.3 3.2 0.4 0.5 0.3-1.6 0.4-0.2 0.3-2.7 0.3 1.9 0.4 1.2 0.3-2.3 0.4 0.3 0.3 2.2 0.3-4.1 0.4 5.8 0.3-3.5 0.4-1.1 0.3 2.2 0.3-0.9 0.4 4.1 0.3-3.7 0.4-0.6 0.3 2.6 0.3-1.8 0.4 0.4 0.3-0.9 0.4-1 0.3 0.7 0.3-1.4 0.4 1.4 0.3-4.1 0.4 1.9 0.3 3.1 0.3-1.2 0.4-2.1 0.3-1.6 0.4 4.1 0.3-0.7 0.3 1.9 0.4-3.7 0.3 3 0.4 1.3 0.3-3 0.3 7.4 0.4-5.4 0.3 3 0.4-3.4 0.3 1 0.3 0.6 0.4-1.8 0.3-0.2 0.4-5.3 0.3 4.5 0.3-4.1 0.4 1.8 0.3 3 0.4 2.8 0.3-4.2 0.3 0.7 0.4 3.4 0.3-7.1 0.4 3.8 0.3 0.3 0.3-2.7 0.4 0.5 0.3 0.7 0.4 1.2 0.3-0.4 0.3 4.3 0.4-2.8 0.3 0.2 0.4-5.4 0.3 4.1 0.3 0.9 0.4-0.5 0.3 1.4 0.4-2.4 0.3 1.7 0.3-1.3 0.4 0 0.3 1.2 0.4 0.2 0.3 1 0.3 2 0.4-1.8 0.3-0.5 0.4 0.2 0.3-1.2 0.3-0.6 0.4 0.1 0.3 4 0.4-7.1 0.3 0 0.3 3.7 0.4-1.2 0.3-0.3 0.4 2.1 0.3-2.3 0.3 1.6 0.4-3.7 0.3 4.5 0.4-2.5 0.3 2.6 0.3 1.3 0.4-3.9 0.3 1.1 0.4-2.5 0.3 1.3 0.3 4.6 0.4-5.3 0.3 4.6 0.4-1.4 0.3 1.4 0.3-1.9 0.4-0.4 0.3 0.5 0.4-4.6 0.3 5.1 0.3-0.2 0.4 0.9 0.3-5.5 0.4 5.4 0.3-1.7 0.3 1.2 0.4-0.4 0.3-0.5 0.4 2.6 0.3-1.2 0.3-1.8 0.4 3.7 0.3-4.1 0.4 2.6 0.3-2.3 0.3 1.7 0.4 0.7 0.3 0.3 0.4-4.9 0.3 2.1 0.3 2.8 0.4-7.4 0.3 6.7 0.4 1.3 0.3-4.7 0.3 2.5 0.4-2.8 0.3 3.5 0.4-1.3 0.3 0.2 0.3-0.7 0.4-0.7 0.3 3.2 0.4-0.5 0.3-0.9 0.3 0.1 0.4-1 0.3-0.7 0.4 2.3 0.3 0.1 0.3-3.1 0.4-3.6 0.3 3.9 0.4 0.3 0.3 2 0.3 0.6 0.4-2.4 0.3-2.2 0.4 2.7 0.3-1.3 0.3 1.8 0.4 1 0.3-0.9 0.4 1.4 0.3-2.2 0.3 1.2 0.4-4 0.3 0.7 0.4 2.7 0.3-1.3 0.3 1 0.4-3.1 0.3-1.3 0.4 3.6 0.3 1.9 0.3 0.7 0.4-1.3 0.3-1.3 0.4 1 0.3 0.5 0.3-0.4 0.4-0.3 0.3 0 0.4 2.8 0.3-1.4 0.3 1.6 0.4-2.9 0.3 1 0.4-3.5 0.3 4.3 0.3 2.8 0.4-0.1 0.3-9.1 0.4 10.1 0.3-7.6 0.3 1.1 0.4 1 0.3-2.5 0.4 5.3 0.3-3.8 0.3 3.1 0.4-2.6 0.3 3 0.4 0.6 0.3-4.5 0.3-0.8 0.4 1.2 0.3 4 0.4-8.6 0.3 9.2 0.3-5 0.4 2.4 0.3-4.8 0.4 0.6 0.3-2.5 0.3 12.6 0.4-5.8 0.3 6.6 0.4-8.1 0.3-6.6 0.3 13.2 0.4-5 0.3 13.4 0.4-8.9 0.3-5 0.3 6.5 0.4 0.5 0.3-0.1 0.4-2.9 0.3 4.6 0.3 0.2 0.4-1.6 0.3-0.8 0.4 9.8 0.3-7.5 0.3-4.8 0.4 2.3 0.3-1.5 0.4-6.2 0.3 6.6 0.3 1.2 0.4 2.6 0.3 3 0.4 2.3 0.3-4.5 0.3 3.4 0.4-5.5 0.3 4.7 0.4-6.5 0.3 2.9 0.3 3.1 0.4-1.5 0.3 7.1 0.4-15.7 0.3 5.3 0.3 5.7 0.4-7.4 0.3 5.8 0.4-0.2 0.3-3.4 0.3 2.6 0.4-7.2 0.3 4.2 0.4 1.6 0.3-6.6 0.3 3.7 0.4-1.1 0.3-6 0.4-4.8 0.3 16.4 0.3-1.7 0.4-2.8 0.3-5.2 0.4 5 0.3-4.8 0.3 8.1 0.4-5.9 0.3 4.4 0.4 3.2 0.3-3.7 0.3-5.2 0.4 1.4 0.3-4.2 0.4 3.5 0.3 6 0.3-6.4 0.4-0.4 0.3-4.9 0.4 2.8 0.3 4 0.3 2.8 0.4-5.2 0.3 11.7 0.4-3 0.3 0.5 0.3-5.5 0.4-5.4 0.3 8.2 0.4-12.9 0.3 11.6 0.3-11.4 0.4 10.4 0.3-4.4 0.4 6 0.3-3 0.3 1.7 0.4-6.8 0.3 10.2 0.4-6.8 0.3-4.3 0.3 9.4 0.4 1.7 0.3-4 0.4 13.3 0.3-11.5 0.3-2.8 0.4 1.2 0.3 6.5 0.4-6.3 0.3-2.7 0.3-0.3 0.4 6.5 0.3 0.9 0.4 0.2 0.3 3.8 0.3-2.8 0.4 2.7 0.3-3.8 0.4-0.7 0.3-9.3 0.3 8.7 0.4 0.9 0.3 5.1 0.4-10.4 0.3 1.5 0.3 7.3 0.4 1.9 0.3-1.5 0.4 0.4 0.3 6.9 0.3-5.3 0.4 1.6 0.3-5 0.4 1.9 0.3 2.2 0.3-7 0.4 0.8 0.3 1.6 0.4 3 0.3 1.9 0.3-6.3 0.4 0.8 0.3 3.8 0.4-2.1 0.3 8.7 0.3-11.7 0.4 3.1 0.3-4.1 0.4 10.5 0.3-5.2 0.3 3.5 0.4-8.4 0.3-5 0.4 9.6 0.3-0.5 0.3-3.4 0.4 10 0.3-3.2 0.4 1.4 0.3 2.3 0.3 1 0.4 0.6 0.3-1.2 0.4-6.2 0.3 0.8 0.3-2.3 0.4 0.9 0.3-0.7 0.4 2.7 0.3 1.3 0.3-2.1 0.4 3.1 0.3-1.5 0.4 1.6 0.3-14.1 0.3 18.9 0.4-8.6 0.3 2.5 0.4 2.2 0.3 2 0.3 2 0.4 3.3 0.3-4.4 0.4-1.1 0.3 4.1 0.3-6.9 0.4 8 0.3-10.2 0.4-3.3 0.3 10.2 0.3-0.6 0.4-8.5 0.3 18.3 0.4-6.5 0.3 3 0.3-1.9 0.4-7.1 0.3-0.9 0.4 5.5 0.3-8.4 0.3 10.8 0.4-3.4 0.3-7.7 0.4-2.6 0.3 4 0.3 1 0.4 3.7 0.3-4.3 0.4 5.2 0.3-6.4 0.3 4.5 0.4 3.4 0.3 5.4 0.4-4.2 0.3-5.1 0.3 8 0.4-6.8 0.3-1.5 0.4 3.9 0.3 1 0.3-0.8 0.4 7.5 0.3-4.9 0.4-12 0.3 15.3 0.3-5.1 0.4 5.3 0.3-17.2 0.4 14.2 0.3-2.9 0.3-2.5 0.4 2.7 0.3-11.6 0.4 10 0.3 4.2 0.3 6.3 0.4-8.8 0.3 4.7 0.4-7.6 0.3 5.2 0.3 2.1 0.4-9 0.3 2.7 0.4 0.5 0.3 1.8 0.3-0.6 0.4 1.3 0.3-4.9 0.4 10.6 0.3-5.1 0.3 3.5 0.4-7.3 0.3 1.8 0.4-3.7 0.3 8.8 0.3 3.7 0.4-12.2 0.3 4.6 0.4 5.3 0.3-7.3 0.3-1.9 0.4 6.5 0.3-2.5 0.4 4.4 0.3-2.6 0.3-4.5 0.4 1.9 0.3-0.1 0.4 0.3 0.3-5.5 0.3 1.7 0.4-7.7 0.3 12.7 0.4 0.4 0.3-3.1 0.3 5.6 0.4-0.5 0.3-0.1 0.4-1.8 0.3-1.7 0.3-0.5 0.5-1.1 0.5-0.5 0.5 0.5 0.5 0.3 0.5 1 0.5-0.1 0.5 0.7 0.5-2.3 0.5 0.2 0.5-0.3 0.5 2.2 0.5-3.1 0.5 1.4 0.5 0.1 0.5-1.1 0.5 0.9 0.5 0.8 0.5-0.9 0.5 0.8 0.5-0.1 0.5-1.3 0.5 2.2 0.5 0.2 0.5-2.4 0.5 0.8 0.5 0.4 0.5-0.2 0.5 1 0.5-1.6 0.5 1.7 0.5 0 0.5-1.9 0.5 0.7 0.5-0.3 0.5 0.5 0.5-1.6 0.5 0 0.5 2 0.5-1.1 0.5-0.1 0.5 0.4 0.5 1.6 0.5-2.5 0.5 0.7 0.5 2.1 0.5-0.5 0.5-2.1 0.5 1.3 0.5 2.2 0.5-0.9 0.5-0.5 0.5 0.2 0.5 0.1 0.5 0.4 0.5-0.5 0.5-1.2 0.5 1.8 0.5-2.4 0.5 0.5 0.5 0.3 0.5-1.7 0.5 0.3 0.5 0.5 0.5-0.2 0.5 0.7 0.5-0.2 0.5-0.4 0.5 0.2 0.5 1.5 0.5-0.1 0.5-0.8 0.5 0.9 0.5 0 0.5-2.3 0.5 2.4 0.5-0.7 0.5 0.9 0.5-1 0.5-0.7 0.5 1.4 0.5 0 0.5-0.6 0.5 0.4 0.5 0.3 0.5-0.8 0.5 0.3 0.5 0.8 0.5-1.4 0.5 2.1 0.5-0.4 0.5-1.4 0.5-0.3 0.5 1.4 0.5 1.1 0.5-0.6 0.5-1.3 0.5-0.1 0.5 0.1 0.5-0.4 0.5 1.9 0.5-0.5 0.5 0.1 0.5-0.2 0.5-1.9 0.5 0.7 0.5 1.4 0.5-0.6 0.5 2 0.5-3.1 0.5 1.2 0.5-0.6 0.5-0.2 0.5 2 0.5-1.9 0.5 1 0.5-0.3 0.5 0.7 0.5-0.9 0.5-0.7 0.5-0.1 0.5 0.1 0.5 0.2 0.5-0.9 0.5 1.7 0.5-0.5 0.5-1.6 0.5 3.3 0.5 0 0.5-0.7 0.5-1 0.5-0.2 0.5-0.7 0.5-1.5 0.5 0.3 0.5 2 0.5-1 0.5 0.7 0.5 0.7 0.5-0.8 0.5-0.2 0.5 2.2 0.5-2.3 0.5 1.9 0.5-0.4 0.5-0.6 0.5 0.5 0.5-0.5 0.5-0.1 0.5 0.1 0.5 0.7 0.5 0.2 0.5 0.3 0.5-0.8 0.5-0.3 0.5 1.4 0.5-1.7 0.5-1.2 0.5 0.6 0.5-0.6 0.5 0.2 0.5 0.3 0.5-0.1 0.5-0.4 0.5-0.2 0.5 0.9 0.5-0.7 0.5-2.5 0.5 2.4 0.5-0.3 0.5-0.5 0.5-1.7 0.5 0.2 0.5-3.5 0.5 4.7 0.5-1.8 0.5 1.7 0.5 0.9 0.5-1.4 0.5 0.6 0.5 0.2 0.5 2.8 0.5-1.1 0.5-0.2 0.5 1.1 0.5 1.8 0.5-2.2 0.5 0.5 0.5 0.9 0.5 1.2 0.5 0 0.5-1.5 0.5 1 0.5-0.3 0.5 0 0.5-0.1 0.5-1.4 0.5 1.1 0.5-0.9 0.5-0.5 0.5 1.4 0.5 1.4 0.5-0.3 0.5-0.7 0.5-0.3 0.5 1.9 0.5-0.8 0.5-0.3 0.5 0.7 0.5-1.4 0.5 0.5 0.5-4.2 0.5 4.8 0.5-1.6 0.5 0.9 0.5-0.6 0.5 1 0.5 0.2 0.5-1.3 0.5-0.2 0.5 1.6 0.5-0.9 0.5 1.2 0.5-0.6 0.5-4.1 0.5 3 0.5 0.4 0.5-0.4 0.5 0.7 0.5-0.4 0.5-0.7 0.5 1.5 0.5-0.4 0.5-1.6 0.5 1.8 0.5-0.2 0.5-1.1 0.5-0.5 0.5 1.4 0.5-1.2 0.5 2.1 0.5 0.1 0.5-1 0.5-1.5 0.5 2.3 0.5-1 0.5 0 0.5 1.7 0.5-0.9 0.5-1.4 0.5 0.2 0.5 0.9 0.5 2.1 0.5-2.3 0.5-0.6 0.5 2.1 0.5-1.8 0.5 0.9 0.5 0.7 0.5-2.1 0.5-0.7 0.5 2.2 0.5-1.3 0.5 1.2 0.5-0.3 0.5 0.3 0.5 0 0.5 0.2 0.5-0.9 0.5 0.7 0.5-1.6 0.5 1.3 0.5 0.4 0.5-1 0.5-1.1 0.5 0.4 0.5-0.6 0.5 3 0.5-1.1 0.5 0.2 0.5-0.9 0.5 0 0.5 1.9 0.5-1 0.5-0.5 0.5-0.4 0.5 2.7 0.5-3.4 0.5 1.6 0.5-1.4 0.5 2 0.5-1.4 0.5-0.9 0.5 0.2 0.5 1.1 0.5 1.8 0.5-2.2 0.5 1 0.5-0.1 0.5-1.1 0.5 2.7 0.5-4.2 0.5 3.8 0.5-3 0.5-0.6 0.5 1.5 0.5-1.7 0.5 2.7 0.5-1.5 0.5 0.8 0.5 0.8 0.5-1.1 0.5 1.5 0.5-0.2 0.5-2.9 0.5 0.6 0.5 2 0.5 0.8 0.5-1 0.5 0.3 0.5-1.5 0.5 1.7 0.5-1.2 0.5 1.1 0.5 1 0.5-3.2 0.5 1.5 0.5 1.2 0.5-1.1 0.5-1.3 0.5 1.8 0.5 0.1 0.5-0.4 0.5-1.8 0.5-1.2 0.5 3 0.5-0.3 0.5-0.1 0.5 0.1 0.5-1.2 0.5 1 0.5 0.7 0.5-0.9 0.5 0.8 0.5 1.5 0.5-0.9 0.5-2.2 0.5 1.5 0.5 0.5 0.5-0.8 0.5 1.1 0.5-0.4 0.5 0 0.5-0.7 0.5-1 0.5 0.7 0.5 0 0.5-0.3 0.5 0.6 0.5-0.4 0.5-0.1 0.5 0.9 0.5 1.2 0.5-2 0.5 2.3 0.5-2.7 0.5 0.3 0.5 1.2 0.5-0.4 0.5-0.2 0.5 2 0.5-3 0.5-0.4 0.5 1.5 0.5-0.4 0.5 0.3 0.5-0.7 0.5-0.7 0.5 0.2 0.5 1.9 0.5-0.7 0.5-1.1 0.5 1.7 0.5 0.3 0.5-0.6 0.5-0.5 0.5-0.1 0.5 2.4 0.5-1.6 0.5-1.4 0.5 1.5 0.5-0.7 0.5-0.1 0.5 0 0.5 0.3 0.5 1.2 0.5-2.1 0.5 0.4 0.5 0.7 0.5-1.3 0.5 1.3 0.5 0.6 0.5-0.2 0.5-1.2 0.5-0.7 0.5 0.4 0.5 1.5 0.5 1.1 0.5-0.9 0.5 0.3" fill="none" stroke="#377eb8" stroke-width="1.2" stroke-linejoin="round"/><path d="M130 818.2l0.5-1.2 0.5 0.7 0.5-0.5 0.5-0.9 0.5 0.8 0.5-1.1 0.5 0.5 0.5-0.7 0.5 2.3 0.5-0.3 0.5 0.4 0.5-1.5 0.5 0.9 0.5-1.2 0.5 0.6 0.5 0.2 0.5-1.9 0.5 0.1 0.5 1.8 0.5 0.9 0.5-3.7 0.5 1.8 0.5 1.8 0.5-0.5 0.5-0.4 0.5 1.6 0.5-1.3 0.5-1.6 0.5 2.8 0.5-2.1 0.5-1.5 0.5 2.4 0.5 0.3 0.5-0.6 0.5-0.4 0.5 0.2 0.5 2 0.5-0.8 0.5-0.6 0.5 0.1 0.5-1.1 0.5 1.3 0.5 0 0.5-2 0.5 1.8 0.5 0.7 0.5-1 0.5-0.3 0.5-0.5 0.5 0 0.5 0.8 0.5 1.2 0.5-0.9 0.5-1.6 0.5-0.3 0.5 1.8 0.5-0.3 0.5-0.1 0.5 0.8 0.5 0 0.5-0.2 0.5 1.4 0.5-1 0.5-1.2 0.5-0.5 0.5 0.9 0.5 0 0.5-0.7 0.5-1.2 0.5 3.1 0.5 0.1 0.5-0.2 0.5-0.6 0.5 1.7 0.5-1.3 0.5 0.8 0.5-1.4 0.5 0.7 0.5 0 0.5-1.3 0.5 1.8 0.5-0.4 0.5-1.4 0.5-0.2 0.5 0.4 0.5 2.4 0.5-2.9 0.5 0.2 0.5 0.6 0.5 1.3 0.5-2.5 0.5 1.4 0.5-1.3 0.5-0.8 0.5 1.7 0.5-0.8 0.5 1.1 0.5 0.6 0.5-0.7 0.5 0.4 0.5-0.2 0.5-0.1 0.5-0.3 0.5 0.1 0.5 2.5 0.5-1.7 0.5-1.2 0.5 2 0.5-1.4 0.5-0.2 0.5 2.2 0.5-1.8 0.5-1.5 0.5 0.5 0.5 1.2 0.5 0.2 0.5-0.5 0.5 0.1 0.5 0.2 0.5-0.3 0.5-0.6 0.5 0.4 0.5 0.6 0.5 0.2 0.5-0.4 0.5-1 0.5 1.3 0.5-1.8 0.5 2.1 0.5-0.9 0.5 0.6 0.5-1.4 0.5 0.2 0.5 0.2 0.5 1.3 0.5-0.2 0.5-0.2 0.5-1.9 0.5 1.5 0.5-1.2 0.5 0 0.5 1.3 0.5-0.4 0.5 1.5 0.5-1.5 0.5-0.7 0.5 1.7 0.5-1.4 0.5-0.1 0.5 0.4 0.5 0.7 0.5-0.3 0.5 0.8 0.5-0.3 0.5-2.6 0.5 2.4 0.5 0.1 0.5-0.8 0.5-0.3 0.5-1.4 0.5 2.4 0.5 0.1 0.5 0 0.5-1.4 0.5-0.2 0.5 1.9 0.5-0.1 0.5-0.4 0.5 1 0.5-0.2 0.5-1.6 0.5 2 0.5-1.5 0.5-1 0.5 2.1 0.5-1.9 0.5 0.8 0.5 0.9 0.5-1.2 0.5 0.6 0.5 0.5 0.5 0.1 0.5 0 0.5 1.5 0.5-2.6 0.5-1 0.5 0.9 0.5-0.6 0.5 0.8 0.5-0.5 0.5 0.5 0.5-1.3 0.5 0.9 0.5 1.8 0.5-1.4 0.5 0.3 0.5-1.3 0.5 1 0.5-0.8 0.5 0.4 0.5 1.3 0.5-0.3 0.5-0.3 0.5 0.9 0.5-4.1 0.5 2.6 0.5 1.2 0.5 0.1 0.5-1.3 0.5 0.2 0.5 1 0.5 0.5 0.5-1.5 0.5 0.5 0.5-0.8 0.5 0.3 0.5-0.6 0.5 2.7 0.5-2.2 0.5 1.3 0.5 0.4 0.5-1.9 0.5 3 0.5-1.9 0.5 0.2 0.5-1.6 0.5 2.3 0.5-2 0.5 0 0.5 0.3 0.5 0.1 0.5 0.2 0.5 1.3 0.5-0.5 0.5 1.5 0.5-2.8 0.5 0.1 0.5 1.9 0.5-2.6 0.5 1.2 0.5 1.3 0.5-0.5 0.5-1.2 0.5 0.4 0.5 0.9 0.5-1.4 0.5 0.8 0.5 0 0.5 0.6 0.5-1.7 0.5-0.6 0.5 1.7 0.5-0.6 0.5 0 0.5-0.3 0.5 1.1 0.5-2.8 0.5 1.9 0.5-0.5 0.5 1.3 0.5-2 0.5 1.4 0.5 2 0.5-3.1 0.3 3.5 0.4 5 0.3-2.4 0.4 3.5 0.3-3.8 0.3 2.3 0.4 7 0.3-6.9 0.4-1.7 0.3 11.6 0.3-12.5 0.4 3.2 0.3-0.3 0.4-2.3 0.3 5.3 0.3 2.5 0.4-3.7 0.3 2.4 0.4-1.8 0.3 7.8 0.3-7.1 0.4-9.1 0.3 8.1 0.4-3.1 0.3 1.6 0.3 1.5 0.4-3.9 0.3-1.2 0.4 1.8 0.3-0.8 0.3-3.6 0.4 3.8 0.3-1.4 0.4-8.2 0.3-0.7 0.3 3.3 0.4-8.8 0.3 1.9 0.4 0.9 0.3 2.8 0.3-4.4 0.4 3.8 0.3-1.8 0.4 3.5 0.3-6.7 0.3 3.9 0.4-0.2 0.3-2.6 0.4-4.6 0.3 5.2 0.3 7.1 0.4-5.1 0.3 0.5 0.4 2.1 0.3 1.9 0.3-10.6 0.4 3.5 0.3 1.2 0.4 1.9 0.3-2.1 0.3 2.1 0.4 0.5 0.3 2.3 0.4 2.1 0.3-2.3 0.3-1.8 0.4 1.8 0.3-4.4 0.4 5.1 0.3-6.4 0.3 8 0.4-4.6 0.3-3.8 0.4 2 0.3 4.2 0.3-6.9 0.4 4.1 0.3-5.5 0.4 4.8 0.3 6 0.3-7.5 0.4 0.9 0.3-0.9 0.4 5.9 0.3-5.3 0.3 5.4 0.4 1.6 0.3-1.6 0.4-4.4 0.3 1.7 0.3-7.1 0.4 2 0.3-1.2 0.4 4.3 0.3 3 0.3 1.4 0.4-5 0.3-4.7 0.4-0.8 0.3 10.5 0.3-6.1 0.4-0.9 0.3 5.5 0.4-4.2 0.3 2.4 0.3-1.5 0.4-0.7 0.3 0.8 0.4-0.3 0.3 3.1 0.3-2.7 0.4 11.7 0.3-14.3 0.4-1.6 0.3 8.7 0.3-4.6 0.4-3.6 0.3 5.2 0.4-0.4 0.3-1.6 0.3-4.1 0.4 7.2 0.3-6.3 0.4-0.6 0.3 5.3 0.3-5.3 0.4-5.4 0.3 5.4 0.4-1 0.3-7 0.3 5.8 0.4-2.3 0.3-6.4 0.4-3.8 0.3 8.3 0.3-3.6 0.4-2.2 0.3-3.7 0.4 2.1 0.3 2.5 0.3-3.6 0.4 10.9 0.3-7.5 0.4-2.7 0.3-0.8 0.3 4.1 0.4 7.3 0.3-8.8 0.4 5.7 0.3 11.1 0.3-15.1 0.4 10.9 0.3-14.6 0.4 5 0.3 1.8 0.3 3.9 0.4-2.8 0.3 0.6 0.4 0.8 0.3 5.3 0.3-6.7 0.4 0.7 0.3-2.9 0.4 1.5 0.3 0.2 0.3 1.9 0.4 6.9 0.3 1.7 0.4-5.8 0.3 2.4 0.3-3.6 0.4 3.7 0.3-2 0.4-3.5 0.3 2.1 0.3 2.2 0.4-3.4 0.3 1.6 0.4 4.5 0.3-5.1 0.3 2.6 0.4 1.8 0.3 0.2 0.4 0.9 0.3 5.4 0.3-8.4 0.4 1.2 0.3 0.9 0.4 3.3 0.3-3.6 0.3-0.7 0.4 0.3 0.3-0.2 0.4 5.7 0.3-7.3 0.3 0.8 0.4 0 0.3-1.2 0.4 3.1 0.3-3.6 0.3 6.4 0.4-4.6 0.3 1.6 0.4-4 0.3 4.1 0.3 0.2 0.4 1.1 0.3-2.2 0.4 3.3 0.3-3.8 0.3 0 0.4 2.5 0.3 0.1 0.4 1.8 0.3-7.7 0.3 3.2 0.4 5.3 0.3-5.7 0.4 5.1 0.3-3.9 0.3-0.8 0.4 3 0.3 0.2 0.4-1.9 0.3 0 0.3 0.8 0.4 0 0.3 5.8 0.4-3.9 0.3 2.2 0.3-2.6 0.4 3.1 0.3-0.5 0.4 0.3 0.3-2 0.3 0 0.4 0 0.3-2 0.4 4.2 0.3-6.4 0.3 4.4 0.4 0.7 0.3-2.3 0.4 2.1 0.3-0.2 0.3-2.4 0.4 3.5 0.3-5.9 0.4 5.9 0.3-1.7 0.3-4.8 0.4-1 0.3 2.6 0.4 4 0.3-2.1 0.3 0.7 0.4 0 0.3-1 0.4-1.1 0.3-2.3 0.3 2.1 0.4 2.7 0.3-2.2 0.4-0.3 0.3-1.3 0.3 3.5 0.4 0.2 0.3 1 0.4 1.1 0.3-3.3 0.3 1.7 0.4-3.7 0.3 0.6 0.4 2.8 0.3-0.5 0.3 1.2 0.4 2.5 0.3-4.8 0.4-2.3 0.3 3.9 0.3-4.5 0.4 0.7 0.3 1.6 0.4 3.6 0.3 0.5 0.3-2.8 0.4-0.2 0.3 3.6 0.4-8.2 0.3 3.5 0.3 2 0.4-2.5 0.3-7 0.4 14 0.3-4.8 0.3 0.8 0.4-1.9 0.3-0.6 0.4 3.6 0.3-1.9 0.3-4.4 0.4-1.4 0.3 5 0.4-1 0.3-5.9 0.3 6.2 0.4-5.6 0.3 2.5 0.4 5.5 0.3-1.4 0.3-3.5 0.4 1.1 0.3-1.3 0.4 0.6 0.3 3.3 0.3 1 0.4 1.2 0.3-1.9 0.4-2.4 0.3 2.3 0.3-6.7 0.4 8.9 0.3-4.1 0.4-3.5 0.3-1.9 0.3 6.8 0.4-2.9 0.3-1.5 0.4 6.9 0.3-6.6 0.3 1.6 0.4 1.5 0.3-3.1 0.4 2.5 0.3 1.7 0.3-5.5 0.4 4.6 0.3-7 0.4 11.3 0.3-8.8 0.3 2.1 0.4-1.4 0.3-0.5 0.4-1.7 0.3 4.2 0.3-1.8 0.4 1 0.3-2.2 0.4 1.4 0.3-0.4 0.3-0.3 0.4 5.1 0.3-3.9 0.4-1.4 0.3 0 0.3-5.9 0.4 4.1 0.3-1.2 0.4 4.4 0.3-3.1 0.3-2.4 0.4 6.2 0.3-5 0.4 8.3 0.3-0.8 0.3-7.9 0.4 7.3 0.3-4 0.4-3 0.3 0.3 0.3-0.6 0.4 0.9 0.3-2.6 0.4 6.6 0.3-2.8 0.3-0.5 0.4 5.9 0.3-3.4 0.4 10.4 0.3-15.4 0.3 4.8 0.4-4.4 0.3 3.7 0.4-6.8 0.3 5.7 0.3-4.1 0.4-5.2 0.3 4.7 0.4-1.4 0.3 6.9 0.3-4.3 0.4-0.3 0.3 2.1 0.4-1.8 0.3 3.4 0.3-1.8 0.4 1.6 0.3 0.1 0.4-5.9 0.3 4 0.3-2.4 0.4-3.3 0.3 1.1 0.4 4.6 0.3-0.1 0.3 0.9 0.4-2.7 0.3-4.4 0.4-0.2 0.3 6.2 0.3 8.1 0.4-12.7 0.3 8 0.4-6.9 0.3 6.8 0.3-6.4 0.4 0.6 0.3 1.4 0.4 2.1 0.3-3.9 0.3 0.5 0.4 1.1 0.3-6.3 0.4 5.8 0.3 0.2 0.3-5.4 0.4-4.6 0.3 9.4 0.4-0.7 0.3 0.6 0.3-1.6 0.4-1.4 0.3 4.1 0.4-1.2 0.3 1.5 0.3-3.8 0.4 1.6 0.3-1.7 0.4 2.6 0.3-1 0.3 4.9 0.4-2.2 0.3 0.1 0.4-1.4 0.3 3.9 0.3-2 0.4-4.3 0.3 1.1 0.4 2.4 0.3-1.6 0.3 1 0.4-1.9 0.3 1.7 0.4 2.9 0.3-2.7 0.3 4.8 0.4-5.5 0.3-0.6 0.4-0.7 0.3 5.9 0.3-4.3 0.4-1.9 0.3 0.2 0.4-1 0.3-0.7 0.3-0.9 0.4 2.1 0.3 4.2 0.4-4.1 0.3-4 0.3 3.2 0.4 0.8 0.3-2.7 0.4 7.2 0.3 0.5 0.3-2.7 0.4-1.7 0.3-2.6 0.4 1.3 0.3 3.1 0.3-4.1 0.4 3.3 0.3 0.1 0.4 0.6 0.3 1.5 0.3-0.8 0.4 1.2 0.3 3 0.4-3.6 0.3-6.2 0.3 5.1 0.4 4.1 0.3-4.7 0.4-5.4 0.3 6.3 0.3-6.7 0.4 5.6 0.3 6.2 0.4-7.7 0.3-4.1 0.3 4.1 0.4 4.2 0.3-3.7 0.4-2.1 0.3 6.6 0.3-3.7 0.4-0.9 0.3-1.7 0.4 3.8 0.3 1.3 0.3-3.5 0.4 1.4 0.3 0.9 0.4 1.2 0.3-3.3 0.3 4 0.4-7.4 0.3 6.3 0.4-4.3 0.3 1.1 0.3 1.3 0.4 0.7 0.3-3.8 0.4 2.7 0.3 2.3 0.3-2.5 0.4-4.2 0.3 8.9 0.4-7.2 0.3 7.5 0.3-5.2 0.4 0.7 0.3 3.8 0.4-4.2 0.3 2.2 0.3-3.5 0.4 2.9 0.3-2 0.4-0.3 0.3-1.4 0.3 6 0.4-6.6 0.3 9.7 0.4-2.6 0.3-1.9 0.3 3.5 0.4 1 0.3-5.8 0.4 4.8 0.3-2.3 0.3-3.9 0.4-1.1 0.3 3.8 0.4-3.7 0.3-0.4 0.3 0.5 0.4 2.1 0.3 2.2 0.4 1.3 0.3-8.1 0.3 0.4 0.4 3.8 0.3 0.2 0.4-1.9 0.3-0.7 0.3 2.2 0.4 3.3 0.3-4.8 0.4 2.3 0.3 4 0.3-7.6 0.4-0.9 0.3 4.5 0.4 1 0.3-0.3 0.3 1.1 0.4-0.8 0.3 1.1 0.4 0.2 0.3-0.4 0.3-1.6 0.4 0.5 0.3-0.9 0.4 3.5 0.3-4.6 0.3 3.2 0.4 0.3 0.3-3.3 0.4 5.8 0.3-4.5 0.3 5.1 0.4-3.4 0.3-3.5 0.4-0.9 0.3 5 0.3-0.7 0.4-6.5 0.3 2.8 0.4-2.8 0.3 8.6 0.3-7.6 0.4 3 0.3 4.5 0.4-3.1 0.3-3.6 0.3 10.1 0.4-4 0.3 0.3 0.4-6.9 0.3 3 0.3 1 0.4-0.7 0.3 0.6 0.4 2 0.3-2.1 0.3-2.2 0.4 4.5 0.3-5.4 0.4 4.4 0.3-3 0.3-1.7 0.4-1 0.3-1.3 0.4 8.3 0.3-0.4 0.3-1.1 0.4-2.4 0.3-2.2 0.4 3.3 0.3-0.2 0.3-1.2 0.4 0.4 0.3-5.3 0.4 6.4 0.3-4.9 0.3-1 0.4 4.6 0.3 0.5 0.4-0.2 0.3 1.8 0.3-0.5 0.4 1 0.3-3.5 0.4-0.8 0.3 3.2 0.3-3.1 0.4 1.8 0.3 0.3 0.4-1.1 0.3 0.4 0.3-4.4 0.4 0.1 0.3-0.1 0.4 1.1 0.3 4.1 0.3-1.2 0.4-0.3 0.3-3.1 0.4 5.1 0.3-3.6 0.3 5.9 0.4 6.8 0.3-10.8 0.4-2.5 0.3 0.3 0.3 1.9 0.4-0.6 0.3 3.3 0.4 1.5 0.3-4.5 0.3-4 0.4 2.9 0.3 2.1 0.4-1.5 0.3 4.6 0.3-3.2 0.4-0.4 0.3-2.7 0.4 2.2 0.3-1.8 0.3 3.5 0.4-2 0.3 0.5 0.4-2.7 0.3 1 0.3 0.2 0.4 4.7 0.3-6.8 0.4 3.8 0.3-0.5 0.3-4.8 0.4 1.7 0.3 2.1 0.4-0.8 0.3 3.8 0.3-1.1 0.4-2.2 0.3 2.3 0.4-0.6 0.3 2.6 0.3-1.6 0.4-0.1 0.3-0.4 0.4-5 0.3 3.8 0.3 0.3 0.4-1.8 0.3 2.1 0.4-1.7 0.3 5.3 0.3-2.7 0.4-2.2 0.3 2.3 0.4-2.4 0.3 2.1 0.3-1.9 0.4-0.9 0.3 2.5 0.4 2.4 0.3-0.1 0.3-2.5 0.4 0.6 0.3 3.2 0.4-5.2 0.3-0.1 0.3 2.1 0.4-0.9 0.3 0.2 0.4 1.8 0.3-1.3 0.3-0.5 0.4 0.8 0.3 2 0.4 0.9 0.3-0.9 0.3 0.7 0.4-0.2 0.3 3 0.4-2.2 0.3-0.5 0.3-1.1 0.4 2.5 0.3-3.5 0.4 0.8 0.3-1.9 0.3 2.1 0.4-3 0.3 1.1 0.4 1.1 0.3-1.2 0.3 1.9 0.4-0.7 0.3 0.6 0.4 0.3 0.3-0.4 0.3-0.4 0.4 4.1 0.3-2.2 0.4 4.5 0.3-1.6 0.3-5 0.4 2.8 0.3 1.3 0.4-4.6 0.3 7 0.3-0.4 0.4 2.2 0.3-2.6 0.4 2.9 0.3 2.6 0.3-0.6 0.4-1.1 0.3-2.2 0.4 0.5 0.3-0.6 0.3 1.3 0.4 1.9 0.3-4.2 0.4 4.5 0.3-1.3 0.3 2.1 0.4 0.9 0.3-0.1 0.4 2 0.3-3.1 0.3 2.7 0.4-2.3 0.3 0 0.4 1.5 2 2.8 2 2.8 2 3.3 2 2.4 2 3.2 2 1.5 2 0.6 2 0.8 2-2.7 2-4 2-4 2-3.4 2-1.9 2 0.6 2 1.4 2 2.2 2 0.7 2 2.3 2 1.2 2 2.2 2 1.5 2 1.4 2 1.8 2 0.4 2 0.9 2-0.2 2-0.5 2-1.1 2-1 2-1.5 2-1 2 0.6 2 0.5 2 1.8 2 2.5 2 1.4 2 1.3 2 1 2-0.1 2-0.4 2 0 2-0.6 2-0.4 2-0.3 2-1 2-0.3 2-0.7 2-0.6 2 0.3 2-0.9 2-0.2 2 1.3 2 2.7 2 2.1 2-0.1 2-0.2 2-1.8 2-1.2 2-1.1 2-1.1 2-0.3 2-0.7 2 0.5 2 0 2 0.1 2 0.7 2 0.1 2 0.4 2-0.1 2 1 2 2.5 2 2.5 2-0.2 2-2.5 2-4.3 2-4.7 2-4.2 2-2.4 2-0.6 2-1.3 2-0.8 2-0.6 2-0.4 2-0.4 2-0.3 2 0.1 2 2.5 2 8 2 5.6 2 2.5 2 0.8 2 1.9 2 0.6 2 0.6 2 1.4 2 0.9 2 1.3 2 1.5 2 2.7 2 2.3 2 2.3 2 1.5 2 0.6 2-7.5 2-18.8 2-22 2-15.6 2-2.3 2 8.7 2 6.1 2-12.9 2-30.5 2-27.4 2-3.4 2 22.6 2 22.4 2 8.5 2 5.9 2 3 2-8.4 2-26.4 2-31.7 2-24.4 2-4.4 2 23.8 2 41 2 45.1 2 53.1 2 66 2 33.3 2-18.7 2-44 2-47.3 2-28.1 2-1.8 2 1.1 2 1.8 2 1.6 2 2.3 2 2.1 2 2.3 2 2.7 2 3.4 2 3.4 2 2.6 2 3.4 2 3 2 2.1 2 1.3 2 1 2 0.1 2-1.8 2-1.6 2-1.6 2-2.7 2-2.1 2-1.6 2-1.2 2-0.4 2-0.6 2-0.7 2-0.1 2-0.1 2-0.7 2 0.1 2-0.1 2-0.3 2-0.1 2-0.3 2-0.2 2 0 2 0.4 2 1.1 2 0.3 2 1.1 2 0.6 2 0.9 2 0.9 2 0.5 2 0.3 2-0.2 2-0.3 2-1 2-0.3 2-0.3 2-0.1 2 0 2-0.2 2 0.2 2-0.2 2 0 2-0.3 2 0 2-0.5 2-0.9 2-0.5 2-0.7 2-0.4 2-0.6 2-0.9 2-0.6 2-0.2 2-0.2 2-0.7 2-0.4 2 0.1 2 0 2-0.4 2-0.1 2 0 2 0.4 2 0 2 0.3 2 0.4 2 0.1 2 0 2 0.5 2 0.2 2 0.1 2 0.4 2 0.2 2 0.1 2-0.2 2 0.4 2 0.3 2-0.1 2 0.3 2-0.1 2 0.3 2 0.4 2 0.1 2 0 2 0.2 2 0.2 2 0 2 0.4 2-0.1 2 0 2 0.4 2-0.5 2 0.3 2-0.9 0.5 1.6 0.5-1.9 0.5 1.4 0.5 0 0.5-1.9 0.5 2.1 0.5 1.5 0.5-4.4 0.5 2.4 0.5 1.5 0.5-0.8 0.5-2.7 0.5 1.3 0.5 2.1 0.5-1.5 0.5-3.1 0.5 1.7 0.5-0.2 0.5 2.5 0.5-0.2 0.5-3.6 0.5 3.5 0.5-1.1 0.5-0.5 0.5-0.2 0.5 1.4 0.5-1.6 0.5 1.9 0.5 1 0.5-2.3 0.5 0.3 0.5 0.8 0.5-1.2 0.5 1.3 0.5-2.4 0.5-0.9 0.5 4 0.5-1.2 0.5-0.5 0.5 0.8 0.5-1.9 0.5-1.9 0.5 1.4 0.5-1.7 0.5 1.5 0.5-0.4 0.5 1.2 0.5-0.9 0.5 1.7 0.5-2.8 0.5 3.7 0.5-0.7 0.5-2.1 0.5 1.3 0.5-2.2 0.5-0.1 0.5 0.6 0.5 2.3 0.5-2.2 0.5-0.3 0.5 0.3 0.5 0.4 0.5 0.8 0.5-0.4 0.5-1.1 0.5 0.2 0.5 1.2 0.5-1.6 0.5-0.8 0.5-0.1 0.5 1.3 0.5-3.4 0.5 4.8 0.5-2.8 0.5 0.4 0.5-0.4 0.5-0.9 0.5-0.5 0.5-2.4 0.5-0.9 0.5-1.3 0.5-1.3 0.5-0.7 0.5-2.7 0.5-1.3 0.5 1.8 0.5-0.9 0.5-1.8 0.5 3.1 0.5-2.5 0.5 2 0.5-0.8 0.5-0.6 0.5-0.8 0.5 2.7 0.5-2 0.5 1.3 0.5-2.3 0.5 3.2 0.5-3.1 0.5-1.1 0.5-0.7 0.5 0.7 0.5 1.5 0.5 0.9 0.5-2.5 0.5 0.4 0.5 2.8 0.5-0.5 0.5-2.5 0.5 0.8 0.5 1.6 0.5-0.8 0.5-0.5 0.5-2.4 0.5 0.2 0.5 0.3 0.5 1 0.5 0.2 0.5 0.7 0.5-2.4 0.5 4.6 0.5-3.2 0.5 0 0.5 0.6 0.5 3.4 0.5-3.4 0.5-0.4 0.5 1.1 0.5-0.2 0.5-0.7 0.5-1.4 0.5 1.5 0.5-1.6 0.5 2.1 0.5-4.2 0.5 4.5 0.5-1.9 0.5 1.7 0.5-0.2 0.5-1.8 0.5-1.3 0.5 2.7 0.5-1.5 0.5 1.3 0.5-1.4 0.5 4.8 0.5-4.1 0.5 1.4 0.5-0.3 0.5 0.5 0.5 1.5 0.5-3.5 0.5 0.5 0.5 1.4 0.5-0.9 0.5-0.1 0.5 1.6 0.5-2.4 0.5-1.4 0.5 0.9 0.5 0 0.5 2.1 0.5-1.5 0.5 1.6 0.5-1.4 0.5-1 0.5-3.9 0.5 4.4 0.5-0.2 0.5 0.7 0.5-0.3 0.5-2 0.5 2.5 0.5-0.9 0.5-1.1 0.5 2.1 0.5-4.3 0.5 4.1 0.5-1.1 0.5-2.1 0.5 2.4 0.5 3.5 0.5-4.5 0.5-0.9 0.5 0.7 0.5-0.9 0.5 1.5 0.5-2.1 0.5 0.2 0.5 2.2 0.5-2.2 0.5 2.3 0.5-1.5 0.5-0.9 0.5 2.7 0.5-2.1 0.5 3.3 0.5-0.7 0.5 0.4 0.5-3.4 0.5 2.5 0.5-3.4 0.5 3.4 0.5-0.2 0.5 0.7 0.5-2 0.5 0.9 0.5-0.3 0.5-1.1 0.5 1 0.5 0.5 0.5 0.9 0.5-1.6 0.5-2.1 0.5-1.8 0.3-6.8 0.3 13.3 0.4-4.5 0.3 3 0.4 3.8 0.3 1.2 0.3 1.6 0.4 3 0.3-2.4 0.4 2.1 0.3-1.4 0.3 2 0.4 3.6 0.3-6.3 0.4-7.2 0.3 11.3 0.3-6.2 0.4 3.4 0.3-4.3 0.4-10.1 0.3 4.8 0.3 7.2 0.4-0.6 0.3-2.5 0.4-4.1 0.3 2.6 0.3 2.3 0.4-6.5 0.3 7.9 0.4-6 0.3-8.1 0.3 6.3 0.4-1 0.3 3.1 0.4 0.6 0.3 1.6 0.3-1.7 0.4 1.8 0.3 4.3 0.4-11.5 0.3 1.7 0.3-8.2 0.4 0.3 0.3 0.9 0.4-3.1 0.3 0 0.3 7.2 0.4-5.6 0.3-2.4 0.4 5.4 0.3 6.3 0.3-2.5 0.4-2 0.3 2.3 0.4 0.6 0.3-9.6 0.3 6 0.4-0.1 0.3-4 0.4 5.7 0.3-11.6 0.3 7 0.4-1.3 0.3 5.9 0.4-3.4 0.3-6.1 0.3 2.4 0.4 0.5 0.3 0.2 0.4-1.1 0.3 8.5 0.3-13.1 0.4 1.8 0.3 0.6 0.4 9.5 0.3-8.1 0.3-5.9 0.4 7.8 0.3 1.8 0.4 4.9 0.3-4.9 0.3-3.7 0.4 2.3 0.3 4.3 0.4-6.7 0.3 7.4 0.3-5 0.4 1.6 0.3-2.5 0.4 6.6 0.3-2.5 0.3 0.9 0.4-8.4 0.3 4.6 0.4-8.1 0.3 9.4 0.3-2 0.4-6.2 0.3 3.6 0.4-0.7 0.3 5.4 0.3-0.2 0.4 1.1 0.3-2 0.4-2.8 0.3 0.2 0.3 2.7 0.4 7.6 0.3-11 0.4 0.8 0.3 3.7 0.3-0.3 0.4 7.1 0.3-4.8 0.4-6.2 0.3-3.7 0.3 6 0.4 2.6 0.3-1.4 0.4-1.9 0.3 4.9 0.3-3.8 0.4-2.3 0.3-2.1 0.4 6.4 0.3 1.9 0.3-5.1 0.4 2.1 0.3-1 0.4 2.2 0.3-1.7 0.3 2.6 0.4-4.5 0.3 4.2 0.4 0.9 0.3-8.9 0.3 2.7 0.4 0.3 0.3 1.8 0.4 4.9 0.3-8.9 0.3-0.3 0.4 5.6 0.3-2.7 0.4 4.1 0.3-2.5 0.3-1.1 0.4 1.8 0.3-1.9 0.4-4.8 0.3 5.3 0.3 3.2 0.4 1 0.3-5.2 0.4-6.2 0.3 7.3 0.3-1.4 0.4-1 0.3 2.7 0.4-5.7 0.3 11.3 0.3-5.7 0.4-4.3 0.3 4 0.4-4.1 0.3 1 0.3 4.2 0.4 6.6 0.3-3.4 0.4-6.4 0.3-7.3 0.3 6.6 0.4 7.3 0.3-7.5 0.4-1.1 0.3-0.1 0.3-1.9 0.4 14.8 0.3-22.1 0.4 5.8 0.3 1.8 0.3 1.7 0.4 5.6 0.3-2.2 0.4-6.5 0.3 6.4 0.3 0 0.4 1.9 0.3 0.1 0.4-0.6 0.3-3.9 0.3-1.7 0.4-0.8 0.3 8.3 0.4-3 0.3 0 0.3 2.1 0.4-6.4 0.3 5.2 0.4-12.4 0.3 7.4 0.3 1.8 0.4 3.7 0.3-2 0.4-6.2 0.3 13.8 0.3-3.5 0.4-5.6 0.3 14.2 0.4-10.2 0.3 3.2 0.3-6.9 0.4 6.7 0.3 1.8 0.4-4.2 0.3-8.4 0.3 8.7 0.4 2.1 0.3-3.1 0.4 4.6 0.3-1.8 0.3 0.1 0.4-0.8 0.3 2.1 0.4 0.7 0.3 6 0.3-13.5 0.4 7.8 0.3 0.7 0.4-2.9 0.3-3.2 0.3 5.6 0.4-0.1 0.3 5.7 0.4-4.7 0.3-0.5 0.3 4.3 0.4-4.8 0.3 7.3 0.4-10.7 0.3 11.2 0.3-7.5 0.4 7.2 0.3-6.3 0.4-2.1 0.3 11 0.3-6.4 0.4-0.7 0.3 5.5 0.4-3.8 0.3-6 0.3 9.6 0.4-3.2 0.3 5.7 0.4-8.6 0.3 2.2 0.3-2.2 0.4 9.2 0.3-6.8 0.4 0.5 0.3 7.3 0.3-8.5 0.4 6.6 0.3-0.1 0.4-0.7 0.3-1.9 0.3-2.4 0.4-1.9 0.3-1.3 0.4 9.7 0.3-11 0.3 10.8 0.4 7.8 0.3-12.5 0.4 0.2 0.3-7 0.3 3.7 0.4-0.7 0.3 7.5 0.4-2.4 0.3 1.3 0.3-3 0.4 3 0.3-6.7 0.4 3 0.3-0.9 0.3 4.4 0.4 0.9 0.3 0 0.4-0.7 0.3 9.5 0.3-11.3 0.4 2.3 0.3 1.6 0.4-2.4 0.3 4 0.3 2.2 0.4-3.1 0.3 1.7 0.4-5.3 0.3 3.6 0.3 0.2 0.4-1.1 0.5 1.6 0.5-0.1 0.5 0 0.5-0.2 0.5-2 0.5 1.8 0.5 0.1 0.5-1.9 0.5-0.7 0.5 1 0.5-0.7 0.5 1 0.5-0.2 0.5-0.2 0.5-0.7 0.5 0.8 0.5 0.5 0.5 0.9 0.5 0.2 0.5-0.9 0.5 0.3 0.5-1.2 0.5 1.5 0.5-1.2 0.5 0.7 0.5 0.9 0.5-0.1 0.5-1 0.5-1.1 0.5 1.8 0.5-2.8 0.5 0.7 0.5-0.1 0.5 1 0.5-0.5 0.5 0.3 0.5 2.5 0.5-1.3 0.5-2.7 0.5 2.9 0.5-1.2 0.5-0.3 0.5 0.6 0.5-0.3 0.5-2.1 0.5 4.7 0.5-0.7 0.5-3.7 0.5 1.2 0.5 1.8 0.5-1.2 0.5 2.1 0.5 0.2 0.5-1 0.5 0.6 0.5 2.2 0.5-2.3 0.5 0 0.5-0.8 0.5-1.7 0.5 2 0.5 0.1 0.5-1.9 0.5 1.2 0.5-2.8 0.5 0 0.5 2.9 0.5 1.5 0.5-1.1 0.5-1.4 0.5 1 0.5-2.1 0.5 2.3 0.5-0.5 0.5-0.3 0.5-1.5 0.5 2.8 0.5-1.7 0.5 0.4 0.5 0 0.5 0.8 0.5-0.4 0.5-0.7 0.5-0.3 0.5 1.5 0.5-1.4 0.5 0.2 0.5-1.3 0.5 1.4 0.5-1.9 0.5 3.7 0.5-0.2 0.5-0.8 0.5-1.1 0.5-1.5 0.5 1.1 0.5-0.6 0.5 0.6 0.5 1.3 0.5-3.4 0.5 1 0.5 0.6 0.5 0.6 0.5 0.4 0.5-1.2 0.5 0.1 0.5 0 0.5 1.6 0.5-1.3 0.5 0.8 0.5 0.6 0.5-0.9 0.5 0.1 0.5 0 0.5-1.1 0.5 2 0.5-4 0.5 2 0.5 0.4 0.5-0.7 0.5 1.2 0.5-1.9 0.5 4.4 0.5-2.4 0.5 0.9 0.5 1.4 0.5-2.9 0.5 0 0.5 2 0.5-2 0.5-1 0.5 3.1 0.5-1.3 0.5 0 0.5 1.6 0.5-0.7 0.5-1.7 0.5 2.8 0.5-1.9 0.5-0.8 0.5 0 0.5 1.3 0.5-0.3 0.5-1.2 0.5 0.3 0.5-0.9 0.5 0.3 0.5 0.3 0.5 1.7 0.5-0.7 0.5-0.2 0.5 2.5 0.5-1.4 0.5 0.2 0.5-0.8 0.5 1.3 0.5-1.2 0.5-2.3 0.5 4.1 0.5-4 0.5 3.7 0.5-1 0.5-0.6 0.5-0.1 0.5-0.1 0.5-0.9 0.5-0.7 0.5-0.8 0.5 2.5 0.5 0.7 0.5 0.9 0.5-2 0.5 1 0.5-0.6 0.5 2.6 0.5-3.6 0.5 0.1 0.5 0.4 0.5-0.5 0.5 2.1 0.5-2 0.5 0.1 0.5 1 0.5-2.4 0.5 2.5 0.5-0.3 0.5-1.3 0.5 1 0.5-1.1 0.5 1.2 0.5 1 0.5-0.6 0.5 0.7 0.5-0.4 0.5-0.9 0.5 0.6 0.5-0.2 0.5 3.1 0.5-1.4 0.5 0.2 0.5-0.8 0.5 0.2 0.5 0.2 0.5 1.3 0.5-1.3 0.5 1.7 0.5 0.2 0.5-2.6 0.5 1.8 0.5 0 0.5-2.1 0.5 1.2 0.5-3.3 0.5 1.7 0.5 1.1 0.5 1.3 0.5 0.8 0.5-3.6 0.5 2.9 0.5 2.3 0.5-2.8 0.5-0.1 0.5-0.5 0.5 2.8 0.5-4.4 0.5 1.8 0.5-0.6 0.5 0.1 0.5 0.4 0.5-0.6 0.5 1.1 0.5-1.5 0.5 2.6 0.5 0.7 0.5 0 0.5-1.8 0.5-0.1 0.5 1.5 0.5-0.2 0.5-0.5 0.5-0.3 0.5 0.4 0.5-2.4 0.5 2.5 0.5-0.6 0.5 0.8 0.5-1.3 0.5-0.3 0.5 0.2 0.5 0.1 0.5 1.3 0.5-1.9 0.5 1.4 0.5-0.1 0.5-0.1 0.5-1.5 0.5-0.2 0.5 0.4 0.5 1.1 0.5-1.9 0.5 1.8 0.5-0.3 0.5 1.1 0.5-0.8 0.5-1.7 0.5 1.5 0.5 0.8 0.5-2.3 0.5 1.7 0.5-0.5 0.5 2.1 0.5-0.2 0.5 0.1 0.5-2.2 0.5 2.7 0.5-3 0.5-1.1 0.5 1.5 0.5 0.6 0.5-1 0.5 1.3 0.5-2.6 0.5 1.6 0.5-0.6 0.5 1.2 0.5-2 0.5 0.8 0.5 1.9 0.5-1.3 0.5 0.9 0.5 1 0.5 0.6 0.5-0.9 0.5 1.8 0.5-3.7 0.5 2.5 0.5-3 0.5 4.4 0.5 0.4 0.5-0.6 0.5-3.7 0.5 2.9 0.5-2.9 0.5 1.1 0.5 0.5 0.5-0.8 0.5-0.2 0.5-0.6 0.5 0.2 0.5 1.9 0.5-1.9 0.5 0.8 0.5-0.2 0.5-1.3 0.5 1.6 0.5-0.7 0.5-0.8 0.5 3.3 0.5-1.1 0.5 1 0.5 1 0.5-2.1 0.5-1.8 0.5 0.9 0.5 1 0.5-2.2 0.5-0.2 0.5-3.4 0.5 3 0.5 2 0.5 0.3 0.5-0.2 0.5-1.2 0.5 3.7 0.5-2.2 0.5-2 0.5 1.5 0.5 0.6 0.5-0.5 0.5 0.9 0.5 1.2 0.5-1.5 0.5-0.3 0.5-1.3 0.5-0.3 0.5 1.8 0.5 0.7 0.5 1.5 0.5-3.5 0.5 1.1 0.5-0.7 0.5-0.4 0.5 0.4 0.5 0.4 0.5-0.4 0.5-1 0.5 3 0.5-1.8 0.5-0.2 0.5-1.8 0.5 3.1 0.5 0.6 0.5-0.9 0.5-1.1 0.5 1.8 0.5-2.2 0.5 0 0.5 2.4 0.5-0.3 0.5-3.6 0.5 1.7 0.5-1.4 0.5 2.1 0.5 1.8 0.5-1.8 0.5 0.3 0.5-1 0.5 1.2 0.5 1.5 0.5 0.1 0.5-2 0.5-1.6 0.5 1.9 0.5-1.5 0.5 3.7 0.5-2.9 0.5-0.6 0.5-0.3 0.5 0.5 0.5 3.2 0.5-2.4 0.5-0.5 0.5-1.2 0.5 1.4 0.5-0.5 0.5 1.4 0.5-1.7 0.5 0.6 0.5-0.1 0.5 1 0.5-0.6 0.5 0 0.5-0.1 0.5 4.1 0.5-3.4 0.5-1.1 0.5 0 0.5 1.6 0.5-1.7" fill="none" stroke="#4daf4a" stroke-width="1.2" stroke-linejoin="round"/><path d="M130 830.7l0.5 1.1 0.5-0.1 0.5 0.2 0.5 1.3 0.5-1.4 0.5 0.9 0.5-1 0.5 0.5 0.5-1.1 0.5 0.8 0.5-0.2 0.5 0.7 0.5-1.2 0.5 0.5 0.5-0.7 0.5-0.2 0.5 0 0.5 1 0.5 1.2 0.5-0.4 0.5-1.4 0.5 0.1 0.5-0.1 0.5 1.3 0.5 0.2 0.5-1.6 0.5 0 0.5 0.6 0.5 0.1 0.5 0.9 0.5-0.7 0.5-1.2 0.5 1.8 0.5-0.4 0.5-0.1 0.5-0.2 0.5 1.2 0.5-0.9 0.5-0.2 0.5-0.4 0.5 0 0.5-0.3 0.5 0.8 0.5-2 0.5 1.3 0.5-0.9 0.5 0.1 0.5 0.8 0.5 0.9 0.5 0.7 0.5-0.6 0.5-1 0.5-0.4 0.5 0.8 0.5 0.1 0.5-2.4 0.5 1.8 0.5 1 0.5-1 0.5 1.2 0.5 0.8 0.5-1.6 0.5 0.5 0.5 0 0.5-1.8 0.5 1.1 0.5 0.8 0.5-1.6 0.5 2.4 0.5-0.5 0.5-2 0.5 0 0.5 1.3 0.5 0.2 0.5-0.6 0.5 0 0.5-0.1 0.5 0.5 0.5 0.8 0.5-0.4 0.5-0.3 0.5-0.2 0.5 0.3 0.5-0.2 0.5 1.3 0.5-2 0.5-0.4 0.5 1.5 0.5 0.6 0.5-1.2 0.5-0.1 0.5 0.3 0.5-1.1 0.5 1 0.5 0.3 0.5-1.6 0.5 1.3 0.5-0.1 0.5 1.2 0.5-0.5 0.5 0.8 0.5-1.4 0.5-1.8 0.5 0.7 0.5 1.2 0.5-3.1 0.5 0.2 0.5-1 0.5 0.8 0.5-0.2 0.5 1.3 0.5 0.3 0.5-1.3 0.5 0.7 0.5-1.7 0.5 4.9 0.5-3.9 0.5 0.5 0.5-2.6 0.5 2.4 0.5-0.8 0.5-0.9 0.5-0.6 0.5 3.5 0.5-1.1 0.5-2.5 0.5 0.2 0.5 0.8 0.5-1.8 0.5 4.3 0.5-2.4 0.5 0.7 0.5-1.1 0.5 1.4 0.5-1.5 0.5-3.3 0.5 2.5 0.5 0.3 0.5-2 0.5 1.5 0.5-1.8 0.5 4.1 0.5 0.3 0.5 1.5 0.5-1.1 0.5 1.7 0.5-5 0.5 1.9 0.5-0.5 0.5 0.6 0.5 0.4 0.5 0.2 0.5 2 0.5-3.9 0.5 2.7 0.5-3.1 0.5 1.1 0.5 2.9 0.5-1.5 0.5-0.4 0.5-0.4 0.5 0.1 0.5-0.9 0.5 1.2 0.5-0.3 0.5-1 0.5 0.1 0.5 0.8 0.5-1.6 0.5 1.3 0.5-1.5 0.5 0.9 0.5-2 0.5 4.3 0.5-4.6 0.5 2.9 0.5-1.8 0.5 2.6 0.5-0.4 0.5-0.8 0.5 1.2 0.5 0.2 0.5-0.1 0.5-2.7 0.5 4.4 0.5-2.4 0.5-1.8 0.5 2.5 0.5-2.4 0.5 5.4 0.5-1.3 0.5-0.6 0.5 0.3 0.5-0.1 0.5-2.1 0.5 2.3 0.5-2.3 0.5 0.2 0.5 0.8 0.5-3.5 0.5 3.1 0.5-3.7 0.5 3.8 0.5-1.5 0.5 0.3 0.5 1.3 0.5-1.5 0.5 0.1 0.5 1.5 0.5 1.3 0.5-1.7 0.5 1 0.5 0.6 0.5 4.7 0.5-4.7 0.5-3.7 0.5 1.1 0.5 2.5 0.5-2.8 0.5-0.7 0.5 2 0.5-1.9 0.5-0.9 0.5 2 0.5-0.9 0.5-2.8 0.5 1.8 0.5 1.3 0.5-2.2 0.5-0.1 0.5 0.5 0.5 0 0.5 0.8 0.5-4.6 0.5 5.5 0.5-1.9 0.5-0.5 0.5-0.6 0.5 2.4 0.5-1 0.5 1.5 0.5-1.5 0.5 3.3 0.5-4.4 0.5 1.4 0.5-0.5 0.5 1.8 0.5 2.8 0.5-1.1 0.5-0.7 0.5-2.1 0.5 2.7 0.5-1.1 0.5 2 0.5 1.4 0.5-0.1 0.5-0.8 0.5-0.1 0.5 1.8 0.5-1.5 0.5-0.1 0.5-0.7 0.5-0.5 0.5 6.7 0.3-2.2 0.4 3.8 0.3-11.6 0.4 7 0.3 7.9 0.3-11.1 0.4 9.9 0.3 2.1 0.4 1.8 0.3 0.1 0.3 11 0.4-6.1 0.3-3.6 0.4 0.9 0.3 1.3 0.3 1.4 0.4 3.4 0.3 5.1 0.4-4 0.3-7.8 0.3 1.6 0.4 3 0.3-1.9 0.4-6.2 0.3 7.5 0.3 1.9 0.4-11.4 0.3 12.1 0.4 4 0.3-5.7 0.3 8.7 0.4 0.2 0.3 1 0.4-2.8 0.3 9 0.3-2.4 0.4 10.3 0.3-1.2 0.4-0.1 0.3 1.2 0.3-3.7 0.4 8.6 0.3 0.3 0.4 0.4 0.3-1.6 0.3-3.8 0.4 1.1 0.3-3.4 0.4 5.6 0.3-4.5 0.3 1.3 0.4 2.1 0.3-0.4 0.4-0.2 0.3 1.8 0.3-0.5 0.4 5.4 0.3-1.1 0.4-3.5 0.3-1.8 0.3 0.4 0.4 3.1 0.3 2.6 0.4-2.7 0.3 0.6 0.3 4 0.4-6.6 0.3-1.1 0.4 3 0.3 4.1 0.3-5.6 0.4-1 0.3 3.9 0.4-7.2 0.3 0.8 0.3-2.3 0.4 5.2 0.3-2.2 0.4-1 0.3-3.4 0.3 5.9 0.4-2.6 0.3-7.3 0.4 6.7 0.3 3.1 0.3-8 0.4 2.2 0.3 10.3 0.4-9.8 0.3 9.1 0.3-5.1 0.4-3.1 0.3 1.3 0.4 6.5 0.3-1.6 0.3-9.9 0.4 3.2 0.3 2.5 0.4-2.5 0.3 3.3 0.3 2.5 0.4-0.5 0.3-6.4 0.4 4.7 0.3-5.6 0.3-0.8 0.4 2.4 0.3 2.9 0.4-1.1 0.3 1.8 0.3-2.8 0.4-4.2 0.3 3.8 0.4-6.5 0.3 5.8 0.3 2.5 0.4 2.3 0.3-2.7 0.4 2.4 0.3-7.1 0.3 1.9 0.4-7.2 0.3 5 0.4-1.1 0.3 5.4 0.3-1.8 0.4-4.6 0.3 0.9 0.4 2.4 0.3-2.3 0.3-2.5 0.4-1.7 0.3 0.3 0.4 2.2 0.3-0.9 0.3-3 0.4 1.8 0.3 4.5 0.4-2.9 0.3-5.1 0.3-4.1 0.4 3.1 0.3 5.8 0.4 0.1 0.3-11.2 0.3 7.4 0.4 2.1 0.3-2.2 0.4-1.7 0.3 1.4 0.3-0.5 0.4-5.5 0.3 5.5 0.4 0.6 0.3-3.4 0.3 0.9 0.4 0 0.3-0.9 0.4 3.5 0.3-2.7 0.3 1.4 0.4-6.2 0.3 6.1 0.4-1.9 0.3-4.7 0.3 5.1 0.4-2.7 0.3 2.9 0.4-1.3 0.3 0.9 0.3-1.5 0.4-0.3 0.3 6.4 0.4-8.3 0.3 0.6 0.3 2.6 0.4 0.5 0.3-2.5 0.4 2.3 0.3-9.2 0.3 3.1 0.4 3.4 0.3 0.4 0.4-3.4 0.3 5.8 0.3-0.7 0.4-6 0.3 7.7 0.4-4.4 0.3 2 0.3-2.4 0.4-2.6 0.3 1.7 0.4-4.2 0.3 2.6 0.3-4.6 0.4 2.8 0.3-4.3 0.4 0.1 0.3 4.3 0.3 8.9 0.4-5.3 0.3-0.9 0.4 3.1 0.3-3 0.3-5.7 0.4 6.2 0.3-2.5 0.4-4.5 0.3 7 0.3-0.2 0.4-3.6 0.3 3.5 0.4-3.8 0.3-1.5 0.3-0.3 0.4 2.8 0.3 0.4 0.4-2.9 0.3 1 0.3-2 0.4-4.2 0.3 10.6 0.4-8.5 0.3 5 0.3-4.7 0.4 3.2 0.3 0.9 0.4-0.8 0.3-3.9 0.3 2.2 0.4-2.1 0.3 7.6 0.4-2.6 0.3 0.3 0.3-1.3 0.4-5.1 0.3 0.1 0.4-7.1 0.3 16.2 0.3-3.8 0.4 2.3 0.3-2.3 0.4-2.7 0.3-1.3 0.3-6.1 0.4 9.9 0.3 0.5 0.4 0.9 0.3-10.3 0.3 8.8 0.4-4 0.3-2.9 0.4 7.1 0.3-3.8 0.3 5 0.4-5.1 0.3 6.2 0.4-3.8 0.3-0.9 0.3-1.1 0.4-4 0.3 0.4 0.4-0.7 0.3 0.6 0.3 9.6 0.4-5.5 0.3-4.7 0.4-0.2 0.3 1.1 0.3 3.1 0.4-3.4 0.3 2.9 0.4 2.9 0.3-5.7 0.3 3.1 0.4 0.9 0.3-1.9 0.4-0.3 0.3 4.1 0.3 2.1 0.4-2.7 0.3 0.2 0.4-3.2 0.3-1.6 0.3 1.5 0.4 3.1 0.3 0.7 0.4-5.1 0.3 1.8 0.3-1.6 0.4-1.4 0.3 2.9 0.4 1.4 0.3-2.5 0.3-2.5 0.4 10.2 0.3-5.8 0.4 0.2 0.3-0.6 0.3 1.8 0.4 4 0.3-0.7 0.4-4.1 0.3 6.3 0.3-1.4 0.4 1.7 0.3-4.9 0.4-1.2 0.3 7.3 0.3-0.3 0.4 7.1 0.3-10.7 0.4-0.9 0.3 2.1 0.3 5.9 0.4-5.4 0.3-5.1 0.4 9.3 0.3-1.8 0.3-5 0.4 4.9 0.3-4.4 0.4 5.4 0.3-0.4 0.3 4.6 0.4-2.3 0.3-1.2 0.4-1.6 0.3-3.7 0.3 1.8 0.4 2.8 0.3-4.9 0.4 0.8 0.3 4.6 0.3-1.8 0.4-0.4 0.3 0.6 0.4 1.7 0.3-2.4 0.3-2.2 0.4 3.4 0.3-3.4 0.4-2.5 0.3 2.8 0.3 4.2 0.4-11.6 0.3 3.2 0.4 1.1 0.3 2.4 0.3 3.4 0.4 8.5 0.3-13.4 0.4-0.7 0.3 9.2 0.3-5.4 0.4 0.9 0.3-5.1 0.4 8.8 0.3-7.9 0.3 2.8 0.4 4.3 0.3 0.9 0.4-6.4 0.3-3.3 0.3 6.6 0.4-2.4 0.3-0.6 0.4-3.1 0.3 1.8 0.3 1.7 0.4 0.5 0.3-0.5 0.4-4.1 0.3-1.6 0.3 3.1 0.4 0.1 0.3 4.7 0.4-6.5 0.3 2.6 0.3-4.8 0.4 8.6 0.3-10 0.4 3.8 0.3-0.5 0.3-1.1 0.4 10.9 0.3-11.7 0.4 0.8 0.3 2.5 0.3-4.3 0.4 1.4 0.3 2.9 0.4-2 0.3-0.4 0.3-2.6 0.4-6.8 0.3 8.1 0.4-5.5 0.3 9.6 0.3-0.7 0.4 0.2 0.3-3.3 0.4-0.1 0.3-4.7 0.3 4.7 0.4 0.8 0.3-3.3 0.4 4.9 0.3-2.3 0.3-2.9 0.4 3.1 0.3-7 0.4 2.4 0.3 1.4 0.3-0.5 0.4-2.3 0.3 10 0.4-9.1 0.3 4.3 0.3-7.5 0.4 9.2 0.3-5.2 0.4-5.2 0.3-3.7 0.3 6 0.4-0.2 0.3-0.9 0.4 2.9 0.3 0.6 0.3 1.7 0.4-4.2 0.3-1.6 0.4 3.5 0.3-3 0.3 0.4 0.4 3.6 0.3-6.9 0.4 5.3 0.3-6.1 0.3 0.1 0.4 1.3 0.3 0.4 0.4 2.6 0.3 3 0.3-6.9 0.4 6.1 0.3-8 0.4 1.7 0.3 7.7 0.3-0.2 0.4-7.3 0.3 1.9 0.4 0.3 0.3 1.2 0.3-2.2 0.4-0.7 0.3 2.9 0.4-2.1 0.3 1.2 0.3-1.8 0.4 2.8 0.3-6.7 0.4 2 0.3 2.9 0.3 0.6 0.4-6.2 0.3-1.6 0.4 2.4 0.3 6.4 0.3-3 0.4-1.1 0.3 1.2 0.4-3.9 0.3-0.2 0.3 0.3 0.4-2.8 0.3 3.1 0.4 1.6 0.3 2.8 0.3-5.6 0.4 7.1 0.3-11.7 0.4 1.9 0.3 1.3 0.3 3.4 0.4-1.9 0.3 2.9 0.4-1.6 0.3-2.8 0.3 2.1 0.4 0.5 0.3-2.5 0.4 1.2 0.3-1 0.3-0.6 0.4 3.6 0.3-0.8 0.4-3.2 0.3-2.3 0.3 4.1 0.4-2.2 0.3 2 0.4-3.3 0.3 5.3 0.3-5.7 0.4-4.1 0.3 8.3 0.4-3.7 0.3 3.8 0.3-5.8 0.4 7.1 0.3-7.9 0.4 5.3 0.3 5.1 0.3-4.4 0.4 2 0.3-0.4 0.4-1.5 0.3-6.3 0.3 1.6 0.4-4.3 0.3 5.3 0.4 0.5 0.3 9.6 0.3-5.8 0.4-1.1 0.3 2 0.4-3.8 0.3 7.9 0.3-4.8 0.4 0.3 0.3 1.5 0.4-1.7 0.3-1.2 0.3-3.6 0.4-0.6 0.3-0.8 0.4 1.3 0.3 6.6 0.3-1 0.4 3.5 0.3-6.6 0.4-3.2 0.3 4.2 0.3-1.4 0.4-0.9 0.3 2.7 0.4-5.5 0.3 4.7 0.3-2.6 0.4 4.7 0.3-9 0.4 3.5 0.3 1.8 0.3-0.2 0.4-3.5 0.3 7 0.4-5.2 0.3-1.1 0.3 2.3 0.4-2.3 0.3 1.6 0.4 1.3 0.3-6.8 0.3 5.3 0.4-3 0.3 3.2 0.4 1.7 0.3-1.4 0.3 5.2 0.4 0.3 0.3-1.9 0.4-2.4 0.3 0 0.3-3.1 0.4 8.8 0.3-2.9 0.4-6.9 0.3 6.9 0.3-6.2 0.4 2.9 0.3 2.5 0.4-3.6 0.3 4.5 0.3-11.2 0.4 6.2 0.3 1.8 0.4 2 0.3-2.5 0.3-2.2 0.4 4.1 0.3-4.7 0.4 6.9 0.3 0.7 0.3 4.1 0.4 0.9 0.3-10.4 0.4 6.5 0.3 1.6 0.3-8.5 0.4 10.1 0.3-6.5 0.4-0.2 0.3-1.2 0.3 2.5 0.4 5.6 0.3-5.4 0.4 8.7 0.3 2 0.3 3 0.4-7.5 0.3 1.2 0.4-2.9 0.3 6.4 0.3 3 0.4-1.8 0.3-5.3 0.4 0 0.3 11.1 0.3-9.6 0.4 0 0.3 2.5 0.4 1.6 0.3 0.1 0.3 0.7 0.4-0.4 0.3 0.4 0.4-3.2 0.3 1.3 0.3 0.9 0.4-1.1 0.3 0.1 0.4 1 0.3 1.1 0.3-1.3 0.4 0.9 0.3 1 0.4-2.6 0.3 3.7 0.3-4.6 0.4 4.4 0.3-4.2 0.4-2.8 0.3 1.8 0.3 1.1 0.4 0.1 0.3-1.8 0.4 4.6 0.3-2.5 0.3 0.2 0.4 0.8 0.3-0.7 0.4-1.4 0.3-0.7 0.3 1.8 0.4-2.6 0.3 0.3 0.4-2.7 0.3 1.4 0.3 1.6 0.4-0.6 0.3-6.5 0.4 4.9 0.3 4.3 0.3-0.5 0.4-4.8 0.3 3.1 0.4-1.7 0.3 1.9 0.3-3.2 0.4-0.3 0.3 2.7 0.4-1.8 0.3-0.4 0.3-3.2 0.4 5.9 0.3-2.2 0.4 1 0.3-2.1 0.3-3.1 0.4 2.5 0.3 5.5 0.4-5.9 0.3-0.8 0.3 2.7 0.4 0.2 0.3-3.9 0.4 2.9 0.3-0.6 0.3-1 0.4 3 0.3-4.4 0.4 1.8 0.3-0.7 0.3 1.5 0.4-3.8 0.3 0 0.4-0.6 0.3-0.5 0.3 3.7 0.4-1.9 0.3 0.8 0.4-3.3 0.3 1.9 0.3 0.7 0.4-0.5 0.3-0.9 0.4 1.5 0.3-0.7 0.3-0.2 0.4 3.8 0.3-1.1 0.4-1.6 0.3 2.5 0.3-3.5 0.4-2.4 0.3 3.9 0.4-0.8 0.3 0.8 0.3-1.1 0.4-0.3 0.3-0.6 0.4 0.1 0.3 1.7 0.3-1.7 0.4 0.4 0.3-0.8 0.4 0.1 0.3 4.3 0.3-0.6 0.4-1.3 0.3-2.2 0.4 3.7 0.3-4.4 0.3 2.3 0.4-0.1 0.3-1.6 0.4 4 0.3 0.5 0.3-1.3 0.4 1 0.3 1.2 0.4-0.6 0.3 2.5 0.3-6.6 0.4 5.8 0.3 1.9 0.4-1.1 0.3-0.3 0.3 1.6 0.4-0.2 0.3 2.3 0.4-3.1 0.3-2.2 0.3 1.4 0.4 0.6 0.3 3 0.4-1.3 0.3-2.3 0.3-1 0.4 3.9 0.3-2.1 0.4-1.9 0.3 2.5 0.3 1.9 0.4-0.3 0.3 0.6 0.4 2.8 0.3-2.5 0.3 1.8 0.4-0.2 0.3 1.9 0.4-0.9 0.3-0.7 0.3 0 0.4 1.3 0.3-4.9 0.4 1.6 0.3-2.5 0.3 5.1 0.4-2.7 0.3 1.4 0.4 2.2 0.3 0.8 0.3-2 0.4 2.7 0.3-2.5 0.4 3.6 0.3-4 0.3 5 0.4-4 0.3 0.2 0.4 9.8 0.3-8.6 0.3-2.6 0.4 5.6 0.3 1 0.4-4.3 0.3 0.7 0.3 0.7 0.4-1.9 0.3 2.3 0.4-1.6 0.3 5.2 0.3 0 0.4 0.5 0.3-0.7 0.4-1.5 0.3-1.1 0.3 3.2 0.4-3.2 0.3 4 0.4-9.9 0.3 6.3 0.3 3.2 0.4-2.3 0.3 1.4 0.4 0.6 0.3 2 0.3 0.8 0.4-6 0.3 4.4 0.4 1.5 0.3-2.7 0.3 3.4 0.4 1.4 0.3-3.7 0.4-0.7 0.3 0.1 0.3-0.2 0.4 0.6 0.3 0.3 2 0 2-2.3 2-5 2-4.4 2-3 2-0.8 2-0.2 2-0.7 2-0.2 2-0.4 2-0.9 2-0.5 2-0.6 2-1.3 2 0 2-0.5 2-0.2 2-0.5 2-0.3 2-0.1 2-0.4 2-0.4 2 0.1 2-0.1 2-0.2 2-0.6 2-0.1 2-0.2 2 0 2-0.6 2 0 2-0.6 2 0.1 2-0.2 2-0.7 2-0.1 2-0.4 2-0.5 2-0.4 2-0.5 2-0.4 2-1 2-0.3 2-0.7 2-1.3 2 0.4 2-0.1 2-0.7 2 0.5 2-0.5 2-0.2 2 0.3 2-0.3 2 0.6 2 0.9 2 0.6 2 0.4 2 0.8 2 0.5 2 1.1 2 1 2 0.1 2 0.7 2 0.4 2 0.4 2-0.1 2 0.4 2-1.6 2-2 2-1.8 2-1.5 2-0.1 2 0.2 2 0.3 2 0.4 2 0.3 2 0.6 2 0.6 2 0.9 2 0.5 2 1.1 2 0.6 2 0.9 2 1.1 2 1.2 2 1.4 2 1.9 2 1.8 2 2 2 2.2 2 3.1 2 3.6 2 8.2 2 11.1 2 13.6 2 12.6 2 10.7 2 11.9 2 9.3 2-1.8 2-30.1 2-47.1 2-45.8 2-39.6 2-33.5 2-17.6 2-14.4 2-6.6 2 7.8 2 23.6 2 28.2 2 21.3 2 5.4 2-1.6 2 1 2 21.5 2 35.4 2 34.5 2 19.8 2-9.6 2-37.4 2-42 2-25.3 2 7.7 2 30.3 2 35.5 2 22.2 2-0.1 2-5.5 2-8.8 2-9.6 2-8.6 2-6.7 2-1.1 2 3.9 2 7.8 2 9.5 2 7.9 2 5.6 2-0.1 2-2.4 2-2.1 2-1.5 2 0.7 2 1.3 2 1.6 2 1.1 2 1 2 0.7 2-1.5 2-3.6 2-5 2-5 2-4.2 2-3.6 2-0.7 2-0.6 2 0.2 2 0.6 2 0.8 2 0.3 2-0.2 2-0.2 2 0.3 2-0.1 2 0 2-0.4 2-0.7 2-0.3 2-0.6 2-0.3 2-0.7 2-0.3 2-1.1 2-0.1 2-0.5 2-0.6 2-0.3 2-0.7 2-0.1 2-1.1 2-0.1 2-0.3 2-0.1 2 0 2 0.4 2-0.2 2-0.5 2 0.3 2-0.1 2 0.4 2-0.1 2 0.1 2 0.1 2 0.1 2-0.1 2 0.5 2-0.4 2 0.5 2-0.2 2 0.6 2-0.3 2 0.1 2 0.1 2 0.2 2-0.2 2 0.6 2 0.4 2-0.1 2 0.4 2-0.1 2 0.3 2 0.3 2 0.6 2 0.1 2 0.1 2 0.6 2 0 2 0 2 0.8 2 0 2 0.2 2 0.4 2 0.5 2 0.3 2 0.4 2 0.7 2 0.6 2 0.8 2 0.6 2 0.9 2 0.9 2 0.7 2 1.3 0.4-0.5 0.3-2.2 0.3 1.2 0.4 4.7 0.3 0.6 0.4-4.8 0.3-0.6 0.3 3.6 0.4 0.1 0.3 0.5 0.4-0.3 0.3-3 0.3 2.2 0.4-2.8 0.3 1.3 0.4 0.3 0.3-2.8 0.3-2.7 0.4 3.3 0.3 3.1 0.4 2.1 0.3-5.5 0.3 4.8 0.4-1.2 0.3-2.1 0.4 0.9 0.3 1.1 0.3-2.4 0.4-0.8 0.3 1.3 0.4 2.4 0.3-0.8 0.3 1.1 0.4 2.2 0.3 0.6 0.4-0.6 0.3-3.3 0.3 3.3 0.4-6.8 0.3 5.1 0.4-2.3 0.3 0.8 0.3-1 0.4 3 0.3-2.5 0.4 0 0.3-1 0.3-0.8 0.4 0.2 0.3 1.8 0.4-1.8 0.3 0.2 0.3 1 0.4 1.7 0.3-1.3 0.4 0.8 0.3 0.4 0.3-0.2 0.4-1.4 0.3 0.3 0.4 3.4 0.3 0.4 0.3-2.4 0.4 0.1 0.3 2.1 0.4-1.6 0.3-1.9 0.3 4.1 0.4-3.5 0.3 5.6 0.4-6.4 0.3 0 0.3 4 0.4 1.9 0.3-3 0.4 3.9 0.3-6.3 0.3 3.2 0.4-1.7 0.3-0.9 0.4 1.9 0.3-1.6 0.3 1.6 0.4-0.6 0.3 0.1 0.4 2.6 0.3-4.2 0.3 2.2 0.4 0.8 0.3-2.3 0.4 0.9 0.3-0.4 0.3-0.1 0.4 1 0.3 0.6 0.4 1.3 0.3-0.8 0.3-2.5 0.4 1.3 0.3-1.5 0.4-0.3 0.3-2.8 0.3-1 0.4 3.1 0.3 1.8 0.4 0.9 0.3 2.2 0.3-2.2 0.4 1 0.3-4.7 0.4 2.1 0.3 1.4 0.3-1.6 0.4-0.4 0.3 0.4 0.4 0.3 0.3 0 0.3-0.6 0.4-1.9 0.3 1.8 0.4-0.1 0.3-3.7 0.3-1.2 0.4 2.3 0.3-5.2 0.4-0.9 0.3 0.1 0.3 1.4 0.4-1.6 0.3 3.1 0.4-2.1 0.3-2.2 0.3 3.9 0.4-5.1 0.3 3.7 0.4-0.5 0.3-1.8 0.3 2.4 0.4-0.3 0.3 3 0.4-5.6 0.3 1.1 0.3 0.1 0.4 1.4 0.3-0.4 0.4-3.5 0.3-1.1 0.3 7.7 0.4-1 0.3-1.4 0.4-2.9 0.3 0.4 0.3 5 0.4 0 0.3-0.7 0.4-1.5 0.3 1.3 0.3-1.3 0.4-1.3 0.3 2.9 0.4-1.8 0.3-2.5 0.3 3.9 0.4-0.3 0.3-1.1 0.4-0.6 0.3 4.8 0.3-4.1 0.4 2.6 0.3-3.3 0.4 6.2 0.3-6.2 0.3 1.7 0.4 2.2 0.3-3.8 0.4 3.5 0.3-0.3 0.3-1.1 0.4-0.5 0.3-2 0.4 3.2 0.3 0.4 0.3 1.5 0.4-3.4 0.3 0.1 0.4-0.4 0.3-0.5 0.3-2.7 0.4 2.8 0.3 2.4 0.4-2.4 0.3-0.8 0.3 0.9 0.4-0.9 0.3-0.2 0.4 5.6 0.3 1.2 0.3-3.7 0.4 2 0.3-5.2 0.4 4.8 0.3-2.3 0.3 0.2 0.4-6 0.3 10.3 0.4-6 0.3 6.2 0.3 0.2 0.4-3.2 0.3 0.3 0.4-0.4 0.3-1.2 0.3 0.6 0.4 1.5 0.3-0.5 0.4-3 0.3 1.4 0.3-1 0.4-2.1 0.3 5.3 0.4-1.2 0.3 0 0.3 3.2 0.4-2.5 0.3-1.9 0.4 2.7 0.3-3.6 0.3 3.1 0.4 0 0.3 1 0.4-1.5 0.3-0.8 0.3 2.4 0.4-0.9 0.3 0.3 0.4 1.1 0.3 1.8 0.3 0.6 0.4-1.7 0.3-2.1 0.4 3.1 0.3-2.6 0.3-0.9 0.4 2.2 0.3 0.4 0.4-0.8 0.3-3.7 0.3 5.8 0.4-6.9 0.3 6.2 0.4-0.4 0.3 3.1 0.3-1.1 0.4-4.4 0.3 2 0.4-1.6 0.3 1.8 0.3 2.8 0.4-1.1 0.3-0.4 0.4 0.7 0.3-0.6 0.3-1 0.4-1.2 0.3 0.6 0.4-1.3 0.3 0.9 0.3 2.8 0.4-0.1 0.3 0.3 0.4-3.4 0.3-1.6 0.3 3.5 0.4 1.6 0.3-1.1 0.4-3.6 0.3 2.9 0.3-1.1 0.4-1.7 0.3 2.1 0.4 2.6 0.3 1.2 0.3 2.8 0.4-6.9 0.3 3.7 0.4-3.3 0.3-0.7 0.3 0.8 0.4 0.6 0.3 3.1 0.4-3.9 0.3 4.6 0.3-3.9 0.4 2.8 0.3 0.4 0.4-1.5 0.3 2.2 0.3-5.8 0.4 3.8 0.3-2.8 0.4 0.1 0.3 8.4 0.3-5.6 0.4 0.2 0.3-0.2 0.4-0.4 0.3 1.6 0.3-2.2 0.4-1.1 0.3 3.8 0.4-1.8 0.3-0.7 0.3-0.5 0.4 0.3 0.3 3.6 0.4-3.7 0.3 3.2 0.3-1.7 0.4-0.2 0.3 5.6 0.4-7.7 0.3 6.5 0.3-7.4 0.4 1.5 0.3 2.2 0.4-4.6 0.3 5.2 0.3-3.5 0.4 8.4 0.3-7 0.4 11 0.3-10.3 0.3-6.7 0.4 6.3 0.3-3.2 0.4 2 0.3 0.7 0.3 1.3 0.4-0.1 0.3 1.5 0.4 0 0.3-6.2 0.3-2.2 0.4 4.6 0.3-5.3 0.4 10.2 0.3-10.5 0.3-2.5 0.4 7.5 0.3 2.1 0.4-5.3 0.3-0.7 0.3-8.3 0.4 7.6 0.3-0.4 0.4-3.2 0.3 3.1 0.3 2.1 0.4-4.8 0.3 0 0.4 5.4 0.3-14 0.3 18.6 0.4-9 0.3-2.5 0.4-3.6 0.3 5.6 0.3-2.8 0.4 7.3 0.3-7.6 0.4-3.7 0.3 2.6 0.3 3.5 0.4 1.3 0.3-1.8 0.4 0.8 0.3 0.3 0.3-6.7 0.4 8 0.3-4.4 0.4-0.9 0.3 0.8 0.3 5.1 0.4-3.4 0.3 6.2 0.4-4.3 0.3 4.1 0.3-8.1 0.4 10.1 0.3-2.8 0.4-7.9 0.3 2 0.3 3.5 0.4 2.2 0.3-15 0.4-0.9 0.3 1.9 0.3 6.1 0.4 9.5 0.3-7.6 0.4-2.2 0.3-6.9 0.3 16 0.4 1 0.3-10.3 0.4-3.6 0.3 1.6 0.3 2.4 0.4-1.3 0.3 8.5 0.4-7.7 0.3 0.5 0.3 11.2 0.4-11 0.3 2.5 0.4-0.2 0.3-1.1 0.3 1.1 0.4-9.5 0.3 6.5 0.4 1.3 0.3-1.1 0.3-4.3 0.4 8.7 0.3-3.7 0.4 2.9 0.3 2.4 0.3-4.3 0.4-8.4 0.3 11.3 0.4-6 0.3-0.9 0.3 3.5 0.4-3.1 0.3 0.3 0.4-2.9 0.3 0.1 0.3 10 0.4-5.3 0.3-3.7 0.4-1.8 0.3 9.3 0.3-12.3 0.4 1.8 0.3 8.8 0.4-8.7 0.3 0.4 0.3 6.3 0.4-10.5 0.3 14.3 0.4-4.5 0.3 1.2 0.3-2.3 0.4 1.1 0.3-6.3 0.4-4 0.3 8.4 0.3 1.6 0.4-6.3 0.3 7.4 0.4-0.6 0.3-4.5 0.3-4.4 0.4-2.2 0.3 5.3 0.4-0.5 0.3-6.9 0.3 9.6 0.4-10.2 0.3 8.2 0.4-5.3 0.3-3.8 0.3-0.4 0.4 3.8 0.3-4.3 0.4-2.1 0.3-1.1 0.3 8.9 0.4-2.3 0.3-1.8 0.4 4.8 0.3-5.1 0.3 2.2 0.4-5.6 0.3-10.7 0.4 7.5 0.3-3.9 0.3 4.3 0.4 0.4 0.3 1.7 0.4-1.1 0.3 8.4 0.3-5.5 0.4-8 0.3 0.8 0.4 3.8 0.3-9 0.3 3.5 0.4-4 0.3 0.2 0.4 1.9 0.3-7.7 0.3 5.2 0.4-8.7 0.3 12.4 0.4-0.2 0.3-6.1 0.3 4.9 0.4 0.2 0.3-10.6 0.4 10.8 0.3-0.3 0.3-1.3 0.4 0.8 0.3-2.1 0.4 2 0.3-1.3 0.3 3.2 0.4-6.1 0.3 1.3 0.4 0.7 0.3 5.5 0.3-7.6 0.4 4.3 0.3-4.7 0.4-1.5 0.3 1.8 0.3-1.2 0.4 1.8 0.3 1 0.4 4.4 0.3 0.4 0.3 0.5 0.4-2 0.3 2.9 0.4 4.8 0.3 1.2 0.3-3.5 0.4 1.6 0.3 10.6 0.4-10.1 0.3-5.1 0.3 12.3 0.4 1.7 0.3-5 0.4 4.7 0.3-0.2 0.3-0.5 0.4 2.5 0.3 1 0.4-6 0.3 4.4 0.3 2.5 0.4-2.3 0.3 0.1 0.4 4.5 0.3-2.6 0.3 8.1 0.4-2.4 0.3-6.7 0.4 1.9 0.3 4.7 0.3-1.9 0.4 4.5 0.3 1.1 0.4-11.9 0.3-1.5 0.3 7.2 0.4-0.8 0.3-1.2 0.4 2.5 0.3 0.3 0.3 1 0.4 2.4 0.3-3.3 0.4 3.6 0.3-7.5 0.3 10 0.4-6.9 0.3 12.3 0.4-8.2 0.3 3.4 0.3-6.7 0.4 1.5 0.3 0.4 0.4 2.2 0.3-0.8 0.3 4.5 0.4 1.5 0.3 15.7 0.4-17.8 0.3-4.1 0.3-1.1 0.4 5.9 0.3-9.1 0.4 6.7 0.3-3.3 0.3-1 0.4-0.9 0.3-0.5 0.4 3.9 0.3-0.2 0.3-9.3 0.4 14.6 0.3-17.5 0.4 11.7 0.3 0.5 0.3-7.8 0.4 5.9 0.3 2.7 0.4 1.7 0.3-6.5 0.3 4.9 0.4-7.7 0.3 3 0.4-1 0.3-3.1 0.3 6.2 0.4 0.6 0.3-4 0.4 7.8 0.3 5.6 0.3-7.9 0.5 1 0.5-0.2 0.5 2.2 0.5-0.6 0.5-2.3 0.5 0.9 0.5-2.3 0.5-0.9 0.5 3.6 0.5 0.1 0.5-1.2 0.5 3.7 0.5-1.9 0.5 1.5 0.5-1 0.5-1.4 0.5 1 0.5 0 0.5-2.3 0.5 0.9 0.5-2.5 0.5 3.1 0.5 0.3 0.5-0.6 0.5 1.7 0.5-3.1 0.5-0.1 0.5 0.9 0.5 1.2 0.5-0.4 0.5-1.1 0.5 2 0.5-2.6 0.5 4.2 0.5-2.1 0.5 1.8 0.5-3.9 0.5 1 0.5 1.8 0.5-0.2 0.5-2.7 0.5 3.1 0.5-0.7 0.5 0.2 0.5-1.4 0.5 2.4 0.5-2.6 0.5 0.2 0.5 0.3 0.5 0.1 0.5-1.2 0.5 1.9 0.5-1.3 0.5 1.6 0.5-2 0.5 0.6 0.5 0.9 0.5-0.3 0.5-0.3 0.5-0.2 0.5-0.8 0.5-1.3 0.5 1 0.5 1.8 0.5-0.3 0.5-0.6 0.5 2 0.5 0.2 0.5-0.7 0.5-1.6 0.5 0.8 0.5-0.7 0.5 1.1 0.5 0.3 0.5-1.3 0.5 0.8 0.5-1 0.5 0.1 0.5-0.1 0.5 1.5 0.5-1 0.5-0.9 0.5 1.6 0.5-0.8 0.5 0.6 0.5-0.4 0.5-0.1 0.5 1 0.5 0.3 0.5 1.3 0.5-2.8 0.5-0.4 0.5 2.2 0.5-1.5 0.5-0.5 0.5-1.2 0.5 3.2 0.5 0.3 0.5-3.1 0.5 1.3 0.5-0.4 0.5 2 0.5-1.5 0.5 1.1 0.5-2.1 0.5 3.1 0.5 0.6 0.5-2.3 0.5-0.6 0.5 0.9 0.5-2.4 0.5 1.7 0.5 0.1 0.5-0.8 0.5 1.6 0.5-0.9 0.5 1.9 0.5-1.9 0.5 1.5 0.5-1.4 0.5 0.6 0.5-2 0.5 2 0.5-1.6 0.5-0.9 0.5 2 0.5-1.1 0.5 1.3 0.5 0.7 0.5-0.8 0.5 1.5 0.5-3.3 0.5-1 0.5 3.6 0.5-2.3 0.5 0 0.5 2.2 0.5-0.3 0.5 0.1 0.5-0.1 0.5-2.8 0.5 1.3 0.5-0.5 0.5-0.2 0.5-0.5 0.5 1.6 0.5-1.2 0.5-1.6 0.5 0.6 0.5-1.2 0.5-2.5 0.5 4.5 0.5-2.4 0.5-1.1 0.5 0.2 0.5 0.4 0.5-1.3 0.5 2.1 0.5-1 0.5 0.6 0.5-0.9 0.5-0.1 0.5-2.2 0.5 1.6 0.5 0.2 0.5-1.5 0.5 0.2 0.5 0.7 0.5-0.6 0.5-1.9 0.5 0.6 0.5 0.2 0.5 0.2 0.5 2.6 0.5-3.7 0.5 2 0.5-0.9 0.5 1.1 0.5 2.8 0.5-1.2 0.5 2.3 0.5 0.2 0.5-2.2 0.5 2.5 0.5 2.5 0.5-1.1 0.5 2.7 0.5-3.5 0.5 4.5 0.5-2.3 0.5 1.6 0.5 1.1 0.5-0.7 0.5-1.7 0.5 2.2 0.5 1.4 0.5-2.6 0.5-0.3 0.5 1.3 0.5 0.2 0.5 0.1 0.5-1 0.5-0.5 0.5 0.2 0.5 0.9 0.5-1.1 0.5 1.5 0.5-1.5 0.5-0.3 0.5 2.3 0.5-1.2 0.5 0.7 0.5-1.7 0.5 1.5 0.5-2.8 0.5 2 0.5 1.8 0.5-1.2 0.5-1.2 0.5-0.9 0.5 2.3 0.5-3.4 0.5 2.6 0.5 4.4 0.5-3.4 0.5 0.5 0.5 0.8 0.5-2.6 0.5 0.3 0.5 0.6 0.5 2.1 0.5-1.8 0.5 2.6 0.5-1.6 0.5-2.2 0.5 1.4 0.5-1.5 0.5 1.1 0.5-1.1 0.5 1.5 0.5-1.7 0.5 0.3 0.5 0.4 0.5 1.7 0.5-0.9 0.5 0.5 0.5-0.4 0.5-0.7 0.5-0.6 0.5 1.6 0.5-2.7 0.5 3.4 0.5-3.3 0.5 2.4 0.5-0.8 0.5-0.4 0.5 1.3 0.5 1.1 0.5-2.1 0.5-1.5 0.5 3.6 0.5-0.9 0.5-1.5 0.5-0.1 0.5-0.1 0.5 0.9 0.5 0.5 0.5-1.3 0.5 0.8 0.5 1.2 0.5 0.7 0.5-2.6 0.5 3.1 0.5-1.7 0.5 1 0.5-0.6 0.5-0.3 0.5-0.8 0.5-0.1 0.5 0.3 0.5-0.7 0.5-0.5 0.5 1.4 0.5-1.9 0.5-0.1 0.5 0.2 0.5 0.9 0.5 0.5 0.5-0.5 0.5-1 0.5 2 0.5-0.1 0.5-1.2 0.5 1.6 0.5-1.1 0.5-0.6 0.5 3.3 0.5-3.3 0.5 3.5 0.5-1.9 0.5-1.5 0.5 1.3 0.5-0.8 0.5 0.6 0.5-0.8 0.5 0.9 0.5 0.3 0.5-0.5 0.5 0.3 0.5-1.8 0.5 2.1 0.5 0.5 0.5-3.1 0.5 2.5 0.5-0.1 0.5-1.6 0.5 0.5 0.5 1.9 0.5-1.8 0.5 0.1 0.5-1.3 0.5 1.3 0.5 1.6 0.5 0.4 0.5-1.6 0.5 1.1 0.5-1.4 0.5 1 0.5-3.4 0.5 1.9 0.5-0.1 0.5 3.6 0.5-3.1 0.5 0.3 0.5 0.8 0.5 1.2 0.5-3.3 0.5-0.5 0.5 2.6 0.5-0.5 0.5 0.8 0.5 0.8 0.5-0.6 0.5-2.7 0.5 0.6 0.5 0.9 0.5 0.8 0.5-3.1 0.5 3.1 0.5-0.3 0.5 0.1 0.5-3 0.5 2.1 0.5-0.9 0.5 0.5 0.5 0.2 0.5-0.1 0.5-1.5 0.5-0.9 0.5 2.7 0.5-1.7 0.5 3.9 0.5-3.4 0.5 0.8 0.5 1.9 0.5-1.2 0.5-2.4 0.5 2.7 0.5-1 0.5 0.4 0.5-0.3 0.5-1.7 0.5 1.3 0.5 0.6 0.5-1.3 0.5 1.8 0.5-0.4 0.5-1.5 0.5 2 0.5-0.4 0.5 0.6 0.5 0.2 0.5-2.3 0.5 0.1 0.5 0.4 0.5 0.9 0.5 0.2 0.5 0.9 0.5 0.1 0.5-2.3 0.5 0.3 0.5-0.4 0.5 2.1 0.5-1.6 0.5 2 0.5 0.1 0.5-1.1 0.5-0.2 0.5-3.4 0.5 2.5 0.5 0.1 0.5 1.2 0.5-0.7 0.5-0.6 0.5 0.9 0.5 1.1 0.5-2.2 0.5 1.9 0.5-0.7" fill="none" stroke="#984ea3" stroke-width="1.2" stroke-linejoin="round"/><path d="M268.7 665.5V1033.2" stroke="#000" stroke-width="3" stroke-dasharray="14 14" stroke-dashoffset="9.5"/><path d="M1221.6 628V1033.2" stroke="#000" stroke-width="3" stroke-dasharray="14 14"/><rect x="130" y="619.6" width="1300" height="413.6" fill="none" stroke="#000" stroke-width="2.4"/><path d="M130 606.6V619.6M130 1033.2V1046.2M156 612.6V619.6M156 1033.2V1040.2M182 612.6V619.6M182 1033.2V1040.2M208 612.6V619.6M208 1033.2V1040.2M234 612.6V619.6M234 1033.2V1040.2M260 606.6V619.6M260 1033.2V1046.2M286 612.6V619.6M286 1033.2V1040.2M312 612.6V619.6M312 1033.2V1040.2M338 612.6V619.6M338 1033.2V1040.2M364 612.6V619.6M364 1033.2V1040.2M390 606.6V619.6M390 1033.2V1046.2M416 612.6V619.6M416 1033.2V1040.2M442 612.6V619.6M442 1033.2V1040.2M468 612.6V619.6M468 1033.2V1040.2M494 612.6V619.6M494 1033.2V1040.2M520 606.6V619.6M520 1033.2V1046.2M546 612.6V619.6M546 1033.2V1040.2M572 612.6V619.6M572 1033.2V1040.2M598 612.6V619.6M598 1033.2V1040.2M624 612.6V619.6M624 1033.2V1040.2M650 606.6V619.6M650 1033.2V1046.2M676 612.6V619.6M676 1033.2V1040.2M702 612.6V619.6M702 1033.2V1040.2M728 612.6V619.6M728 1033.2V1040.2M754 612.6V619.6M754 1033.2V1040.2M780 606.6V619.6M780 1033.2V1046.2M806 612.6V619.6M806 1033.2V1040.2M832 612.6V619.6M832 1033.2V1040.2M858 612.6V619.6M858 1033.2V1040.2M884 612.6V619.6M884 1033.2V1040.2M910 606.6V619.6M910 1033.2V1046.2M936 612.6V619.6M936 1033.2V1040.2M962 612.6V619.6M962 1033.2V1040.2M988 612.6V619.6M988 1033.2V1040.2M1014 612.6V619.6M1014 1033.2V1040.2M1040 606.6V619.6M1040 1033.2V1046.2M1066 612.6V619.6M1066 1033.2V1040.2M1092 612.6V619.6M1092 1033.2V1040.2M1118 612.6V619.6M1118 1033.2V1040.2M1144 612.6V619.6M1144 1033.2V1040.2M1170 606.6V619.6M1170 1033.2V1046.2M1196 612.6V619.6M1196 1033.2V1040.2M1222 612.6V619.6M1222 1033.2V1040.2M1248 612.6V619.6M1248 1033.2V1040.2M1274 612.6V619.6M1274 1033.2V1040.2M1300 606.6V619.6M1300 1033.2V1046.2M1326 612.6V619.6M1326 1033.2V1040.2M1352 612.6V619.6M1352 1033.2V1040.2M1378 612.6V619.6M1378 1033.2V1040.2M1404 612.6V619.6M1404 1033.2V1040.2M1430 606.6V619.6M1430 1033.2V1046.2" stroke="#000" stroke-width="2.4" fill="none"/><path d="M117 942.2H130M1430 942.2H1443M117 826.7H130M1430 826.7H1443M117 711.2H130M1430 711.2H1443M123 1034.6H130M1430 1034.6H1437M123 1011.5H130M1430 1011.5H1437M123 988.4H130M1430 988.4H1437M123 965.3H130M1430 965.3H1437M123 919.1H130M1430 919.1H1437M123 896H130M1430 896H1437M123 872.9H130M1430 872.9H1437M123 849.8H130M1430 849.8H1437M123 803.6H130M1430 803.6H1437M123 780.5H130M1430 780.5H1437M123 757.4H130M1430 757.4H1437M123 734.3H130M1430 734.3H1437M123 688.1H130M1430 688.1H1437M123 665H130M1430 665H1437M123 641.9H130M1430 641.9H1437M123 618.8H130M1430 618.8H1437" stroke="#000" stroke-width="2.4" fill="none"/><text x="106" y="726.1" font-size="30" text-anchor="end" fill="#000">50</text><text x="106" y="840.6" font-size="30" text-anchor="end" fill="#000">0</text><text x="106" y="956.6" font-size="30" text-anchor="end" fill="#000">-50</text><text x="153.6" y="661.1" font-size="39" fill="#000">(b) 1 Hz Sampling Rate</text><text font-size="30" text-anchor="middle" transform="translate(31.3,828) rotate(-90)"><tspan font-style="italic">B</tspan> (nT)</text><text x="1450" y="721.2" font-size="38.4" fill="#377eb8"><tspan font-style="italic">B</tspan><tspan font-size="18.5" dy="6.8">x</tspan></text><text x="1450" y="806" font-size="38.4" fill="#4daf4a"><tspan font-style="italic">B</tspan><tspan font-size="18.5" dy="6.8">y</tspan></text><text x="1450" y="888.7" font-size="38.4" fill="#984ea3"><tspan font-style="italic">B</tspan><tspan font-size="18.5" dy="6.8">z</tspan></text><text x="1450" y="971.4" font-size="38.4" fill="#000"><tspan font-style="italic">B</tspan><tspan font-size="18.5" dy="6.8">t</tspan></text><text font-size="43" text-anchor="middle" transform="translate(1547.5,847) rotate(-90) scale(0.92,1)">MSO</text><g clip-path="url(#kc)"><g filter="url(#fc)"><rect x="-40" y="1057.2" width="1640" height="413" fill="#000"/><rect x="130" y="1057.20" width="1300" height="15.97" fill="url(#c0)"/><rect x="130" y="1072.57" width="1300" height="15.97" fill="url(#c1)"/><rect x="130" y="1087.94" width="1300" height="15.97" fill="url(#c2)"/><rect x="130" y="1103.31" width="1300" height="15.97" fill="url(#c3)"/><rect x="130" y="1118.69" width="1300" height="15.97" fill="url(#c4)"/><rect x="130" y="1134.06" width="1300" height="15.97" fill="url(#c5)"/><rect x="130" y="1149.43" width="1300" height="15.97" fill="url(#c6)"/><rect x="130" y="1164.80" width="1300" height="15.97" fill="url(#c7)"/><rect x="130" y="1180.17" width="1300" height="15.97" fill="url(#c8)"/><rect x="130" y="1195.54" width="1300" height="15.97" fill="url(#c9)"/><rect x="130" y="1210.91" width="1300" height="15.97" fill="url(#c10)"/><rect x="130" y="1226.29" width="1300" height="15.97" fill="url(#c11)"/><rect x="130" y="1241.66" width="1300" height="15.97" fill="url(#c12)"/><rect x="130" y="1257.03" width="1300" height="15.97" fill="url(#c13)"/><rect x="130" y="1272.40" width="1300" height="15.97" fill="url(#c14)"/><rect x="130" y="1287.77" width="1300" height="15.97" fill="url(#c15)"/><rect x="130" y="1303.14" width="1300" height="15.97" fill="url(#c16)"/><rect x="130" y="1318.51" width="1300" height="15.97" fill="url(#c17)"/><rect x="130" y="1333.89" width="1300" height="15.97" fill="url(#c18)"/><rect x="130" y="1349.26" width="1300" height="15.97" fill="url(#c19)"/><rect x="130" y="1364.63" width="1300" height="15.97" fill="url(#c20)"/><rect x="130" y="1380.00" width="1300" height="8.12" fill="url(#c21)"/><rect x="130" y="1387.52" width="1300" height="8.12" fill="url(#c22)"/><rect x="130" y="1395.03" width="1300" height="8.12" fill="url(#c23)"/><rect x="130" y="1402.55" width="1300" height="8.12" fill="url(#c24)"/><rect x="130" y="1410.07" width="1300" height="8.12" fill="url(#c25)"/><rect x="130" y="1417.58" width="1300" height="8.12" fill="url(#c26)"/><rect x="130" y="1425.10" width="1300" height="8.12" fill="url(#c27)"/><rect x="130" y="1432.62" width="1300" height="8.12" fill="url(#c28)"/><rect x="130" y="1440.13" width="1300" height="8.12" fill="url(#c29)"/><rect x="130" y="1447.65" width="1300" height="8.12" fill="url(#c30)"/><rect x="130" y="1455.17" width="1300" height="8.12" fill="url(#c31)"/><rect x="130" y="1462.68" width="1300" height="7.52" fill="url(#c32)"/></g></g><text x="154" y="1098.5" font-size="39.5" fill="#fff">(c) Compressional</text><text x="207.3" y="1142.5" font-size="38.7" fill="#fff">32 Hz Sampling Rate</text><path d="M268.7 1065.6V1470.2" stroke="#000" stroke-width="3" stroke-dasharray="14 14"/><path d="M1221.6 1065.6V1470.2" stroke="#000" stroke-width="3" stroke-dasharray="14 14"/><rect x="130" y="1057.2" width="1300" height="413" fill="none" stroke="#000" stroke-width="2.4"/><path d="M130 1044.2V1057.2M130 1470.2V1483.2M156 1050.2V1057.2M156 1470.2V1477.2M182 1050.2V1057.2M182 1470.2V1477.2M208 1050.2V1057.2M208 1470.2V1477.2M234 1050.2V1057.2M234 1470.2V1477.2M260 1044.2V1057.2M260 1470.2V1483.2M286 1050.2V1057.2M286 1470.2V1477.2M312 1050.2V1057.2M312 1470.2V1477.2M338 1050.2V1057.2M338 1470.2V1477.2M364 1050.2V1057.2M364 1470.2V1477.2M390 1044.2V1057.2M390 1470.2V1483.2M416 1050.2V1057.2M416 1470.2V1477.2M442 1050.2V1057.2M442 1470.2V1477.2M468 1050.2V1057.2M468 1470.2V1477.2M494 1050.2V1057.2M494 1470.2V1477.2M520 1044.2V1057.2M520 1470.2V1483.2M546 1050.2V1057.2M546 1470.2V1477.2M572 1050.2V1057.2M572 1470.2V1477.2M598 1050.2V1057.2M598 1470.2V1477.2M624 1050.2V1057.2M624 1470.2V1477.2M650 1044.2V1057.2M650 1470.2V1483.2M676 1050.2V1057.2M676 1470.2V1477.2M702 1050.2V1057.2M702 1470.2V1477.2M728 1050.2V1057.2M728 1470.2V1477.2M754 1050.2V1057.2M754 1470.2V1477.2M780 1044.2V1057.2M780 1470.2V1483.2M806 1050.2V1057.2M806 1470.2V1477.2M832 1050.2V1057.2M832 1470.2V1477.2M858 1050.2V1057.2M858 1470.2V1477.2M884 1050.2V1057.2M884 1470.2V1477.2M910 1044.2V1057.2M910 1470.2V1483.2M936 1050.2V1057.2M936 1470.2V1477.2M962 1050.2V1057.2M962 1470.2V1477.2M988 1050.2V1057.2M988 1470.2V1477.2M1014 1050.2V1057.2M1014 1470.2V1477.2M1040 1044.2V1057.2M1040 1470.2V1483.2M1066 1050.2V1057.2M1066 1470.2V1477.2M1092 1050.2V1057.2M1092 1470.2V1477.2M1118 1050.2V1057.2M1118 1470.2V1477.2M1144 1050.2V1057.2M1144 1470.2V1477.2M1170 1044.2V1057.2M1170 1470.2V1483.2M1196 1050.2V1057.2M1196 1470.2V1477.2M1222 1050.2V1057.2M1222 1470.2V1477.2M1248 1050.2V1057.2M1248 1470.2V1477.2M1274 1050.2V1057.2M1274 1470.2V1477.2M1300 1044.2V1057.2M1300 1470.2V1483.2M1326 1050.2V1057.2M1326 1470.2V1477.2M1352 1050.2V1057.2M1352 1470.2V1477.2M1378 1050.2V1057.2M1378 1470.2V1477.2M1404 1050.2V1057.2M1404 1470.2V1477.2M1430 1044.2V1057.2M1430 1470.2V1483.2" stroke="#000" stroke-width="2.4" fill="none"/><path d="M117 1470.2H130M1430 1470.2H1443M117 1263.7H130M1430 1263.7H1443M117 1057.2H130M1430 1057.2H1443M123 1408H130M1430 1408H1437M123 1371.7H130M1430 1371.7H1437M123 1345.9H130M1430 1345.9H1437M123 1325.9H130M1430 1325.9H1437M123 1309.5H130M1430 1309.5H1437M123 1295.7H130M1430 1295.7H1437M123 1283.7H130M1430 1283.7H1437M123 1273.1H130M1430 1273.1H1437M123 1201.5H130M1430 1201.5H1437M123 1165.2H130M1430 1165.2H1437M123 1139.4H130M1430 1139.4H1437M123 1119.4H130M1430 1119.4H1437M123 1103H130M1430 1103H1437M123 1089.2H130M1430 1089.2H1437M123 1077.2H130M1430 1077.2H1437M123 1066.6H130M1430 1066.6H1437" stroke="#000" stroke-width="2.4" fill="none"/><text x="105" y="1081.6" font-size="30" text-anchor="end">10<tspan font-size="13.5" dy="-17">1</tspan></text><text x="105" y="1277.9" font-size="30" text-anchor="end">10<tspan font-size="13.5" dy="-17">0</tspan></text><text x="105" y="1471.6" font-size="30" text-anchor="end">10<tspan font-size="13.5" dy="-17">-1</tspan></text><text font-size="30" text-anchor="middle" transform="translate(29,1266.7) rotate(-90)"><tspan font-style="italic">f</tspan> (Hz)</text><g clip-path="url(#kd)"><g filter="url(#fd)"><rect x="-40" y="1494.8" width="1640" height="413" fill="#000"/><rect x="130" y="1494.80" width="1300" height="15.97" fill="url(#d0)"/><rect x="130" y="1510.17" width="1300" height="15.97" fill="url(#d1)"/><rect x="130" y="1525.54" width="1300" height="15.97" fill="url(#d2)"/><rect x="130" y="1540.91" width="1300" height="15.97" fill="url(#d3)"/><rect x="130" y="1556.29" width="1300" height="15.97" fill="url(#d4)"/><rect x="130" y="1571.66" width="1300" height="15.97" fill="url(#d5)"/><rect x="130" y="1587.03" width="1300" height="15.97" fill="url(#d6)"/><rect x="130" y="1602.40" width="1300" height="15.97" fill="url(#d7)"/><rect x="130" y="1617.77" width="1300" height="15.97" fill="url(#d8)"/><rect x="130" y="1633.14" width="1300" height="15.97" fill="url(#d9)"/><rect x="130" y="1648.51" width="1300" height="15.97" fill="url(#d10)"/><rect x="130" y="1663.89" width="1300" height="15.97" fill="url(#d11)"/><rect x="130" y="1679.26" width="1300" height="15.97" fill="url(#d12)"/><rect x="130" y="1694.63" width="1300" height="15.97" fill="url(#d13)"/><rect x="130" y="1710.00" width="1300" height="15.97" fill="url(#d14)"/><rect x="130" y="1725.37" width="1300" height="15.97" fill="url(#d15)"/><rect x="130" y="1740.74" width="1300" height="15.97" fill="url(#d16)"/><rect x="130" y="1756.11" width="1300" height="15.97" fill="url(#d17)"/><rect x="130" y="1771.49" width="1300" height="15.97" fill="url(#d18)"/><rect x="130" y="1786.86" width="1300" height="15.97" fill="url(#d19)"/><rect x="130" y="1802.23" width="1300" height="15.97" fill="url(#d20)"/><rect x="130" y="1817.60" width="1300" height="8.12" fill="url(#d21)"/><rect x="130" y="1825.12" width="1300" height="8.12" fill="url(#d22)"/><rect x="130" y="1832.63" width="1300" height="8.12" fill="url(#d23)"/><rect x="130" y="1840.15" width="1300" height="8.12" fill="url(#d24)"/><rect x="130" y="1847.67" width="1300" height="8.12" fill="url(#d25)"/><rect x="130" y="1855.18" width="1300" height="8.12" fill="url(#d26)"/><rect x="130" y="1862.70" width="1300" height="8.12" fill="url(#d27)"/><rect x="130" y="1870.22" width="1300" height="8.12" fill="url(#d28)"/><rect x="130" y="1877.73" width="1300" height="8.12" fill="url(#d29)"/><rect x="130" y="1885.25" width="1300" height="8.12" fill="url(#d30)"/><rect x="130" y="1892.77" width="1300" height="8.12" fill="url(#d31)"/><rect x="130" y="1900.28" width="1300" height="7.52" fill="url(#d32)"/></g></g><text x="154" y="1536.1" font-size="39.5" fill="#fff">(d) Transverse</text><text x="207.3" y="1580.1" font-size="38.7" fill="#fff">32 Hz Sampling Rate</text><path d="M268.7 1503.2V1908.3" stroke="#000" stroke-width="3" stroke-dasharray="14 14"/><path d="M1221.6 1503.2V1908.3" stroke="#000" stroke-width="3" stroke-dasharray="14 14"/><rect x="130" y="1494.8" width="1300" height="413.5" fill="none" stroke="#000" stroke-width="2.4"/><path d="M130 1481.8V1494.8M130 1908.3V1921.3M156 1487.8V1494.8M156 1908.3V1915.3M182 1487.8V1494.8M182 1908.3V1915.3M208 1487.8V1494.8M208 1908.3V1915.3M234 1487.8V1494.8M234 1908.3V1915.3M260 1481.8V1494.8M260 1908.3V1921.3M286 1487.8V1494.8M286 1908.3V1915.3M312 1487.8V1494.8M312 1908.3V1915.3M338 1487.8V1494.8M338 1908.3V1915.3M364 1487.8V1494.8M364 1908.3V1915.3M390 1481.8V1494.8M390 1908.3V1921.3M416 1487.8V1494.8M416 1908.3V1915.3M442 1487.8V1494.8M442 1908.3V1915.3M468 1487.8V1494.8M468 1908.3V1915.3M494 1487.8V1494.8M494 1908.3V1915.3M520 1481.8V1494.8M520 1908.3V1921.3M546 1487.8V1494.8M546 1908.3V1915.3M572 1487.8V1494.8M572 1908.3V1915.3M598 1487.8V1494.8M598 1908.3V1915.3M624 1487.8V1494.8M624 1908.3V1915.3M650 1481.8V1494.8M650 1908.3V1921.3M676 1487.8V1494.8M676 1908.3V1915.3M702 1487.8V1494.8M702 1908.3V1915.3M728 1487.8V1494.8M728 1908.3V1915.3M754 1487.8V1494.8M754 1908.3V1915.3M780 1481.8V1494.8M780 1908.3V1921.3M806 1487.8V1494.8M806 1908.3V1915.3M832 1487.8V1494.8M832 1908.3V1915.3M858 1487.8V1494.8M858 1908.3V1915.3M884 1487.8V1494.8M884 1908.3V1915.3M910 1481.8V1494.8M910 1908.3V1921.3M936 1487.8V1494.8M936 1908.3V1915.3M962 1487.8V1494.8M962 1908.3V1915.3M988 1487.8V1494.8M988 1908.3V1915.3M1014 1487.8V1494.8M1014 1908.3V1915.3M1040 1481.8V1494.8M1040 1908.3V1921.3M1066 1487.8V1494.8M1066 1908.3V1915.3M1092 1487.8V1494.8M1092 1908.3V1915.3M1118 1487.8V1494.8M1118 1908.3V1915.3M1144 1487.8V1494.8M1144 1908.3V1915.3M1170 1481.8V1494.8M1170 1908.3V1921.3M1196 1487.8V1494.8M1196 1908.3V1915.3M1222 1487.8V1494.8M1222 1908.3V1915.3M1248 1487.8V1494.8M1248 1908.3V1915.3M1274 1487.8V1494.8M1274 1908.3V1915.3M1300 1481.8V1494.8M1300 1908.3V1921.3M1326 1487.8V1494.8M1326 1908.3V1915.3M1352 1487.8V1494.8M1352 1908.3V1915.3M1378 1487.8V1494.8M1378 1908.3V1915.3M1404 1487.8V1494.8M1404 1908.3V1915.3M1430 1481.8V1494.8M1430 1908.3V1921.3" stroke="#000" stroke-width="2.4" fill="none"/><path d="M117 1908.3H130M1430 1908.3H1443M117 1701.5H130M1430 1701.5H1443M117 1494.8H130M1430 1494.8H1443M123 1846.1H130M1430 1846.1H1437M123 1809.7H130M1430 1809.7H1437M123 1783.8H130M1430 1783.8H1437M123 1763.8H130M1430 1763.8H1437M123 1747.4H130M1430 1747.4H1437M123 1733.6H130M1430 1733.6H1437M123 1721.6H130M1430 1721.6H1437M123 1711H130M1430 1711H1437M123 1639.3H130M1430 1639.3H1437M123 1602.9H130M1430 1602.9H1437M123 1577.1H130M1430 1577.1H1437M123 1557H130M1430 1557H1437M123 1540.7H130M1430 1540.7H1437M123 1526.8H130M1430 1526.8H1437M123 1514.8H130M1430 1514.8H1437M123 1504.3H130M1430 1504.3H1437" stroke="#000" stroke-width="2.4" fill="none"/><text x="105" y="1519.2" font-size="30" text-anchor="end">10<tspan font-size="13.5" dy="-17">1</tspan></text><text x="105" y="1715.7" font-size="30" text-anchor="end">10<tspan font-size="13.5" dy="-17">0</tspan></text><text x="105" y="1909.7" font-size="30" text-anchor="end">10<tspan font-size="13.5" dy="-17">-1</tspan></text><text font-size="30" text-anchor="middle" transform="translate(29,1704.5) rotate(-90)"><tspan font-style="italic">f</tspan> (Hz)</text><rect x="1455.3" y="1263.7" width="25.7" height="438" fill="url(#cbg)" stroke="#000" stroke-width="1.4"/><path d="M1481 1263V1702.4" stroke="#000" stroke-width="2"/><text x="1492.5" y="1288.6" font-size="29.5">10<tspan font-size="13.5" dy="-17">3</tspan></text><text x="1492.5" y="1425" font-size="29.5">10<tspan font-size="13.5" dy="-17">2</tspan></text><text x="1492.5" y="1570.6" font-size="29.5">10<tspan font-size="13.5" dy="-17">1</tspan></text><text x="1492.5" y="1699.6" font-size="29.5">10<tspan font-size="13.5" dy="-17">0</tspan></text><text font-size="30" text-anchor="middle" transform="translate(1569.5,1483) rotate(-90)">Wavelet Power</text><text x="130.5" y="1972.9" font-size="30.6" text-anchor="middle" fill="#000">08:30</text><text x="260.5" y="1972.9" font-size="30.6" text-anchor="middle" fill="#000">08:45</text><text x="390.5" y="1972.9" font-size="30.6" text-anchor="middle" fill="#000">09:00</text><text x="520.5" y="1972.9" font-size="30.6" text-anchor="middle" fill="#000">09:15</text><text x="650.5" y="1972.9" font-size="30.6" text-anchor="middle" fill="#000">09:30</text><text x="780.5" y="1972.9" font-size="30.6" text-anchor="middle" fill="#000">09:45</text><text x="910.5" y="1972.9" font-size="30.6" text-anchor="middle" fill="#000">10:00</text><text x="1040.5" y="1972.9" font-size="30.6" text-anchor="middle" fill="#000">10:15</text><text x="1170.5" y="1972.9" font-size="30.6" text-anchor="middle" fill="#000">10:30</text><text x="1300.5" y="1972.9" font-size="30.6" text-anchor="middle" fill="#000">10:45</text><text x="1430.5" y="1972.9" font-size="30.6" text-anchor="middle" fill="#000">11:00</text><text x="130.5" y="2011.8" font-size="30.6" text-anchor="middle" fill="#000">1.948</text><text x="260.5" y="2011.8" font-size="30.6" text-anchor="middle" fill="#000">1.591</text><text x="390.5" y="2011.8" font-size="30.6" text-anchor="middle" fill="#000">1.042</text><text x="520.5" y="2011.8" font-size="30.6" text-anchor="middle" fill="#000">0.312</text><text x="650.5" y="2011.8" font-size="30.6" text-anchor="middle" fill="#000">-0.490</text><text x="780.5" y="2011.8" font-size="30.6" text-anchor="middle" fill="#000">-0.992</text><text x="910.5" y="2011.8" font-size="30.6" text-anchor="middle" fill="#000">-0.830</text><text x="1040.5" y="2011.8" font-size="30.6" text-anchor="middle" fill="#000">-0.251</text><text x="1170.5" y="2011.8" font-size="30.6" text-anchor="middle" fill="#000">0.411</text><text x="1300.5" y="2011.8" font-size="30.6" text-anchor="middle" fill="#000">1.014</text><text x="1430.5" y="2011.8" font-size="30.6" text-anchor="middle" fill="#000">1.507</text><text x="130.5" y="2046.2" font-size="30.6" text-anchor="middle" fill="#000">0.845</text><text x="260.5" y="2046.2" font-size="30.6" text-anchor="middle" fill="#000">1.044</text><text x="390.5" y="2046.2" font-size="30.6" text-anchor="middle" fill="#000">1.115</text><text x="520.5" y="2046.2" font-size="30.6" text-anchor="middle" fill="#000">0.982</text><text x="650.5" y="2046.2" font-size="30.6" text-anchor="middle" fill="#000">0.551</text><text x="780.5" y="2046.2" font-size="30.6" text-anchor="middle" fill="#000">-0.155</text><text x="910.5" y="2046.2" font-size="30.6" text-anchor="middle" fill="#000">-0.763</text><text x="1040.5" y="2046.2" font-size="30.6" text-anchor="middle" fill="#000">-1.028</text><text x="1170.5" y="2046.2" font-size="30.6" text-anchor="middle" fill="#000">-1.020</text><text x="1300.5" y="2046.2" font-size="30.6" text-anchor="middle" fill="#000">-0.847</text><text x="1430.5" y="2046.2" font-size="30.6" text-anchor="middle" fill="#000">-0.578</text><text x="130.5" y="2080.6" font-size="30.6" text-anchor="middle" fill="#000">0.018</text><text x="260.5" y="2080.6" font-size="30.6" text-anchor="middle" fill="#000">-0.396</text><text x="390.5" y="2080.6" font-size="30.6" text-anchor="middle" fill="#000">-0.759</text><text x="520.5" y="2080.6" font-size="30.6" text-anchor="middle" fill="#000">-0.978</text><text x="650.5" y="2080.6" font-size="30.6" text-anchor="middle" fill="#000">-0.888</text><text x="780.5" y="2080.6" font-size="30.6" text-anchor="middle" fill="#000">-0.326</text><text x="910.5" y="2080.6" font-size="30.6" text-anchor="middle" fill="#000">0.463</text><text x="1040.5" y="2080.6" font-size="30.6" text-anchor="middle" fill="#000">1.064</text><text x="1170.5" y="2080.6" font-size="30.6" text-anchor="middle" fill="#000">1.393</text><text x="1300.5" y="2080.6" font-size="30.6" text-anchor="middle" fill="#000">1.499</text><text x="1430.5" y="2080.6" font-size="30.6" text-anchor="middle" fill="#000">1.437</text><text x="0.5" y="1974.6" font-size="31" fill="#000">UT</text><text x="0" y="2007.9" font-size="31">X<tspan font-size="19" dy="9.1">MSO</tspan></text><text x="0" y="2041.8" font-size="31">Y<tspan font-size="19" dy="9.1">MSO</tspan></text><text x="0" y="2076.5" font-size="31">Z<tspan font-size="19" dy="9.1">MSO</tspan></text></svg></body></html>
